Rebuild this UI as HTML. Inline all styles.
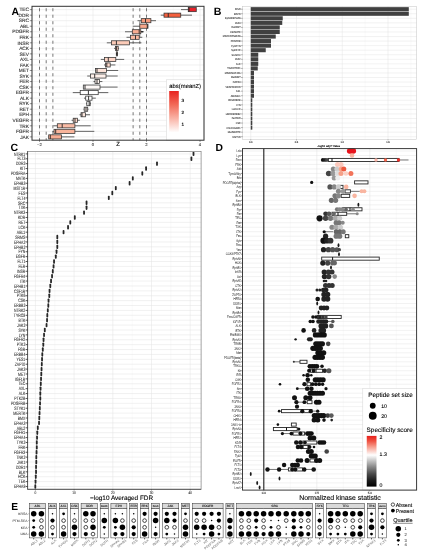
<!DOCTYPE html>
<html lang="en"><head><meta charset="utf-8"><title>Figure</title>
<style>
html,body{margin:0;padding:0;background:#fff;}
body{width:428px;height:550px;overflow:hidden;font-family:'Liberation Sans', sans-serif;}
svg{display:block;font-family:'Liberation Sans', sans-serif;text-rendering:geometricPrecision;filter:blur(0.35px);}
</style></head><body>
<svg width="428" height="550" viewBox="0 0 428 550">
<defs>
<linearGradient id="gA" x1="0" y1="0" x2="0" y2="1">
<stop offset="0" stop-color="#e8231f"/><stop offset="0.33" stop-color="#f26a58"/><stop offset="0.66" stop-color="#f9b3a6"/><stop offset="1" stop-color="#ffffff"/>
</linearGradient>
<linearGradient id="gD" x1="0" y1="0" x2="0" y2="1">
<stop offset="0" stop-color="#e8201c"/><stop offset="0.1" stop-color="#ef5040"/><stop offset="0.22" stop-color="#f7a090"/><stop offset="0.378" stop-color="#ffffff"/><stop offset="0.5" stop-color="#c0c0c0"/><stop offset="0.62" stop-color="#858585"/><stop offset="0.75" stop-color="#4a4a4a"/><stop offset="0.88" stop-color="#1c1c1c"/><stop offset="1" stop-color="#000000"/>
</linearGradient>
</defs>
<rect width="428" height="550" fill="#fff"/>
<g id="panelA">
<line x1="66.25" y1="6.30" x2="66.25" y2="140.20" stroke="#ededed" stroke-width="0.3"/>
<line x1="119.75" y1="6.30" x2="119.75" y2="140.20" stroke="#ededed" stroke-width="0.3"/>
<line x1="173.25" y1="6.30" x2="173.25" y2="140.20" stroke="#ededed" stroke-width="0.3"/>
<line x1="39.50" y1="6.30" x2="39.50" y2="140.20" stroke="#e3e3e3" stroke-width="0.5"/>
<line x1="93.00" y1="6.30" x2="93.00" y2="140.20" stroke="#e3e3e3" stroke-width="0.5"/>
<line x1="146.50" y1="6.30" x2="146.50" y2="140.20" stroke="#e3e3e3" stroke-width="0.5"/>
<line x1="200.00" y1="6.30" x2="200.00" y2="140.20" stroke="#e3e3e3" stroke-width="0.5"/>
<line x1="32.00" y1="9.62" x2="204.00" y2="9.62" stroke="#e3e3e3" stroke-width="0.5"/>
<line x1="32.00" y1="15.15" x2="204.00" y2="15.15" stroke="#e3e3e3" stroke-width="0.5"/>
<line x1="32.00" y1="20.69" x2="204.00" y2="20.69" stroke="#e3e3e3" stroke-width="0.5"/>
<line x1="32.00" y1="26.22" x2="204.00" y2="26.22" stroke="#e3e3e3" stroke-width="0.5"/>
<line x1="32.00" y1="31.75" x2="204.00" y2="31.75" stroke="#e3e3e3" stroke-width="0.5"/>
<line x1="32.00" y1="37.29" x2="204.00" y2="37.29" stroke="#e3e3e3" stroke-width="0.5"/>
<line x1="32.00" y1="42.82" x2="204.00" y2="42.82" stroke="#e3e3e3" stroke-width="0.5"/>
<line x1="32.00" y1="48.35" x2="204.00" y2="48.35" stroke="#e3e3e3" stroke-width="0.5"/>
<line x1="32.00" y1="53.88" x2="204.00" y2="53.88" stroke="#e3e3e3" stroke-width="0.5"/>
<line x1="32.00" y1="59.42" x2="204.00" y2="59.42" stroke="#e3e3e3" stroke-width="0.5"/>
<line x1="32.00" y1="64.95" x2="204.00" y2="64.95" stroke="#e3e3e3" stroke-width="0.5"/>
<line x1="32.00" y1="70.48" x2="204.00" y2="70.48" stroke="#e3e3e3" stroke-width="0.5"/>
<line x1="32.00" y1="76.02" x2="204.00" y2="76.02" stroke="#e3e3e3" stroke-width="0.5"/>
<line x1="32.00" y1="81.55" x2="204.00" y2="81.55" stroke="#e3e3e3" stroke-width="0.5"/>
<line x1="32.00" y1="87.08" x2="204.00" y2="87.08" stroke="#e3e3e3" stroke-width="0.5"/>
<line x1="32.00" y1="92.62" x2="204.00" y2="92.62" stroke="#e3e3e3" stroke-width="0.5"/>
<line x1="32.00" y1="98.15" x2="204.00" y2="98.15" stroke="#e3e3e3" stroke-width="0.5"/>
<line x1="32.00" y1="103.68" x2="204.00" y2="103.68" stroke="#e3e3e3" stroke-width="0.5"/>
<line x1="32.00" y1="109.21" x2="204.00" y2="109.21" stroke="#e3e3e3" stroke-width="0.5"/>
<line x1="32.00" y1="114.75" x2="204.00" y2="114.75" stroke="#e3e3e3" stroke-width="0.5"/>
<line x1="32.00" y1="120.28" x2="204.00" y2="120.28" stroke="#e3e3e3" stroke-width="0.5"/>
<line x1="32.00" y1="125.81" x2="204.00" y2="125.81" stroke="#e3e3e3" stroke-width="0.5"/>
<line x1="32.00" y1="131.35" x2="204.00" y2="131.35" stroke="#e3e3e3" stroke-width="0.5"/>
<line x1="32.00" y1="136.88" x2="204.00" y2="136.88" stroke="#e3e3e3" stroke-width="0.5"/>
<line x1="39.50" y1="6.30" x2="39.50" y2="140.20" stroke="#606060" stroke-width="0.85" stroke-dasharray="3.1,3.4" stroke-dashoffset="4.6"/>
<line x1="46.19" y1="6.30" x2="46.19" y2="140.20" stroke="#606060" stroke-width="0.85" stroke-dasharray="3.1,3.4" stroke-dashoffset="4.6"/>
<line x1="52.88" y1="6.30" x2="52.88" y2="140.20" stroke="#606060" stroke-width="0.85" stroke-dasharray="3.1,3.4" stroke-dashoffset="4.6"/>
<line x1="133.12" y1="6.30" x2="133.12" y2="140.20" stroke="#606060" stroke-width="0.85" stroke-dasharray="3.1,3.4" stroke-dashoffset="4.6"/>
<line x1="139.81" y1="6.30" x2="139.81" y2="140.20" stroke="#606060" stroke-width="0.85" stroke-dasharray="3.1,3.4" stroke-dashoffset="4.6"/>
<line x1="146.50" y1="6.30" x2="146.50" y2="140.20" stroke="#606060" stroke-width="0.85" stroke-dasharray="3.1,3.4" stroke-dashoffset="4.6"/>
<line x1="181.00" y1="9.62" x2="196.25" y2="9.62" stroke="#333" stroke-width="0.75"/>
<rect x="188.25" y="7.57" width="8.00" height="4.10" fill="#e8222a" stroke="#333" stroke-width="0.75"/>
<line x1="189.00" y1="7.57" x2="189.00" y2="11.67" stroke="#222" stroke-width="0.9"/>
<line x1="160.75" y1="15.15" x2="192.00" y2="15.15" stroke="#333" stroke-width="0.75"/>
<rect x="164.00" y="13.10" width="16.75" height="4.10" fill="#f4603e" stroke="#333" stroke-width="0.75"/>
<line x1="168.25" y1="13.10" x2="168.25" y2="17.20" stroke="#222" stroke-width="0.9"/>
<line x1="137.50" y1="20.69" x2="156.00" y2="20.69" stroke="#333" stroke-width="0.75"/>
<rect x="141.25" y="18.64" width="9.65" height="4.10" fill="#f59a7c" stroke="#333" stroke-width="0.75"/>
<line x1="145.50" y1="18.64" x2="145.50" y2="22.74" stroke="#222" stroke-width="0.9"/>
<line x1="132.75" y1="26.22" x2="148.00" y2="26.22" stroke="#333" stroke-width="0.75"/>
<rect x="139.80" y="24.17" width="8.20" height="4.10" fill="#f7a68a" stroke="#333" stroke-width="0.75"/>
<line x1="147.30" y1="24.17" x2="147.30" y2="28.27" stroke="#222" stroke-width="0.9"/>
<line x1="125.00" y1="31.75" x2="143.75" y2="31.75" stroke="#333" stroke-width="0.75"/>
<rect x="132.30" y="29.70" width="8.50" height="4.10" fill="#f8ad92" stroke="#333" stroke-width="0.75"/>
<line x1="139.20" y1="29.70" x2="139.20" y2="33.80" stroke="#222" stroke-width="0.9"/>
<line x1="126.50" y1="37.29" x2="142.30" y2="37.29" stroke="#333" stroke-width="0.75"/>
<rect x="130.60" y="35.24" width="8.60" height="4.10" fill="#f9b9a1" stroke="#333" stroke-width="0.75"/>
<line x1="135.50" y1="35.24" x2="135.50" y2="39.34" stroke="#222" stroke-width="0.9"/>
<line x1="106.80" y1="42.82" x2="141.40" y2="42.82" stroke="#333" stroke-width="0.75"/>
<rect x="111.50" y="40.77" width="17.90" height="4.10" fill="#fbcbb8" stroke="#333" stroke-width="0.75"/>
<line x1="116.40" y1="40.77" x2="116.40" y2="44.87" stroke="#222" stroke-width="0.9"/>
<line x1="114.00" y1="48.35" x2="119.00" y2="48.35" stroke="#333" stroke-width="0.75"/>
<rect x="115.40" y="46.30" width="2.80" height="4.10" fill="#fbcbb8" stroke="#333" stroke-width="0.75"/>
<line x1="116.60" y1="46.30" x2="116.60" y2="50.40" stroke="#222" stroke-width="0.9"/>
<line x1="116.30" y1="53.88" x2="117.50" y2="53.88" stroke="#333" stroke-width="0.75"/>
<rect x="116.30" y="51.83" width="1.20" height="4.10" fill="#fbcbb8" stroke="#333" stroke-width="0.75"/>
<line x1="116.90" y1="51.83" x2="116.90" y2="55.93" stroke="#222" stroke-width="0.9"/>
<line x1="100.80" y1="59.42" x2="124.20" y2="59.42" stroke="#333" stroke-width="0.75"/>
<rect x="104.60" y="57.37" width="11.20" height="4.10" fill="#fcd5c6" stroke="#333" stroke-width="0.75"/>
<line x1="108.30" y1="57.37" x2="108.30" y2="61.47" stroke="#222" stroke-width="0.9"/>
<line x1="104.00" y1="64.95" x2="115.40" y2="64.95" stroke="#333" stroke-width="0.75"/>
<rect x="105.50" y="62.90" width="4.70" height="4.10" fill="#fcd9cb" stroke="#333" stroke-width="0.75"/>
<line x1="106.80" y1="62.90" x2="106.80" y2="67.00" stroke="#222" stroke-width="0.9"/>
<line x1="95.60" y1="70.48" x2="118.20" y2="70.48" stroke="#333" stroke-width="0.75"/>
<rect x="95.60" y="68.43" width="10.80" height="4.10" fill="#fde4da" stroke="#333" stroke-width="0.75"/>
<line x1="97.00" y1="68.43" x2="97.00" y2="72.53" stroke="#222" stroke-width="0.9"/>
<line x1="87.20" y1="76.02" x2="117.70" y2="76.02" stroke="#333" stroke-width="0.75"/>
<rect x="90.60" y="73.97" width="15.40" height="4.10" fill="#fef0ea" stroke="#333" stroke-width="0.75"/>
<line x1="94.70" y1="73.97" x2="94.70" y2="78.07" stroke="#222" stroke-width="0.9"/>
<line x1="93.50" y1="81.55" x2="102.40" y2="81.55" stroke="#333" stroke-width="0.75"/>
<rect x="95.00" y="79.50" width="4.60" height="4.10" fill="#fef3ee" stroke="#333" stroke-width="0.75"/>
<line x1="97.00" y1="79.50" x2="97.00" y2="83.60" stroke="#222" stroke-width="0.9"/>
<line x1="83.30" y1="87.08" x2="117.60" y2="87.08" stroke="#333" stroke-width="0.75"/>
<rect x="83.30" y="85.03" width="16.70" height="4.10" fill="#fffaf8" stroke="#333" stroke-width="0.75"/>
<line x1="85.00" y1="85.03" x2="85.00" y2="89.13" stroke="#222" stroke-width="0.9"/>
<line x1="72.80" y1="92.62" x2="108.30" y2="92.62" stroke="#333" stroke-width="0.75"/>
<rect x="80.20" y="90.57" width="18.00" height="4.10" fill="#ffffff" stroke="#333" stroke-width="0.75"/>
<line x1="88.40" y1="90.57" x2="88.40" y2="94.67" stroke="#222" stroke-width="0.9"/>
<line x1="84.00" y1="98.15" x2="95.80" y2="98.15" stroke="#333" stroke-width="0.75"/>
<rect x="85.70" y="96.10" width="6.30" height="4.10" fill="#ffffff" stroke="#333" stroke-width="0.75"/>
<line x1="88.60" y1="96.10" x2="88.60" y2="100.20" stroke="#222" stroke-width="0.9"/>
<line x1="86.00" y1="103.68" x2="91.00" y2="103.68" stroke="#333" stroke-width="0.75"/>
<rect x="86.80" y="101.63" width="3.40" height="4.10" fill="#f4f4f4" stroke="#333" stroke-width="0.75"/>
<line x1="89.20" y1="101.63" x2="89.20" y2="105.73" stroke="#222" stroke-width="0.9"/>
<line x1="83.50" y1="109.21" x2="88.50" y2="109.21" stroke="#333" stroke-width="0.75"/>
<rect x="84.20" y="107.16" width="3.50" height="4.10" fill="#fff5f0" stroke="#333" stroke-width="0.75"/>
<line x1="86.00" y1="107.16" x2="86.00" y2="111.26" stroke="#222" stroke-width="0.9"/>
<line x1="79.50" y1="114.75" x2="90.00" y2="114.75" stroke="#333" stroke-width="0.75"/>
<rect x="81.00" y="112.70" width="4.40" height="4.10" fill="#fde9e0" stroke="#333" stroke-width="0.75"/>
<line x1="82.00" y1="112.70" x2="82.00" y2="116.80" stroke="#222" stroke-width="0.9"/>
<line x1="71.60" y1="120.28" x2="79.80" y2="120.28" stroke="#333" stroke-width="0.75"/>
<rect x="73.20" y="118.23" width="4.20" height="4.10" fill="#fcd9cb" stroke="#333" stroke-width="0.75"/>
<line x1="75.00" y1="118.23" x2="75.00" y2="122.33" stroke="#222" stroke-width="0.9"/>
<line x1="53.40" y1="125.81" x2="90.70" y2="125.81" stroke="#333" stroke-width="0.75"/>
<rect x="57.30" y="123.76" width="17.60" height="4.10" fill="#f9bba5" stroke="#333" stroke-width="0.75"/>
<line x1="62.20" y1="123.76" x2="62.20" y2="127.86" stroke="#222" stroke-width="0.9"/>
<line x1="52.20" y1="131.35" x2="94.30" y2="131.35" stroke="#333" stroke-width="0.75"/>
<rect x="54.00" y="129.30" width="20.90" height="4.10" fill="#f8b49b" stroke="#333" stroke-width="0.75"/>
<line x1="55.70" y1="129.30" x2="55.70" y2="133.40" stroke="#222" stroke-width="0.9"/>
<line x1="48.70" y1="136.88" x2="74.40" y2="136.88" stroke="#333" stroke-width="0.75"/>
<rect x="48.70" y="134.83" width="12.80" height="4.10" fill="#f7ad93" stroke="#333" stroke-width="0.75"/>
<line x1="50.30" y1="134.83" x2="50.30" y2="138.93" stroke="#222" stroke-width="0.9"/>
<circle cx="141.50" cy="31.75" r="0.70" fill="#222" stroke="none" stroke-width="0.5"/>
<circle cx="142.60" cy="31.75" r="0.70" fill="#222" stroke="none" stroke-width="0.5"/>
<circle cx="116.80" cy="53.88" r="0.70" fill="#222" stroke="none" stroke-width="0.5"/>
<rect x="166.40" y="79.80" width="37.60" height="60.40" fill="#fff" stroke="#d4d4d4" stroke-width="0.5"/>
<text x="169.30" y="88.00" font-size="5.9" text-anchor="start" fill="#000" stroke="#000" stroke-width="0.1">abs(meanZ)</text>
<rect x="169.20" y="91.00" width="9.60" height="41.60" fill="url(#gA)" stroke="none" stroke-width="0.5"/>
<text x="181.50" y="101.60" font-size="4.6" text-anchor="start" fill="#000" stroke="#000" stroke-width="0.14">3</text>
<text x="181.50" y="114.00" font-size="4.6" text-anchor="start" fill="#000" stroke="#000" stroke-width="0.14">2</text>
<text x="181.50" y="126.00" font-size="4.6" text-anchor="start" fill="#000" stroke="#000" stroke-width="0.14">1</text>
<rect x="32.00" y="6.30" width="172.00" height="133.90" fill="none" stroke="#333" stroke-width="1.0"/>
<line x1="29.80" y1="9.62" x2="32.00" y2="9.62" stroke="#222" stroke-width="0.5"/>
<text x="29.00" y="11.32" font-size="4.8" text-anchor="end" fill="#404040" stroke="#404040" stroke-width="0.14">TEC</text>
<line x1="29.80" y1="15.15" x2="32.00" y2="15.15" stroke="#222" stroke-width="0.5"/>
<text x="29.00" y="16.85" font-size="4.8" text-anchor="end" fill="#404040" stroke="#404040" stroke-width="0.14">DDR</text>
<line x1="29.80" y1="20.69" x2="32.00" y2="20.69" stroke="#222" stroke-width="0.5"/>
<text x="29.00" y="22.39" font-size="4.8" text-anchor="end" fill="#404040" stroke="#404040" stroke-width="0.14">SRC</text>
<line x1="29.80" y1="26.22" x2="32.00" y2="26.22" stroke="#222" stroke-width="0.5"/>
<text x="29.00" y="27.92" font-size="4.8" text-anchor="end" fill="#404040" stroke="#404040" stroke-width="0.14">ABL</text>
<line x1="29.80" y1="31.75" x2="32.00" y2="31.75" stroke="#222" stroke-width="0.5"/>
<text x="29.00" y="33.45" font-size="4.8" text-anchor="end" fill="#404040" stroke="#404040" stroke-width="0.14">PDGFR</text>
<line x1="29.80" y1="37.29" x2="32.00" y2="37.29" stroke="#222" stroke-width="0.5"/>
<text x="29.00" y="38.99" font-size="4.8" text-anchor="end" fill="#404040" stroke="#404040" stroke-width="0.14">FRK</text>
<line x1="29.80" y1="42.82" x2="32.00" y2="42.82" stroke="#222" stroke-width="0.5"/>
<text x="29.00" y="44.52" font-size="4.8" text-anchor="end" fill="#404040" stroke="#404040" stroke-width="0.14">INSR</text>
<line x1="29.80" y1="48.35" x2="32.00" y2="48.35" stroke="#222" stroke-width="0.5"/>
<text x="29.00" y="50.05" font-size="4.8" text-anchor="end" fill="#404040" stroke="#404040" stroke-width="0.14">ACK</text>
<line x1="29.80" y1="53.88" x2="32.00" y2="53.88" stroke="#222" stroke-width="0.5"/>
<text x="29.00" y="55.58" font-size="4.8" text-anchor="end" fill="#404040" stroke="#404040" stroke-width="0.14">SEV</text>
<line x1="29.80" y1="59.42" x2="32.00" y2="59.42" stroke="#222" stroke-width="0.5"/>
<text x="29.00" y="61.12" font-size="4.8" text-anchor="end" fill="#404040" stroke="#404040" stroke-width="0.14">AXL</text>
<line x1="29.80" y1="64.95" x2="32.00" y2="64.95" stroke="#222" stroke-width="0.5"/>
<text x="29.00" y="66.65" font-size="4.8" text-anchor="end" fill="#404040" stroke="#404040" stroke-width="0.14">FAK</text>
<line x1="29.80" y1="70.48" x2="32.00" y2="70.48" stroke="#222" stroke-width="0.5"/>
<text x="29.00" y="72.18" font-size="4.8" text-anchor="end" fill="#404040" stroke="#404040" stroke-width="0.14">MET</text>
<line x1="29.80" y1="76.02" x2="32.00" y2="76.02" stroke="#222" stroke-width="0.5"/>
<text x="29.00" y="77.72" font-size="4.8" text-anchor="end" fill="#404040" stroke="#404040" stroke-width="0.14">SYK</text>
<line x1="29.80" y1="81.55" x2="32.00" y2="81.55" stroke="#222" stroke-width="0.5"/>
<text x="29.00" y="83.25" font-size="4.8" text-anchor="end" fill="#404040" stroke="#404040" stroke-width="0.14">FER</text>
<line x1="29.80" y1="87.08" x2="32.00" y2="87.08" stroke="#222" stroke-width="0.5"/>
<text x="29.00" y="88.78" font-size="4.8" text-anchor="end" fill="#404040" stroke="#404040" stroke-width="0.14">CSK</text>
<line x1="29.80" y1="92.62" x2="32.00" y2="92.62" stroke="#222" stroke-width="0.5"/>
<text x="29.00" y="94.32" font-size="4.8" text-anchor="end" fill="#404040" stroke="#404040" stroke-width="0.14">EGFR</text>
<line x1="29.80" y1="98.15" x2="32.00" y2="98.15" stroke="#222" stroke-width="0.5"/>
<text x="29.00" y="99.85" font-size="4.8" text-anchor="end" fill="#404040" stroke="#404040" stroke-width="0.14">ALK</text>
<line x1="29.80" y1="103.68" x2="32.00" y2="103.68" stroke="#222" stroke-width="0.5"/>
<text x="29.00" y="105.38" font-size="4.8" text-anchor="end" fill="#404040" stroke="#404040" stroke-width="0.14">RYK</text>
<line x1="29.80" y1="109.21" x2="32.00" y2="109.21" stroke="#222" stroke-width="0.5"/>
<text x="29.00" y="110.91" font-size="4.8" text-anchor="end" fill="#404040" stroke="#404040" stroke-width="0.14">RET</text>
<line x1="29.80" y1="114.75" x2="32.00" y2="114.75" stroke="#222" stroke-width="0.5"/>
<text x="29.00" y="116.45" font-size="4.8" text-anchor="end" fill="#404040" stroke="#404040" stroke-width="0.14">EPH</text>
<line x1="29.80" y1="120.28" x2="32.00" y2="120.28" stroke="#222" stroke-width="0.5"/>
<text x="29.00" y="121.98" font-size="4.8" text-anchor="end" fill="#404040" stroke="#404040" stroke-width="0.14">VEGFR</text>
<line x1="29.80" y1="125.81" x2="32.00" y2="125.81" stroke="#222" stroke-width="0.5"/>
<text x="29.00" y="127.51" font-size="4.8" text-anchor="end" fill="#404040" stroke="#404040" stroke-width="0.14">TRK</text>
<line x1="29.80" y1="131.35" x2="32.00" y2="131.35" stroke="#222" stroke-width="0.5"/>
<text x="29.00" y="133.05" font-size="4.8" text-anchor="end" fill="#404040" stroke="#404040" stroke-width="0.14">FGFR</text>
<line x1="29.80" y1="136.88" x2="32.00" y2="136.88" stroke="#222" stroke-width="0.5"/>
<text x="29.00" y="138.58" font-size="4.8" text-anchor="end" fill="#404040" stroke="#404040" stroke-width="0.14">JAK</text>
<line x1="39.50" y1="140.20" x2="39.50" y2="141.80" stroke="#222" stroke-width="0.5"/>
<text x="39.50" y="145.80" font-size="4.2" text-anchor="middle" fill="#4d4d4d" stroke="#4d4d4d" stroke-width="0.14">−2</text>
<line x1="93.00" y1="140.20" x2="93.00" y2="141.80" stroke="#222" stroke-width="0.5"/>
<text x="93.00" y="145.80" font-size="4.2" text-anchor="middle" fill="#4d4d4d" stroke="#4d4d4d" stroke-width="0.14">0</text>
<line x1="146.50" y1="140.20" x2="146.50" y2="141.80" stroke="#222" stroke-width="0.5"/>
<text x="146.50" y="145.80" font-size="4.2" text-anchor="middle" fill="#4d4d4d" stroke="#4d4d4d" stroke-width="0.14">2</text>
<line x1="200.00" y1="140.20" x2="200.00" y2="141.80" stroke="#222" stroke-width="0.5"/>
<text x="200.00" y="145.80" font-size="4.2" text-anchor="middle" fill="#4d4d4d" stroke="#4d4d4d" stroke-width="0.14">4</text>
<text x="118.00" y="145.80" font-size="6" text-anchor="middle" fill="#000" stroke="#000" stroke-width="0.1">Z</text>
<text x="11.60" y="14.60" font-size="10.4" text-anchor="start" fill="#000" font-weight="bold">A</text>
</g>
<g id="panelB">
<line x1="273.62" y1="6.40" x2="273.62" y2="139.30" stroke="#ededed" stroke-width="0.3"/>
<line x1="319.38" y1="6.40" x2="319.38" y2="139.30" stroke="#ededed" stroke-width="0.3"/>
<line x1="365.12" y1="6.40" x2="365.12" y2="139.30" stroke="#ededed" stroke-width="0.3"/>
<line x1="410.88" y1="6.40" x2="410.88" y2="139.30" stroke="#ededed" stroke-width="0.3"/>
<line x1="250.75" y1="6.40" x2="250.75" y2="139.30" stroke="#e3e3e3" stroke-width="0.5"/>
<line x1="296.50" y1="6.40" x2="296.50" y2="139.30" stroke="#e3e3e3" stroke-width="0.5"/>
<line x1="342.25" y1="6.40" x2="342.25" y2="139.30" stroke="#e3e3e3" stroke-width="0.5"/>
<line x1="388.00" y1="6.40" x2="388.00" y2="139.30" stroke="#e3e3e3" stroke-width="0.5"/>
<line x1="242.60" y1="9.20" x2="416.70" y2="9.20" stroke="#e3e3e3" stroke-width="0.45"/>
<line x1="242.60" y1="13.75" x2="416.70" y2="13.75" stroke="#e3e3e3" stroke-width="0.45"/>
<line x1="242.60" y1="18.31" x2="416.70" y2="18.31" stroke="#e3e3e3" stroke-width="0.45"/>
<line x1="242.60" y1="22.86" x2="416.70" y2="22.86" stroke="#e3e3e3" stroke-width="0.45"/>
<line x1="242.60" y1="27.42" x2="416.70" y2="27.42" stroke="#e3e3e3" stroke-width="0.45"/>
<line x1="242.60" y1="31.97" x2="416.70" y2="31.97" stroke="#e3e3e3" stroke-width="0.45"/>
<line x1="242.60" y1="36.52" x2="416.70" y2="36.52" stroke="#e3e3e3" stroke-width="0.45"/>
<line x1="242.60" y1="41.08" x2="416.70" y2="41.08" stroke="#e3e3e3" stroke-width="0.45"/>
<line x1="242.60" y1="45.63" x2="416.70" y2="45.63" stroke="#e3e3e3" stroke-width="0.45"/>
<line x1="242.60" y1="50.19" x2="416.70" y2="50.19" stroke="#e3e3e3" stroke-width="0.45"/>
<line x1="242.60" y1="54.74" x2="416.70" y2="54.74" stroke="#e3e3e3" stroke-width="0.45"/>
<line x1="242.60" y1="59.29" x2="416.70" y2="59.29" stroke="#e3e3e3" stroke-width="0.45"/>
<line x1="242.60" y1="63.85" x2="416.70" y2="63.85" stroke="#e3e3e3" stroke-width="0.45"/>
<line x1="242.60" y1="68.40" x2="416.70" y2="68.40" stroke="#e3e3e3" stroke-width="0.45"/>
<line x1="242.60" y1="72.96" x2="416.70" y2="72.96" stroke="#e3e3e3" stroke-width="0.45"/>
<line x1="242.60" y1="77.51" x2="416.70" y2="77.51" stroke="#e3e3e3" stroke-width="0.45"/>
<line x1="242.60" y1="82.06" x2="416.70" y2="82.06" stroke="#e3e3e3" stroke-width="0.45"/>
<line x1="242.60" y1="86.62" x2="416.70" y2="86.62" stroke="#e3e3e3" stroke-width="0.45"/>
<line x1="242.60" y1="91.17" x2="416.70" y2="91.17" stroke="#e3e3e3" stroke-width="0.45"/>
<line x1="242.60" y1="95.73" x2="416.70" y2="95.73" stroke="#e3e3e3" stroke-width="0.45"/>
<line x1="242.60" y1="100.28" x2="416.70" y2="100.28" stroke="#e3e3e3" stroke-width="0.45"/>
<line x1="242.60" y1="104.83" x2="416.70" y2="104.83" stroke="#e3e3e3" stroke-width="0.45"/>
<line x1="242.60" y1="109.39" x2="416.70" y2="109.39" stroke="#e3e3e3" stroke-width="0.45"/>
<line x1="242.60" y1="113.94" x2="416.70" y2="113.94" stroke="#e3e3e3" stroke-width="0.45"/>
<line x1="242.60" y1="118.50" x2="416.70" y2="118.50" stroke="#e3e3e3" stroke-width="0.45"/>
<line x1="242.60" y1="123.05" x2="416.70" y2="123.05" stroke="#e3e3e3" stroke-width="0.45"/>
<line x1="242.60" y1="127.60" x2="416.70" y2="127.60" stroke="#e3e3e3" stroke-width="0.45"/>
<line x1="242.60" y1="132.16" x2="416.70" y2="132.16" stroke="#e3e3e3" stroke-width="0.45"/>
<line x1="242.60" y1="136.71" x2="416.70" y2="136.71" stroke="#e3e3e3" stroke-width="0.45"/>
<rect x="250.75" y="7.15" width="158.05" height="4.10" fill="#404040" stroke="none" stroke-width="0.5"/>
<rect x="250.75" y="11.71" width="158.05" height="4.10" fill="#404040" stroke="none" stroke-width="0.5"/>
<rect x="250.75" y="16.26" width="32.00" height="4.10" fill="#404040" stroke="none" stroke-width="0.5"/>
<rect x="250.75" y="20.81" width="31.50" height="4.10" fill="#404040" stroke="none" stroke-width="0.5"/>
<rect x="250.75" y="25.37" width="29.00" height="4.10" fill="#404040" stroke="none" stroke-width="0.5"/>
<rect x="250.75" y="29.92" width="29.00" height="4.10" fill="#404040" stroke="none" stroke-width="0.5"/>
<rect x="250.75" y="34.48" width="25.00" height="4.10" fill="#404040" stroke="none" stroke-width="0.5"/>
<rect x="250.75" y="39.03" width="20.25" height="4.10" fill="#404040" stroke="none" stroke-width="0.5"/>
<rect x="250.75" y="43.58" width="20.25" height="4.10" fill="#404040" stroke="none" stroke-width="0.5"/>
<rect x="250.75" y="48.14" width="15.00" height="4.10" fill="#404040" stroke="none" stroke-width="0.5"/>
<rect x="250.75" y="52.69" width="7.50" height="4.10" fill="#404040" stroke="none" stroke-width="0.5"/>
<rect x="250.75" y="57.25" width="7.50" height="4.10" fill="#404040" stroke="none" stroke-width="0.5"/>
<rect x="250.75" y="61.80" width="7.50" height="4.10" fill="#404040" stroke="none" stroke-width="0.5"/>
<rect x="250.75" y="66.35" width="7.00" height="4.10" fill="#404040" stroke="none" stroke-width="0.5"/>
<rect x="250.75" y="70.91" width="3.25" height="4.10" fill="#404040" stroke="none" stroke-width="0.5"/>
<rect x="250.75" y="75.46" width="3.25" height="4.10" fill="#404040" stroke="none" stroke-width="0.5"/>
<rect x="250.75" y="80.02" width="3.25" height="4.10" fill="#404040" stroke="none" stroke-width="0.5"/>
<rect x="250.75" y="84.57" width="3.25" height="4.10" fill="#404040" stroke="none" stroke-width="0.5"/>
<rect x="250.75" y="89.12" width="3.25" height="4.10" fill="#404040" stroke="none" stroke-width="0.5"/>
<rect x="250.75" y="93.68" width="3.25" height="4.10" fill="#404040" stroke="none" stroke-width="0.5"/>
<rect x="250.75" y="98.23" width="1.55" height="4.10" fill="#404040" stroke="none" stroke-width="0.5"/>
<rect x="250.75" y="102.79" width="1.55" height="4.10" fill="#404040" stroke="none" stroke-width="0.5"/>
<rect x="250.75" y="107.34" width="1.55" height="4.10" fill="#404040" stroke="none" stroke-width="0.5"/>
<rect x="250.75" y="111.89" width="1.55" height="4.10" fill="#404040" stroke="none" stroke-width="0.5"/>
<rect x="250.75" y="116.45" width="1.55" height="4.10" fill="#404040" stroke="none" stroke-width="0.5"/>
<rect x="250.75" y="121.00" width="1.55" height="4.10" fill="#404040" stroke="none" stroke-width="0.5"/>
<rect x="250.75" y="125.56" width="1.55" height="4.10" fill="#404040" stroke="none" stroke-width="0.5"/>
<rect x="242.60" y="6.40" width="174.10" height="132.90" fill="none" stroke="#c4c4c4" stroke-width="0.5"/>
<line x1="241.20" y1="9.20" x2="242.60" y2="9.20" stroke="#444" stroke-width="0.5"/>
<text transform="translate(240.60,10.15) scale(0.88,1)" font-size="2.7" text-anchor="end" fill="#444" stroke="#444" stroke-width="0.09">INSR</text>
<line x1="241.20" y1="13.75" x2="242.60" y2="13.75" stroke="#444" stroke-width="0.5"/>
<text transform="translate(240.60,14.70) scale(0.88,1)" font-size="2.7" text-anchor="end" fill="#444" stroke="#444" stroke-width="0.09">EGFR</text>
<line x1="241.20" y1="18.31" x2="242.60" y2="18.31" stroke="#444" stroke-width="0.5"/>
<text transform="translate(240.60,19.26) scale(0.88,1)" font-size="2.7" text-anchor="end" fill="#444" stroke="#444" stroke-width="0.09">EphA5/EPHA5</text>
<line x1="241.20" y1="22.86" x2="242.60" y2="22.86" stroke="#444" stroke-width="0.5"/>
<text transform="translate(240.60,23.81) scale(0.88,1)" font-size="2.7" text-anchor="end" fill="#444" stroke="#444" stroke-width="0.09">JAK3</text>
<line x1="241.20" y1="27.42" x2="242.60" y2="27.42" stroke="#444" stroke-width="0.5"/>
<text transform="translate(240.60,28.37) scale(0.88,1)" font-size="2.7" text-anchor="end" fill="#444" stroke="#444" stroke-width="0.09">Ret/RET</text>
<line x1="241.20" y1="31.97" x2="242.60" y2="31.97" stroke="#444" stroke-width="0.5"/>
<text transform="translate(240.60,32.92) scale(0.88,1)" font-size="2.7" text-anchor="end" fill="#444" stroke="#444" stroke-width="0.09">Ctk/MATK</text>
<line x1="241.20" y1="36.52" x2="242.60" y2="36.52" stroke="#444" stroke-width="0.5"/>
<text transform="translate(240.60,37.47) scale(0.88,1)" font-size="2.7" text-anchor="end" fill="#444" stroke="#444" stroke-width="0.09">MSK1/RPS6KA5</text>
<line x1="241.20" y1="41.08" x2="242.60" y2="41.08" stroke="#444" stroke-width="0.5"/>
<text transform="translate(240.60,42.03) scale(0.88,1)" font-size="2.7" text-anchor="end" fill="#444" stroke="#444" stroke-width="0.09">PDGFRB</text>
<line x1="241.20" y1="45.63" x2="242.60" y2="45.63" stroke="#444" stroke-width="0.5"/>
<text transform="translate(240.60,46.58) scale(0.88,1)" font-size="2.7" text-anchor="end" fill="#444" stroke="#444" stroke-width="0.09">Fyn/FYN</text>
<line x1="241.20" y1="50.19" x2="242.60" y2="50.19" stroke="#444" stroke-width="0.5"/>
<text transform="translate(240.60,51.14) scale(0.88,1)" font-size="2.7" text-anchor="end" fill="#444" stroke="#444" stroke-width="0.09">Syk/SYK</text>
<line x1="241.20" y1="54.74" x2="242.60" y2="54.74" stroke="#444" stroke-width="0.5"/>
<text transform="translate(240.60,55.69) scale(0.88,1)" font-size="2.7" text-anchor="end" fill="#444" stroke="#444" stroke-width="0.09">Src/SRC</text>
<line x1="241.20" y1="59.29" x2="242.60" y2="59.29" stroke="#444" stroke-width="0.5"/>
<text transform="translate(240.60,60.24) scale(0.88,1)" font-size="2.7" text-anchor="end" fill="#444" stroke="#444" stroke-width="0.09">JAK2</text>
<line x1="241.20" y1="63.85" x2="242.60" y2="63.85" stroke="#444" stroke-width="0.5"/>
<text transform="translate(240.60,64.80) scale(0.88,1)" font-size="2.7" text-anchor="end" fill="#444" stroke="#444" stroke-width="0.09">ALK</text>
<line x1="241.20" y1="68.40" x2="242.60" y2="68.40" stroke="#444" stroke-width="0.5"/>
<text transform="translate(240.60,69.35) scale(0.88,1)" font-size="2.7" text-anchor="end" fill="#444" stroke="#444" stroke-width="0.09">TrkA/NTRK1</text>
<line x1="241.20" y1="72.96" x2="242.60" y2="72.96" stroke="#444" stroke-width="0.5"/>
<text transform="translate(240.60,73.91) scale(0.88,1)" font-size="2.7" text-anchor="end" fill="#444" stroke="#444" stroke-width="0.09">MINK/MAP4K6</text>
<line x1="241.20" y1="77.51" x2="242.60" y2="77.51" stroke="#444" stroke-width="0.5"/>
<text transform="translate(240.60,78.46) scale(0.88,1)" font-size="2.7" text-anchor="end" fill="#444" stroke="#444" stroke-width="0.09">Met/MET</text>
<line x1="241.20" y1="82.06" x2="242.60" y2="82.06" stroke="#444" stroke-width="0.5"/>
<text transform="translate(240.60,83.01) scale(0.88,1)" font-size="2.7" text-anchor="end" fill="#444" stroke="#444" stroke-width="0.09">DAPK3</text>
<line x1="241.20" y1="86.62" x2="242.60" y2="86.62" stroke="#444" stroke-width="0.5"/>
<text transform="translate(240.60,87.57) scale(0.88,1)" font-size="2.7" text-anchor="end" fill="#444" stroke="#444" stroke-width="0.09">VEGFR2/KDR</text>
<line x1="241.20" y1="91.17" x2="242.60" y2="91.17" stroke="#444" stroke-width="0.5"/>
<text transform="translate(240.60,92.12) scale(0.88,1)" font-size="2.7" text-anchor="end" fill="#444" stroke="#444" stroke-width="0.09">AXL</text>
<line x1="241.20" y1="95.73" x2="242.60" y2="95.73" stroke="#444" stroke-width="0.5"/>
<text transform="translate(240.60,96.68) scale(0.88,1)" font-size="2.7" text-anchor="end" fill="#444" stroke="#444" stroke-width="0.09">Abl/ABL1</text>
<line x1="241.20" y1="100.28" x2="242.60" y2="100.28" stroke="#444" stroke-width="0.5"/>
<text transform="translate(240.60,101.23) scale(0.88,1)" font-size="2.7" text-anchor="end" fill="#444" stroke="#444" stroke-width="0.09">IKKε/IKBKE</text>
<line x1="241.20" y1="104.83" x2="242.60" y2="104.83" stroke="#444" stroke-width="0.5"/>
<text transform="translate(240.60,105.78) scale(0.88,1)" font-size="2.7" text-anchor="end" fill="#444" stroke="#444" stroke-width="0.09">LYN</text>
<line x1="241.20" y1="109.39" x2="242.60" y2="109.39" stroke="#444" stroke-width="0.5"/>
<text transform="translate(240.60,110.34) scale(0.88,1)" font-size="2.7" text-anchor="end" fill="#444" stroke="#444" stroke-width="0.09">Lck/LCK</text>
<line x1="241.20" y1="113.94" x2="242.60" y2="113.94" stroke="#444" stroke-width="0.5"/>
<text transform="translate(240.60,114.89) scale(0.88,1)" font-size="2.7" text-anchor="end" fill="#444" stroke="#444" stroke-width="0.09">HER2/ERBB2</text>
<line x1="241.20" y1="118.50" x2="242.60" y2="118.50" stroke="#444" stroke-width="0.5"/>
<text transform="translate(240.60,119.45) scale(0.88,1)" font-size="2.7" text-anchor="end" fill="#444" stroke="#444" stroke-width="0.09">Fer/FER</text>
<line x1="241.20" y1="123.05" x2="242.60" y2="123.05" stroke="#444" stroke-width="0.5"/>
<text transform="translate(240.60,124.00) scale(0.88,1)" font-size="2.7" text-anchor="end" fill="#444" stroke="#444" stroke-width="0.09">CSK</text>
<line x1="241.20" y1="127.60" x2="242.60" y2="127.60" stroke="#444" stroke-width="0.5"/>
<text transform="translate(240.60,128.55) scale(0.88,1)" font-size="2.7" text-anchor="end" fill="#444" stroke="#444" stroke-width="0.09">Chk1/CHEK1</text>
<line x1="241.20" y1="132.16" x2="242.60" y2="132.16" stroke="#444" stroke-width="0.5"/>
<text transform="translate(240.60,133.11) scale(0.88,1)" font-size="2.7" text-anchor="end" fill="#444" stroke="#444" stroke-width="0.09">Mer/MERTK</text>
<line x1="241.20" y1="136.71" x2="242.60" y2="136.71" stroke="#444" stroke-width="0.5"/>
<text transform="translate(240.60,137.66) scale(0.88,1)" font-size="2.7" text-anchor="end" fill="#444" stroke="#444" stroke-width="0.09">MST1R</text>
<line x1="250.75" y1="139.30" x2="250.75" y2="140.50" stroke="#555" stroke-width="0.35"/>
<text x="250.75" y="143.20" font-size="2.6" text-anchor="middle" fill="#4d4d4d" stroke="#4d4d4d" stroke-width="0.14">0.0</text>
<line x1="296.50" y1="139.30" x2="296.50" y2="140.50" stroke="#555" stroke-width="0.35"/>
<text x="296.50" y="143.20" font-size="2.6" text-anchor="middle" fill="#4d4d4d" stroke="#4d4d4d" stroke-width="0.14">0.5</text>
<line x1="342.25" y1="139.30" x2="342.25" y2="140.50" stroke="#555" stroke-width="0.35"/>
<text x="342.25" y="143.20" font-size="2.6" text-anchor="middle" fill="#4d4d4d" stroke="#4d4d4d" stroke-width="0.14">1.0</text>
<line x1="388.00" y1="139.30" x2="388.00" y2="140.50" stroke="#555" stroke-width="0.35"/>
<text x="388.00" y="143.20" font-size="2.6" text-anchor="middle" fill="#4d4d4d" stroke="#4d4d4d" stroke-width="0.14">1.5</text>
<text x="328.65" y="146.90" font-size="2.8" text-anchor="middle" fill="#111" stroke="#111" stroke-width="0.14">-log10 adj P Value</text>
<text x="213.70" y="14.60" font-size="10.6" text-anchor="start" fill="#000" font-weight="bold">B</text>
</g>
<g id="panelC">
<line x1="54.75" y1="151.40" x2="54.75" y2="489.30" stroke="#ededed" stroke-width="0.3"/>
<line x1="93.45" y1="151.40" x2="93.45" y2="489.30" stroke="#ededed" stroke-width="0.3"/>
<line x1="132.15" y1="151.40" x2="132.15" y2="489.30" stroke="#ededed" stroke-width="0.3"/>
<line x1="170.85" y1="151.40" x2="170.85" y2="489.30" stroke="#ededed" stroke-width="0.3"/>
<line x1="35.40" y1="151.40" x2="35.40" y2="489.30" stroke="#e3e3e3" stroke-width="0.5"/>
<line x1="74.10" y1="151.40" x2="74.10" y2="489.30" stroke="#e3e3e3" stroke-width="0.5"/>
<line x1="112.80" y1="151.40" x2="112.80" y2="489.30" stroke="#e3e3e3" stroke-width="0.5"/>
<line x1="151.50" y1="151.40" x2="151.50" y2="489.30" stroke="#e3e3e3" stroke-width="0.5"/>
<line x1="190.20" y1="151.40" x2="190.20" y2="489.30" stroke="#e3e3e3" stroke-width="0.5"/>
<line x1="27.60" y1="153.90" x2="201.10" y2="153.90" stroke="#e3e3e3" stroke-width="0.5"/>
<line x1="27.60" y1="158.79" x2="201.10" y2="158.79" stroke="#e3e3e3" stroke-width="0.5"/>
<line x1="27.60" y1="163.68" x2="201.10" y2="163.68" stroke="#e3e3e3" stroke-width="0.5"/>
<line x1="27.60" y1="168.57" x2="201.10" y2="168.57" stroke="#e3e3e3" stroke-width="0.5"/>
<line x1="27.60" y1="173.46" x2="201.10" y2="173.46" stroke="#e3e3e3" stroke-width="0.5"/>
<line x1="27.60" y1="178.36" x2="201.10" y2="178.36" stroke="#e3e3e3" stroke-width="0.5"/>
<line x1="27.60" y1="183.25" x2="201.10" y2="183.25" stroke="#e3e3e3" stroke-width="0.5"/>
<line x1="27.60" y1="188.14" x2="201.10" y2="188.14" stroke="#e3e3e3" stroke-width="0.5"/>
<line x1="27.60" y1="193.03" x2="201.10" y2="193.03" stroke="#e3e3e3" stroke-width="0.5"/>
<line x1="27.60" y1="197.92" x2="201.10" y2="197.92" stroke="#e3e3e3" stroke-width="0.5"/>
<line x1="27.60" y1="202.81" x2="201.10" y2="202.81" stroke="#e3e3e3" stroke-width="0.5"/>
<line x1="27.60" y1="207.70" x2="201.10" y2="207.70" stroke="#e3e3e3" stroke-width="0.5"/>
<line x1="27.60" y1="212.59" x2="201.10" y2="212.59" stroke="#e3e3e3" stroke-width="0.5"/>
<line x1="27.60" y1="217.48" x2="201.10" y2="217.48" stroke="#e3e3e3" stroke-width="0.5"/>
<line x1="27.60" y1="222.37" x2="201.10" y2="222.37" stroke="#e3e3e3" stroke-width="0.5"/>
<line x1="27.60" y1="227.26" x2="201.10" y2="227.26" stroke="#e3e3e3" stroke-width="0.5"/>
<line x1="27.60" y1="232.16" x2="201.10" y2="232.16" stroke="#e3e3e3" stroke-width="0.5"/>
<line x1="27.60" y1="237.05" x2="201.10" y2="237.05" stroke="#e3e3e3" stroke-width="0.5"/>
<line x1="27.60" y1="241.94" x2="201.10" y2="241.94" stroke="#e3e3e3" stroke-width="0.5"/>
<line x1="27.60" y1="246.83" x2="201.10" y2="246.83" stroke="#e3e3e3" stroke-width="0.5"/>
<line x1="27.60" y1="251.72" x2="201.10" y2="251.72" stroke="#e3e3e3" stroke-width="0.5"/>
<line x1="27.60" y1="256.61" x2="201.10" y2="256.61" stroke="#e3e3e3" stroke-width="0.5"/>
<line x1="27.60" y1="261.50" x2="201.10" y2="261.50" stroke="#e3e3e3" stroke-width="0.5"/>
<line x1="27.60" y1="266.39" x2="201.10" y2="266.39" stroke="#e3e3e3" stroke-width="0.5"/>
<line x1="27.60" y1="271.28" x2="201.10" y2="271.28" stroke="#e3e3e3" stroke-width="0.5"/>
<line x1="27.60" y1="276.18" x2="201.10" y2="276.18" stroke="#e3e3e3" stroke-width="0.5"/>
<line x1="27.60" y1="281.07" x2="201.10" y2="281.07" stroke="#e3e3e3" stroke-width="0.5"/>
<line x1="27.60" y1="285.96" x2="201.10" y2="285.96" stroke="#e3e3e3" stroke-width="0.5"/>
<line x1="27.60" y1="290.85" x2="201.10" y2="290.85" stroke="#e3e3e3" stroke-width="0.5"/>
<line x1="27.60" y1="295.74" x2="201.10" y2="295.74" stroke="#e3e3e3" stroke-width="0.5"/>
<line x1="27.60" y1="300.63" x2="201.10" y2="300.63" stroke="#e3e3e3" stroke-width="0.5"/>
<line x1="27.60" y1="305.52" x2="201.10" y2="305.52" stroke="#e3e3e3" stroke-width="0.5"/>
<line x1="27.60" y1="310.41" x2="201.10" y2="310.41" stroke="#e3e3e3" stroke-width="0.5"/>
<line x1="27.60" y1="315.30" x2="201.10" y2="315.30" stroke="#e3e3e3" stroke-width="0.5"/>
<line x1="27.60" y1="320.19" x2="201.10" y2="320.19" stroke="#e3e3e3" stroke-width="0.5"/>
<line x1="27.60" y1="325.09" x2="201.10" y2="325.09" stroke="#e3e3e3" stroke-width="0.5"/>
<line x1="27.60" y1="329.98" x2="201.10" y2="329.98" stroke="#e3e3e3" stroke-width="0.5"/>
<line x1="27.60" y1="334.87" x2="201.10" y2="334.87" stroke="#e3e3e3" stroke-width="0.5"/>
<line x1="27.60" y1="339.76" x2="201.10" y2="339.76" stroke="#e3e3e3" stroke-width="0.5"/>
<line x1="27.60" y1="344.65" x2="201.10" y2="344.65" stroke="#e3e3e3" stroke-width="0.5"/>
<line x1="27.60" y1="349.54" x2="201.10" y2="349.54" stroke="#e3e3e3" stroke-width="0.5"/>
<line x1="27.60" y1="354.43" x2="201.10" y2="354.43" stroke="#e3e3e3" stroke-width="0.5"/>
<line x1="27.60" y1="359.32" x2="201.10" y2="359.32" stroke="#e3e3e3" stroke-width="0.5"/>
<line x1="27.60" y1="364.21" x2="201.10" y2="364.21" stroke="#e3e3e3" stroke-width="0.5"/>
<line x1="27.60" y1="369.10" x2="201.10" y2="369.10" stroke="#e3e3e3" stroke-width="0.5"/>
<line x1="27.60" y1="374.00" x2="201.10" y2="374.00" stroke="#e3e3e3" stroke-width="0.5"/>
<line x1="27.60" y1="378.89" x2="201.10" y2="378.89" stroke="#e3e3e3" stroke-width="0.5"/>
<line x1="27.60" y1="383.78" x2="201.10" y2="383.78" stroke="#e3e3e3" stroke-width="0.5"/>
<line x1="27.60" y1="388.67" x2="201.10" y2="388.67" stroke="#e3e3e3" stroke-width="0.5"/>
<line x1="27.60" y1="393.56" x2="201.10" y2="393.56" stroke="#e3e3e3" stroke-width="0.5"/>
<line x1="27.60" y1="398.45" x2="201.10" y2="398.45" stroke="#e3e3e3" stroke-width="0.5"/>
<line x1="27.60" y1="403.34" x2="201.10" y2="403.34" stroke="#e3e3e3" stroke-width="0.5"/>
<line x1="27.60" y1="408.23" x2="201.10" y2="408.23" stroke="#e3e3e3" stroke-width="0.5"/>
<line x1="27.60" y1="413.12" x2="201.10" y2="413.12" stroke="#e3e3e3" stroke-width="0.5"/>
<line x1="27.60" y1="418.01" x2="201.10" y2="418.01" stroke="#e3e3e3" stroke-width="0.5"/>
<line x1="27.60" y1="422.90" x2="201.10" y2="422.90" stroke="#e3e3e3" stroke-width="0.5"/>
<line x1="27.60" y1="427.80" x2="201.10" y2="427.80" stroke="#e3e3e3" stroke-width="0.5"/>
<line x1="27.60" y1="432.69" x2="201.10" y2="432.69" stroke="#e3e3e3" stroke-width="0.5"/>
<line x1="27.60" y1="437.58" x2="201.10" y2="437.58" stroke="#e3e3e3" stroke-width="0.5"/>
<line x1="27.60" y1="442.47" x2="201.10" y2="442.47" stroke="#e3e3e3" stroke-width="0.5"/>
<line x1="27.60" y1="447.36" x2="201.10" y2="447.36" stroke="#e3e3e3" stroke-width="0.5"/>
<line x1="27.60" y1="452.25" x2="201.10" y2="452.25" stroke="#e3e3e3" stroke-width="0.5"/>
<line x1="27.60" y1="457.14" x2="201.10" y2="457.14" stroke="#e3e3e3" stroke-width="0.5"/>
<line x1="27.60" y1="462.03" x2="201.10" y2="462.03" stroke="#e3e3e3" stroke-width="0.5"/>
<line x1="27.60" y1="466.92" x2="201.10" y2="466.92" stroke="#e3e3e3" stroke-width="0.5"/>
<line x1="27.60" y1="471.82" x2="201.10" y2="471.82" stroke="#e3e3e3" stroke-width="0.5"/>
<line x1="27.60" y1="476.71" x2="201.10" y2="476.71" stroke="#e3e3e3" stroke-width="0.5"/>
<line x1="27.60" y1="481.60" x2="201.10" y2="481.60" stroke="#e3e3e3" stroke-width="0.5"/>
<line x1="27.60" y1="486.49" x2="201.10" y2="486.49" stroke="#e3e3e3" stroke-width="0.5"/>
<rect x="192.60" y="151.70" width="1.80" height="4.40" fill="#262626" stroke="none" stroke-width="0" rx="0.8"/>
<rect x="190.50" y="156.59" width="1.80" height="4.40" fill="#262626" stroke="none" stroke-width="0" rx="0.8"/>
<rect x="156.10" y="161.48" width="1.80" height="4.40" fill="#262626" stroke="none" stroke-width="0" rx="0.8"/>
<rect x="145.20" y="166.37" width="1.80" height="4.40" fill="#262626" stroke="none" stroke-width="0" rx="0.8"/>
<rect x="141.40" y="171.26" width="1.80" height="4.40" fill="#262626" stroke="none" stroke-width="0" rx="0.8"/>
<rect x="131.90" y="176.16" width="1.80" height="4.40" fill="#262626" stroke="none" stroke-width="0" rx="0.8"/>
<rect x="128.70" y="181.05" width="1.80" height="4.40" fill="#262626" stroke="none" stroke-width="0" rx="0.8"/>
<rect x="114.90" y="185.94" width="1.80" height="4.40" fill="#262626" stroke="none" stroke-width="0" rx="0.8"/>
<rect x="111.40" y="190.83" width="1.80" height="4.40" fill="#262626" stroke="none" stroke-width="0" rx="0.8"/>
<rect x="107.90" y="195.72" width="1.80" height="4.40" fill="#262626" stroke="none" stroke-width="0" rx="0.8"/>
<rect x="85.65" y="200.61" width="1.80" height="4.40" fill="#262626" stroke="none" stroke-width="0" rx="0.8"/>
<rect x="85.65" y="205.50" width="1.80" height="4.40" fill="#262626" stroke="none" stroke-width="0" rx="0.8"/>
<rect x="83.15" y="210.39" width="1.80" height="4.40" fill="#262626" stroke="none" stroke-width="0" rx="0.8"/>
<rect x="73.90" y="215.28" width="1.80" height="4.40" fill="#262626" stroke="none" stroke-width="0" rx="0.8"/>
<rect x="69.40" y="220.17" width="1.80" height="4.40" fill="#262626" stroke="none" stroke-width="0" rx="0.8"/>
<rect x="67.15" y="225.06" width="1.80" height="4.40" fill="#262626" stroke="none" stroke-width="0" rx="0.8"/>
<rect x="62.65" y="229.96" width="1.80" height="4.40" fill="#262626" stroke="none" stroke-width="0" rx="0.8"/>
<rect x="56.40" y="234.85" width="1.80" height="4.40" fill="#262626" stroke="none" stroke-width="0" rx="0.8"/>
<rect x="56.40" y="239.74" width="1.80" height="4.40" fill="#262626" stroke="none" stroke-width="0" rx="0.8"/>
<rect x="56.40" y="244.63" width="1.80" height="4.40" fill="#262626" stroke="none" stroke-width="0" rx="0.8"/>
<rect x="55.65" y="249.52" width="1.80" height="4.40" fill="#262626" stroke="none" stroke-width="0" rx="0.8"/>
<rect x="54.90" y="254.41" width="1.80" height="4.40" fill="#262626" stroke="none" stroke-width="0" rx="0.8"/>
<rect x="53.15" y="259.30" width="1.80" height="4.40" fill="#262626" stroke="none" stroke-width="0" rx="0.8"/>
<rect x="52.65" y="264.19" width="1.80" height="4.40" fill="#262626" stroke="none" stroke-width="0" rx="0.8"/>
<rect x="51.90" y="269.08" width="1.80" height="4.40" fill="#262626" stroke="none" stroke-width="0" rx="0.8"/>
<rect x="51.15" y="273.98" width="1.80" height="4.40" fill="#262626" stroke="none" stroke-width="0" rx="0.8"/>
<rect x="50.15" y="278.87" width="1.80" height="4.40" fill="#262626" stroke="none" stroke-width="0" rx="0.8"/>
<rect x="49.40" y="283.76" width="1.80" height="4.40" fill="#262626" stroke="none" stroke-width="0" rx="0.8"/>
<rect x="48.65" y="288.65" width="1.80" height="4.40" fill="#262626" stroke="none" stroke-width="0" rx="0.8"/>
<rect x="48.40" y="293.54" width="1.80" height="4.40" fill="#262626" stroke="none" stroke-width="0" rx="0.8"/>
<rect x="47.65" y="298.43" width="1.80" height="4.40" fill="#262626" stroke="none" stroke-width="0" rx="0.8"/>
<rect x="47.40" y="303.32" width="1.80" height="4.40" fill="#262626" stroke="none" stroke-width="0" rx="0.8"/>
<rect x="46.90" y="308.21" width="1.80" height="4.40" fill="#262626" stroke="none" stroke-width="0" rx="0.8"/>
<rect x="46.40" y="313.10" width="1.80" height="4.40" fill="#262626" stroke="none" stroke-width="0" rx="0.8"/>
<rect x="46.15" y="317.99" width="1.80" height="4.40" fill="#262626" stroke="none" stroke-width="0" rx="0.8"/>
<rect x="45.65" y="322.89" width="1.80" height="4.40" fill="#262626" stroke="none" stroke-width="0" rx="0.8"/>
<rect x="43.90" y="327.78" width="1.80" height="4.40" fill="#262626" stroke="none" stroke-width="0" rx="0.8"/>
<rect x="43.15" y="332.67" width="1.80" height="4.40" fill="#262626" stroke="none" stroke-width="0" rx="0.8"/>
<rect x="42.65" y="337.56" width="1.80" height="4.40" fill="#262626" stroke="none" stroke-width="0" rx="0.8"/>
<rect x="42.40" y="342.45" width="1.80" height="4.40" fill="#262626" stroke="none" stroke-width="0" rx="0.8"/>
<rect x="41.90" y="347.34" width="1.80" height="4.40" fill="#262626" stroke="none" stroke-width="0" rx="0.8"/>
<rect x="41.40" y="352.23" width="1.80" height="4.40" fill="#262626" stroke="none" stroke-width="0" rx="0.8"/>
<rect x="41.15" y="357.12" width="1.80" height="4.40" fill="#262626" stroke="none" stroke-width="0" rx="0.8"/>
<rect x="40.90" y="362.01" width="1.80" height="4.40" fill="#262626" stroke="none" stroke-width="0" rx="0.8"/>
<rect x="40.65" y="366.90" width="1.80" height="4.40" fill="#262626" stroke="none" stroke-width="0" rx="0.8"/>
<rect x="40.40" y="371.80" width="1.80" height="4.40" fill="#262626" stroke="none" stroke-width="0" rx="0.8"/>
<rect x="40.15" y="376.69" width="1.80" height="4.40" fill="#262626" stroke="none" stroke-width="0" rx="0.8"/>
<rect x="39.90" y="381.58" width="1.80" height="4.40" fill="#262626" stroke="none" stroke-width="0" rx="0.8"/>
<rect x="39.65" y="386.47" width="1.80" height="4.40" fill="#262626" stroke="none" stroke-width="0" rx="0.8"/>
<rect x="39.40" y="391.36" width="1.80" height="4.40" fill="#262626" stroke="none" stroke-width="0" rx="0.8"/>
<rect x="39.40" y="396.25" width="1.80" height="4.40" fill="#262626" stroke="none" stroke-width="0" rx="0.8"/>
<rect x="39.15" y="401.14" width="1.80" height="4.40" fill="#262626" stroke="none" stroke-width="0" rx="0.8"/>
<rect x="38.90" y="406.03" width="1.80" height="4.40" fill="#262626" stroke="none" stroke-width="0" rx="0.8"/>
<rect x="38.65" y="410.92" width="1.80" height="4.40" fill="#262626" stroke="none" stroke-width="0" rx="0.8"/>
<rect x="38.40" y="415.81" width="1.80" height="4.40" fill="#262626" stroke="none" stroke-width="0" rx="0.8"/>
<rect x="38.15" y="420.70" width="1.80" height="4.40" fill="#262626" stroke="none" stroke-width="0" rx="0.8"/>
<rect x="36.90" y="425.60" width="1.80" height="4.40" fill="#262626" stroke="none" stroke-width="0" rx="0.8"/>
<rect x="36.40" y="430.49" width="1.80" height="4.40" fill="#262626" stroke="none" stroke-width="0" rx="0.8"/>
<rect x="36.15" y="435.38" width="1.80" height="4.40" fill="#262626" stroke="none" stroke-width="0" rx="0.8"/>
<rect x="35.90" y="440.27" width="1.80" height="4.40" fill="#262626" stroke="none" stroke-width="0" rx="0.8"/>
<rect x="35.90" y="445.16" width="1.80" height="4.40" fill="#262626" stroke="none" stroke-width="0" rx="0.8"/>
<rect x="35.65" y="450.05" width="1.80" height="4.40" fill="#262626" stroke="none" stroke-width="0" rx="0.8"/>
<rect x="35.40" y="454.94" width="1.80" height="4.40" fill="#262626" stroke="none" stroke-width="0" rx="0.8"/>
<rect x="35.40" y="459.83" width="1.80" height="4.40" fill="#262626" stroke="none" stroke-width="0" rx="0.8"/>
<rect x="35.15" y="464.72" width="1.80" height="4.40" fill="#262626" stroke="none" stroke-width="0" rx="0.8"/>
<rect x="35.15" y="469.62" width="1.80" height="4.40" fill="#262626" stroke="none" stroke-width="0" rx="0.8"/>
<rect x="34.90" y="474.51" width="1.80" height="4.40" fill="#262626" stroke="none" stroke-width="0" rx="0.8"/>
<rect x="34.65" y="479.40" width="1.80" height="4.40" fill="#262626" stroke="none" stroke-width="0" rx="0.8"/>
<rect x="34.40" y="484.29" width="1.80" height="4.40" fill="#262626" stroke="none" stroke-width="0" rx="0.8"/>
<rect x="27.60" y="151.40" width="173.50" height="337.90" fill="none" stroke="#868686" stroke-width="0.75"/>
<path d="M27.6,151.4 V489.3 H201.1" fill="none" stroke="#444" stroke-width="0.8"/>
<line x1="25.60" y1="153.90" x2="27.60" y2="153.90" stroke="#222" stroke-width="0.75"/>
<text transform="translate(25.30,155.60) scale(0.72,1)" font-size="4.8" text-anchor="end" fill="#404040" stroke="#404040" stroke-width="0.11">NTRK1</text>
<line x1="25.60" y1="158.79" x2="27.60" y2="158.79" stroke="#222" stroke-width="0.75"/>
<text transform="translate(25.30,160.49) scale(0.72,1)" font-size="4.8" text-anchor="end" fill="#404040" stroke="#404040" stroke-width="0.11">FLT3</text>
<line x1="25.60" y1="163.68" x2="27.60" y2="163.68" stroke="#222" stroke-width="0.75"/>
<text transform="translate(25.30,165.38) scale(0.72,1)" font-size="4.8" text-anchor="end" fill="#404040" stroke="#404040" stroke-width="0.11">DDR2</text>
<line x1="25.60" y1="168.57" x2="27.60" y2="168.57" stroke="#222" stroke-width="0.75"/>
<text transform="translate(25.30,170.27) scale(0.72,1)" font-size="4.8" text-anchor="end" fill="#404040" stroke="#404040" stroke-width="0.11">KIT</text>
<line x1="25.60" y1="173.46" x2="27.60" y2="173.46" stroke="#222" stroke-width="0.75"/>
<text transform="translate(25.30,175.16) scale(0.72,1)" font-size="4.8" text-anchor="end" fill="#404040" stroke="#404040" stroke-width="0.11">PDGFRA</text>
<line x1="25.60" y1="178.36" x2="27.60" y2="178.36" stroke="#222" stroke-width="0.75"/>
<text transform="translate(25.30,180.06) scale(0.72,1)" font-size="4.8" text-anchor="end" fill="#404040" stroke="#404040" stroke-width="0.11">MATK</text>
<line x1="25.60" y1="183.25" x2="27.60" y2="183.25" stroke="#222" stroke-width="0.75"/>
<text transform="translate(25.30,184.95) scale(0.72,1)" font-size="4.8" text-anchor="end" fill="#404040" stroke="#404040" stroke-width="0.11">EPHB3</text>
<line x1="25.60" y1="188.14" x2="27.60" y2="188.14" stroke="#222" stroke-width="0.75"/>
<text transform="translate(25.30,189.84) scale(0.72,1)" font-size="4.8" text-anchor="end" fill="#404040" stroke="#404040" stroke-width="0.11">MST1R</text>
<line x1="25.60" y1="193.03" x2="27.60" y2="193.03" stroke="#222" stroke-width="0.75"/>
<text transform="translate(25.30,194.73) scale(0.72,1)" font-size="4.8" text-anchor="end" fill="#404040" stroke="#404040" stroke-width="0.11">FES</text>
<line x1="25.60" y1="197.92" x2="27.60" y2="197.92" stroke="#222" stroke-width="0.75"/>
<text transform="translate(25.30,199.62) scale(0.72,1)" font-size="4.8" text-anchor="end" fill="#404040" stroke="#404040" stroke-width="0.11">FLT4</text>
<line x1="25.60" y1="202.81" x2="27.60" y2="202.81" stroke="#222" stroke-width="0.75"/>
<text transform="translate(25.30,204.51) scale(0.72,1)" font-size="4.8" text-anchor="end" fill="#404040" stroke="#404040" stroke-width="0.11">SRC</text>
<line x1="25.60" y1="207.70" x2="27.60" y2="207.70" stroke="#222" stroke-width="0.75"/>
<text transform="translate(25.30,209.40) scale(0.72,1)" font-size="4.8" text-anchor="end" fill="#404040" stroke="#404040" stroke-width="0.11">TXK</text>
<line x1="25.60" y1="212.59" x2="27.60" y2="212.59" stroke="#222" stroke-width="0.75"/>
<text transform="translate(25.30,214.29) scale(0.72,1)" font-size="4.8" text-anchor="end" fill="#404040" stroke="#404040" stroke-width="0.11">NTRK3</text>
<line x1="25.60" y1="217.48" x2="27.60" y2="217.48" stroke="#222" stroke-width="0.75"/>
<text transform="translate(25.30,219.18) scale(0.72,1)" font-size="4.8" text-anchor="end" fill="#404040" stroke="#404040" stroke-width="0.11">KDR</text>
<line x1="25.60" y1="222.37" x2="27.60" y2="222.37" stroke="#222" stroke-width="0.75"/>
<text transform="translate(25.30,224.07) scale(0.72,1)" font-size="4.8" text-anchor="end" fill="#404040" stroke="#404040" stroke-width="0.11">RET</text>
<line x1="25.60" y1="227.26" x2="27.60" y2="227.26" stroke="#222" stroke-width="0.75"/>
<text transform="translate(25.30,228.96) scale(0.72,1)" font-size="4.8" text-anchor="end" fill="#404040" stroke="#404040" stroke-width="0.11">LCK</text>
<line x1="25.60" y1="232.16" x2="27.60" y2="232.16" stroke="#222" stroke-width="0.75"/>
<text transform="translate(25.30,233.86) scale(0.72,1)" font-size="4.8" text-anchor="end" fill="#404040" stroke="#404040" stroke-width="0.11">ABL1</text>
<line x1="25.60" y1="237.05" x2="27.60" y2="237.05" stroke="#222" stroke-width="0.75"/>
<text transform="translate(25.30,238.75) scale(0.72,1)" font-size="4.8" text-anchor="end" fill="#404040" stroke="#404040" stroke-width="0.11">SRMS</text>
<line x1="25.60" y1="241.94" x2="27.60" y2="241.94" stroke="#222" stroke-width="0.75"/>
<text transform="translate(25.30,243.64) scale(0.72,1)" font-size="4.8" text-anchor="end" fill="#404040" stroke="#404040" stroke-width="0.11">EPHA2</text>
<line x1="25.60" y1="246.83" x2="27.60" y2="246.83" stroke="#222" stroke-width="0.75"/>
<text transform="translate(25.30,248.53) scale(0.72,1)" font-size="4.8" text-anchor="end" fill="#404040" stroke="#404040" stroke-width="0.11">EPHB2</text>
<line x1="25.60" y1="251.72" x2="27.60" y2="251.72" stroke="#222" stroke-width="0.75"/>
<text transform="translate(25.30,253.42) scale(0.72,1)" font-size="4.8" text-anchor="end" fill="#404040" stroke="#404040" stroke-width="0.11">FYN</text>
<line x1="25.60" y1="256.61" x2="27.60" y2="256.61" stroke="#222" stroke-width="0.75"/>
<text transform="translate(25.30,258.31) scale(0.72,1)" font-size="4.8" text-anchor="end" fill="#404040" stroke="#404040" stroke-width="0.11">EGFR</text>
<line x1="25.60" y1="261.50" x2="27.60" y2="261.50" stroke="#222" stroke-width="0.75"/>
<text transform="translate(25.30,263.20) scale(0.72,1)" font-size="4.8" text-anchor="end" fill="#404040" stroke="#404040" stroke-width="0.11">FLT1</text>
<line x1="25.60" y1="266.39" x2="27.60" y2="266.39" stroke="#222" stroke-width="0.75"/>
<text transform="translate(25.30,268.09) scale(0.72,1)" font-size="4.8" text-anchor="end" fill="#404040" stroke="#404040" stroke-width="0.11">FER</text>
<line x1="25.60" y1="271.28" x2="27.60" y2="271.28" stroke="#222" stroke-width="0.75"/>
<text transform="translate(25.30,272.98) scale(0.72,1)" font-size="4.8" text-anchor="end" fill="#404040" stroke="#404040" stroke-width="0.11">INSR</text>
<line x1="25.60" y1="276.18" x2="27.60" y2="276.18" stroke="#222" stroke-width="0.75"/>
<text transform="translate(25.30,277.88) scale(0.72,1)" font-size="4.8" text-anchor="end" fill="#404040" stroke="#404040" stroke-width="0.11">FGFR4</text>
<line x1="25.60" y1="281.07" x2="27.60" y2="281.07" stroke="#222" stroke-width="0.75"/>
<text transform="translate(25.30,282.77) scale(0.72,1)" font-size="4.8" text-anchor="end" fill="#404040" stroke="#404040" stroke-width="0.11">ITK</text>
<line x1="25.60" y1="285.96" x2="27.60" y2="285.96" stroke="#222" stroke-width="0.75"/>
<text transform="translate(25.30,287.66) scale(0.72,1)" font-size="4.8" text-anchor="end" fill="#404040" stroke="#404040" stroke-width="0.11">EPHB1</text>
<line x1="25.60" y1="290.85" x2="27.60" y2="290.85" stroke="#222" stroke-width="0.75"/>
<text transform="translate(25.30,292.55) scale(0.72,1)" font-size="4.8" text-anchor="end" fill="#404040" stroke="#404040" stroke-width="0.11">CSF1R</text>
<line x1="25.60" y1="295.74" x2="27.60" y2="295.74" stroke="#222" stroke-width="0.75"/>
<text transform="translate(25.30,297.44) scale(0.72,1)" font-size="4.8" text-anchor="end" fill="#404040" stroke="#404040" stroke-width="0.11">PTK6</text>
<line x1="25.60" y1="300.63" x2="27.60" y2="300.63" stroke="#222" stroke-width="0.75"/>
<text transform="translate(25.30,302.33) scale(0.72,1)" font-size="4.8" text-anchor="end" fill="#404040" stroke="#404040" stroke-width="0.11">CSK</text>
<line x1="25.60" y1="305.52" x2="27.60" y2="305.52" stroke="#222" stroke-width="0.75"/>
<text transform="translate(25.30,307.22) scale(0.72,1)" font-size="4.8" text-anchor="end" fill="#404040" stroke="#404040" stroke-width="0.11">ERBB2</text>
<line x1="25.60" y1="310.41" x2="27.60" y2="310.41" stroke="#222" stroke-width="0.75"/>
<text transform="translate(25.30,312.11) scale(0.72,1)" font-size="4.8" text-anchor="end" fill="#404040" stroke="#404040" stroke-width="0.11">NTRK2</text>
<line x1="25.60" y1="315.30" x2="27.60" y2="315.30" stroke="#222" stroke-width="0.75"/>
<text transform="translate(25.30,317.00) scale(0.72,1)" font-size="4.8" text-anchor="end" fill="#404040" stroke="#404040" stroke-width="0.11">TYRO3</text>
<line x1="25.60" y1="320.19" x2="27.60" y2="320.19" stroke="#222" stroke-width="0.75"/>
<text transform="translate(25.30,321.89) scale(0.72,1)" font-size="4.8" text-anchor="end" fill="#404040" stroke="#404040" stroke-width="0.11">BTK</text>
<line x1="25.60" y1="325.09" x2="27.60" y2="325.09" stroke="#222" stroke-width="0.75"/>
<text transform="translate(25.30,326.79) scale(0.72,1)" font-size="4.8" text-anchor="end" fill="#404040" stroke="#404040" stroke-width="0.11">JAK2</text>
<line x1="25.60" y1="329.98" x2="27.60" y2="329.98" stroke="#222" stroke-width="0.75"/>
<text transform="translate(25.30,331.68) scale(0.72,1)" font-size="4.8" text-anchor="end" fill="#404040" stroke="#404040" stroke-width="0.11">SYK</text>
<line x1="25.60" y1="334.87" x2="27.60" y2="334.87" stroke="#222" stroke-width="0.75"/>
<text transform="translate(25.30,336.57) scale(0.72,1)" font-size="4.8" text-anchor="end" fill="#404040" stroke="#404040" stroke-width="0.11">LYN</text>
<line x1="25.60" y1="339.76" x2="27.60" y2="339.76" stroke="#222" stroke-width="0.75"/>
<text transform="translate(25.30,341.46) scale(0.72,1)" font-size="4.8" text-anchor="end" fill="#404040" stroke="#404040" stroke-width="0.11">FGFR2</text>
<line x1="25.60" y1="344.65" x2="27.60" y2="344.65" stroke="#222" stroke-width="0.75"/>
<text transform="translate(25.30,346.35) scale(0.72,1)" font-size="4.8" text-anchor="end" fill="#404040" stroke="#404040" stroke-width="0.11">PTK2</text>
<line x1="25.60" y1="349.54" x2="27.60" y2="349.54" stroke="#222" stroke-width="0.75"/>
<text transform="translate(25.30,351.24) scale(0.72,1)" font-size="4.8" text-anchor="end" fill="#404040" stroke="#404040" stroke-width="0.11">FGR</text>
<line x1="25.60" y1="354.43" x2="27.60" y2="354.43" stroke="#222" stroke-width="0.75"/>
<text transform="translate(25.30,356.13) scale(0.72,1)" font-size="4.8" text-anchor="end" fill="#404040" stroke="#404040" stroke-width="0.11">ERBB4</text>
<line x1="25.60" y1="359.32" x2="27.60" y2="359.32" stroke="#222" stroke-width="0.75"/>
<text transform="translate(25.30,361.02) scale(0.72,1)" font-size="4.8" text-anchor="end" fill="#404040" stroke="#404040" stroke-width="0.11">YES1</text>
<line x1="25.60" y1="364.21" x2="27.60" y2="364.21" stroke="#222" stroke-width="0.75"/>
<text transform="translate(25.30,365.91) scale(0.72,1)" font-size="4.8" text-anchor="end" fill="#404040" stroke="#404040" stroke-width="0.11">ZAP70</text>
<line x1="25.60" y1="369.10" x2="27.60" y2="369.10" stroke="#222" stroke-width="0.75"/>
<text transform="translate(25.30,370.80) scale(0.72,1)" font-size="4.8" text-anchor="end" fill="#404040" stroke="#404040" stroke-width="0.11">JAK3</text>
<line x1="25.60" y1="374.00" x2="27.60" y2="374.00" stroke="#222" stroke-width="0.75"/>
<text transform="translate(25.30,375.69) scale(0.72,1)" font-size="4.8" text-anchor="end" fill="#404040" stroke="#404040" stroke-width="0.11">MET</text>
<line x1="25.60" y1="378.89" x2="27.60" y2="378.89" stroke="#222" stroke-width="0.75"/>
<text transform="translate(25.30,380.59) scale(0.72,1)" font-size="4.8" text-anchor="end" fill="#404040" stroke="#404040" stroke-width="0.11">IGF1R</text>
<line x1="25.60" y1="383.78" x2="27.60" y2="383.78" stroke="#222" stroke-width="0.75"/>
<text transform="translate(25.30,385.48) scale(0.72,1)" font-size="4.8" text-anchor="end" fill="#404040" stroke="#404040" stroke-width="0.11">TEC</text>
<line x1="25.60" y1="388.67" x2="27.60" y2="388.67" stroke="#222" stroke-width="0.75"/>
<text transform="translate(25.30,390.37) scale(0.72,1)" font-size="4.8" text-anchor="end" fill="#404040" stroke="#404040" stroke-width="0.11">AXL</text>
<line x1="25.60" y1="393.56" x2="27.60" y2="393.56" stroke="#222" stroke-width="0.75"/>
<text transform="translate(25.30,395.26) scale(0.72,1)" font-size="4.8" text-anchor="end" fill="#404040" stroke="#404040" stroke-width="0.11">ALK</text>
<line x1="25.60" y1="398.45" x2="27.60" y2="398.45" stroke="#222" stroke-width="0.75"/>
<text transform="translate(25.30,400.15) scale(0.72,1)" font-size="4.8" text-anchor="end" fill="#404040" stroke="#404040" stroke-width="0.11">PTK2B</text>
<line x1="25.60" y1="403.34" x2="27.60" y2="403.34" stroke="#222" stroke-width="0.75"/>
<text transform="translate(25.30,405.04) scale(0.72,1)" font-size="4.8" text-anchor="end" fill="#404040" stroke="#404040" stroke-width="0.11">PDGFRB</text>
<line x1="25.60" y1="408.23" x2="27.60" y2="408.23" stroke="#222" stroke-width="0.75"/>
<text transform="translate(25.30,409.93) scale(0.72,1)" font-size="4.8" text-anchor="end" fill="#404040" stroke="#404040" stroke-width="0.11">STYK1</text>
<line x1="25.60" y1="413.12" x2="27.60" y2="413.12" stroke="#222" stroke-width="0.75"/>
<text transform="translate(25.30,414.82) scale(0.72,1)" font-size="4.8" text-anchor="end" fill="#404040" stroke="#404040" stroke-width="0.11">MERTK</text>
<line x1="25.60" y1="418.01" x2="27.60" y2="418.01" stroke="#222" stroke-width="0.75"/>
<text transform="translate(25.30,419.71) scale(0.72,1)" font-size="4.8" text-anchor="end" fill="#404040" stroke="#404040" stroke-width="0.11">BMX</text>
<line x1="25.60" y1="422.90" x2="27.60" y2="422.90" stroke="#222" stroke-width="0.75"/>
<text transform="translate(25.30,424.60) scale(0.72,1)" font-size="4.8" text-anchor="end" fill="#404040" stroke="#404040" stroke-width="0.11">EPHA3</text>
<line x1="25.60" y1="427.80" x2="27.60" y2="427.80" stroke="#222" stroke-width="0.75"/>
<text transform="translate(25.30,429.50) scale(0.72,1)" font-size="4.8" text-anchor="end" fill="#404040" stroke="#404040" stroke-width="0.11">ABL2</text>
<line x1="25.60" y1="432.69" x2="27.60" y2="432.69" stroke="#222" stroke-width="0.75"/>
<text transform="translate(25.30,434.39) scale(0.72,1)" font-size="4.8" text-anchor="end" fill="#404040" stroke="#404040" stroke-width="0.11">FGFR1</text>
<line x1="25.60" y1="437.58" x2="27.60" y2="437.58" stroke="#222" stroke-width="0.75"/>
<text transform="translate(25.30,439.28) scale(0.72,1)" font-size="4.8" text-anchor="end" fill="#404040" stroke="#404040" stroke-width="0.11">EPHA4</text>
<line x1="25.60" y1="442.47" x2="27.60" y2="442.47" stroke="#222" stroke-width="0.75"/>
<text transform="translate(25.30,444.17) scale(0.72,1)" font-size="4.8" text-anchor="end" fill="#404040" stroke="#404040" stroke-width="0.11">TYK2</text>
<line x1="25.60" y1="447.36" x2="27.60" y2="447.36" stroke="#222" stroke-width="0.75"/>
<text transform="translate(25.30,449.06) scale(0.72,1)" font-size="4.8" text-anchor="end" fill="#404040" stroke="#404040" stroke-width="0.11">FRK</text>
<line x1="25.60" y1="452.25" x2="27.60" y2="452.25" stroke="#222" stroke-width="0.75"/>
<text transform="translate(25.30,453.95) scale(0.72,1)" font-size="4.8" text-anchor="end" fill="#404040" stroke="#404040" stroke-width="0.11">FGFR3</text>
<line x1="25.60" y1="457.14" x2="27.60" y2="457.14" stroke="#222" stroke-width="0.75"/>
<text transform="translate(25.30,458.84) scale(0.72,1)" font-size="4.8" text-anchor="end" fill="#404040" stroke="#404040" stroke-width="0.11">TNK2</text>
<line x1="25.60" y1="462.03" x2="27.60" y2="462.03" stroke="#222" stroke-width="0.75"/>
<text transform="translate(25.30,463.73) scale(0.72,1)" font-size="4.8" text-anchor="end" fill="#404040" stroke="#404040" stroke-width="0.11">JAK1</text>
<line x1="25.60" y1="466.92" x2="27.60" y2="466.92" stroke="#222" stroke-width="0.75"/>
<text transform="translate(25.30,468.62) scale(0.72,1)" font-size="4.8" text-anchor="end" fill="#404040" stroke="#404040" stroke-width="0.11">DDR1</text>
<line x1="25.60" y1="471.82" x2="27.60" y2="471.82" stroke="#222" stroke-width="0.75"/>
<text transform="translate(25.30,473.52) scale(0.72,1)" font-size="4.8" text-anchor="end" fill="#404040" stroke="#404040" stroke-width="0.11">BLK</text>
<line x1="25.60" y1="476.71" x2="27.60" y2="476.71" stroke="#222" stroke-width="0.75"/>
<text transform="translate(25.30,478.41) scale(0.72,1)" font-size="4.8" text-anchor="end" fill="#404040" stroke="#404040" stroke-width="0.11">HCK</text>
<line x1="25.60" y1="481.60" x2="27.60" y2="481.60" stroke="#222" stroke-width="0.75"/>
<text transform="translate(25.30,483.30) scale(0.72,1)" font-size="4.8" text-anchor="end" fill="#404040" stroke="#404040" stroke-width="0.11">TEK</text>
<line x1="25.60" y1="486.49" x2="27.60" y2="486.49" stroke="#222" stroke-width="0.75"/>
<text transform="translate(25.30,488.19) scale(0.72,1)" font-size="4.8" text-anchor="end" fill="#404040" stroke="#404040" stroke-width="0.11">EPHA8</text>
<line x1="35.40" y1="489.30" x2="35.40" y2="490.70" stroke="#333" stroke-width="0.4"/>
<text transform="translate(35.40,494.00) scale(0.8,1)" font-size="4.0" text-anchor="middle" fill="#4d4d4d" stroke="#4d4d4d" stroke-width="0.14">0</text>
<line x1="74.10" y1="489.30" x2="74.10" y2="490.70" stroke="#333" stroke-width="0.4"/>
<text transform="translate(74.10,494.00) scale(0.8,1)" font-size="4.0" text-anchor="middle" fill="#4d4d4d" stroke="#4d4d4d" stroke-width="0.14">10</text>
<line x1="112.80" y1="489.30" x2="112.80" y2="490.70" stroke="#333" stroke-width="0.4"/>
<text transform="translate(112.80,494.00) scale(0.8,1)" font-size="4.0" text-anchor="middle" fill="#4d4d4d" stroke="#4d4d4d" stroke-width="0.14">20</text>
<line x1="151.50" y1="489.30" x2="151.50" y2="490.70" stroke="#333" stroke-width="0.4"/>
<text transform="translate(151.50,494.00) scale(0.8,1)" font-size="4.0" text-anchor="middle" fill="#4d4d4d" stroke="#4d4d4d" stroke-width="0.14">30</text>
<line x1="190.20" y1="489.30" x2="190.20" y2="490.70" stroke="#333" stroke-width="0.4"/>
<text transform="translate(190.20,494.00) scale(0.8,1)" font-size="4.0" text-anchor="middle" fill="#4d4d4d" stroke="#4d4d4d" stroke-width="0.14">40</text>
<text x="121.60" y="499.70" font-size="6.4" text-anchor="middle" fill="#000" stroke="#000" stroke-width="0.1">−log10 Averaged FDR</text>
<text x="10.60" y="150.90" font-size="10.5" text-anchor="start" fill="#000" font-weight="bold">C</text>
</g>
<g id="panelD">
<line x1="290.30" y1="148.60" x2="290.30" y2="490.10" stroke="#ededed" stroke-width="0.3"/>
<line x1="343.30" y1="148.60" x2="343.30" y2="490.10" stroke="#ededed" stroke-width="0.3"/>
<line x1="396.30" y1="148.60" x2="396.30" y2="490.10" stroke="#ededed" stroke-width="0.3"/>
<line x1="316.80" y1="148.60" x2="316.80" y2="490.10" stroke="#e3e3e3" stroke-width="0.5"/>
<line x1="369.80" y1="148.60" x2="369.80" y2="490.10" stroke="#e3e3e3" stroke-width="0.5"/>
<line x1="242.50" y1="151.00" x2="416.60" y2="151.00" stroke="#e3e3e3" stroke-width="0.45"/>
<line x1="242.50" y1="155.49" x2="416.60" y2="155.49" stroke="#e3e3e3" stroke-width="0.45"/>
<line x1="242.50" y1="159.97" x2="416.60" y2="159.97" stroke="#e3e3e3" stroke-width="0.45"/>
<line x1="242.50" y1="164.46" x2="416.60" y2="164.46" stroke="#e3e3e3" stroke-width="0.45"/>
<line x1="242.50" y1="168.94" x2="416.60" y2="168.94" stroke="#e3e3e3" stroke-width="0.45"/>
<line x1="242.50" y1="173.43" x2="416.60" y2="173.43" stroke="#e3e3e3" stroke-width="0.45"/>
<line x1="242.50" y1="177.91" x2="416.60" y2="177.91" stroke="#e3e3e3" stroke-width="0.45"/>
<line x1="242.50" y1="182.40" x2="416.60" y2="182.40" stroke="#e3e3e3" stroke-width="0.45"/>
<line x1="242.50" y1="186.88" x2="416.60" y2="186.88" stroke="#e3e3e3" stroke-width="0.45"/>
<line x1="242.50" y1="191.37" x2="416.60" y2="191.37" stroke="#e3e3e3" stroke-width="0.45"/>
<line x1="242.50" y1="195.85" x2="416.60" y2="195.85" stroke="#e3e3e3" stroke-width="0.45"/>
<line x1="242.50" y1="200.34" x2="416.60" y2="200.34" stroke="#e3e3e3" stroke-width="0.45"/>
<line x1="242.50" y1="204.82" x2="416.60" y2="204.82" stroke="#e3e3e3" stroke-width="0.45"/>
<line x1="242.50" y1="209.31" x2="416.60" y2="209.31" stroke="#e3e3e3" stroke-width="0.45"/>
<line x1="242.50" y1="213.79" x2="416.60" y2="213.79" stroke="#e3e3e3" stroke-width="0.45"/>
<line x1="242.50" y1="218.28" x2="416.60" y2="218.28" stroke="#e3e3e3" stroke-width="0.45"/>
<line x1="242.50" y1="222.76" x2="416.60" y2="222.76" stroke="#e3e3e3" stroke-width="0.45"/>
<line x1="242.50" y1="227.25" x2="416.60" y2="227.25" stroke="#e3e3e3" stroke-width="0.45"/>
<line x1="242.50" y1="231.73" x2="416.60" y2="231.73" stroke="#e3e3e3" stroke-width="0.45"/>
<line x1="242.50" y1="236.22" x2="416.60" y2="236.22" stroke="#e3e3e3" stroke-width="0.45"/>
<line x1="242.50" y1="240.70" x2="416.60" y2="240.70" stroke="#e3e3e3" stroke-width="0.45"/>
<line x1="242.50" y1="245.19" x2="416.60" y2="245.19" stroke="#e3e3e3" stroke-width="0.45"/>
<line x1="242.50" y1="249.67" x2="416.60" y2="249.67" stroke="#e3e3e3" stroke-width="0.45"/>
<line x1="242.50" y1="254.16" x2="416.60" y2="254.16" stroke="#e3e3e3" stroke-width="0.45"/>
<line x1="242.50" y1="258.64" x2="416.60" y2="258.64" stroke="#e3e3e3" stroke-width="0.45"/>
<line x1="242.50" y1="263.12" x2="416.60" y2="263.12" stroke="#e3e3e3" stroke-width="0.45"/>
<line x1="242.50" y1="267.61" x2="416.60" y2="267.61" stroke="#e3e3e3" stroke-width="0.45"/>
<line x1="242.50" y1="272.10" x2="416.60" y2="272.10" stroke="#e3e3e3" stroke-width="0.45"/>
<line x1="242.50" y1="276.58" x2="416.60" y2="276.58" stroke="#e3e3e3" stroke-width="0.45"/>
<line x1="242.50" y1="281.06" x2="416.60" y2="281.06" stroke="#e3e3e3" stroke-width="0.45"/>
<line x1="242.50" y1="285.55" x2="416.60" y2="285.55" stroke="#e3e3e3" stroke-width="0.45"/>
<line x1="242.50" y1="290.03" x2="416.60" y2="290.03" stroke="#e3e3e3" stroke-width="0.45"/>
<line x1="242.50" y1="294.52" x2="416.60" y2="294.52" stroke="#e3e3e3" stroke-width="0.45"/>
<line x1="242.50" y1="299.00" x2="416.60" y2="299.00" stroke="#e3e3e3" stroke-width="0.45"/>
<line x1="242.50" y1="303.49" x2="416.60" y2="303.49" stroke="#e3e3e3" stroke-width="0.45"/>
<line x1="242.50" y1="307.98" x2="416.60" y2="307.98" stroke="#e3e3e3" stroke-width="0.45"/>
<line x1="242.50" y1="312.46" x2="416.60" y2="312.46" stroke="#e3e3e3" stroke-width="0.45"/>
<line x1="242.50" y1="316.95" x2="416.60" y2="316.95" stroke="#e3e3e3" stroke-width="0.45"/>
<line x1="242.50" y1="321.43" x2="416.60" y2="321.43" stroke="#e3e3e3" stroke-width="0.45"/>
<line x1="242.50" y1="325.92" x2="416.60" y2="325.92" stroke="#e3e3e3" stroke-width="0.45"/>
<line x1="242.50" y1="330.40" x2="416.60" y2="330.40" stroke="#e3e3e3" stroke-width="0.45"/>
<line x1="242.50" y1="334.88" x2="416.60" y2="334.88" stroke="#e3e3e3" stroke-width="0.45"/>
<line x1="242.50" y1="339.37" x2="416.60" y2="339.37" stroke="#e3e3e3" stroke-width="0.45"/>
<line x1="242.50" y1="343.86" x2="416.60" y2="343.86" stroke="#e3e3e3" stroke-width="0.45"/>
<line x1="242.50" y1="348.34" x2="416.60" y2="348.34" stroke="#e3e3e3" stroke-width="0.45"/>
<line x1="242.50" y1="352.83" x2="416.60" y2="352.83" stroke="#e3e3e3" stroke-width="0.45"/>
<line x1="242.50" y1="357.31" x2="416.60" y2="357.31" stroke="#e3e3e3" stroke-width="0.45"/>
<line x1="242.50" y1="361.80" x2="416.60" y2="361.80" stroke="#e3e3e3" stroke-width="0.45"/>
<line x1="242.50" y1="366.28" x2="416.60" y2="366.28" stroke="#e3e3e3" stroke-width="0.45"/>
<line x1="242.50" y1="370.76" x2="416.60" y2="370.76" stroke="#e3e3e3" stroke-width="0.45"/>
<line x1="242.50" y1="375.25" x2="416.60" y2="375.25" stroke="#e3e3e3" stroke-width="0.45"/>
<line x1="242.50" y1="379.74" x2="416.60" y2="379.74" stroke="#e3e3e3" stroke-width="0.45"/>
<line x1="242.50" y1="384.22" x2="416.60" y2="384.22" stroke="#e3e3e3" stroke-width="0.45"/>
<line x1="242.50" y1="388.71" x2="416.60" y2="388.71" stroke="#e3e3e3" stroke-width="0.45"/>
<line x1="242.50" y1="393.19" x2="416.60" y2="393.19" stroke="#e3e3e3" stroke-width="0.45"/>
<line x1="242.50" y1="397.68" x2="416.60" y2="397.68" stroke="#e3e3e3" stroke-width="0.45"/>
<line x1="242.50" y1="402.16" x2="416.60" y2="402.16" stroke="#e3e3e3" stroke-width="0.45"/>
<line x1="242.50" y1="406.64" x2="416.60" y2="406.64" stroke="#e3e3e3" stroke-width="0.45"/>
<line x1="242.50" y1="411.13" x2="416.60" y2="411.13" stroke="#e3e3e3" stroke-width="0.45"/>
<line x1="242.50" y1="415.62" x2="416.60" y2="415.62" stroke="#e3e3e3" stroke-width="0.45"/>
<line x1="242.50" y1="420.10" x2="416.60" y2="420.10" stroke="#e3e3e3" stroke-width="0.45"/>
<line x1="242.50" y1="424.59" x2="416.60" y2="424.59" stroke="#e3e3e3" stroke-width="0.45"/>
<line x1="242.50" y1="429.07" x2="416.60" y2="429.07" stroke="#e3e3e3" stroke-width="0.45"/>
<line x1="242.50" y1="433.56" x2="416.60" y2="433.56" stroke="#e3e3e3" stroke-width="0.45"/>
<line x1="242.50" y1="438.04" x2="416.60" y2="438.04" stroke="#e3e3e3" stroke-width="0.45"/>
<line x1="242.50" y1="442.53" x2="416.60" y2="442.53" stroke="#e3e3e3" stroke-width="0.45"/>
<line x1="242.50" y1="447.01" x2="416.60" y2="447.01" stroke="#e3e3e3" stroke-width="0.45"/>
<line x1="242.50" y1="451.50" x2="416.60" y2="451.50" stroke="#e3e3e3" stroke-width="0.45"/>
<line x1="242.50" y1="455.98" x2="416.60" y2="455.98" stroke="#e3e3e3" stroke-width="0.45"/>
<line x1="242.50" y1="460.47" x2="416.60" y2="460.47" stroke="#e3e3e3" stroke-width="0.45"/>
<line x1="242.50" y1="464.95" x2="416.60" y2="464.95" stroke="#e3e3e3" stroke-width="0.45"/>
<line x1="242.50" y1="469.44" x2="416.60" y2="469.44" stroke="#e3e3e3" stroke-width="0.45"/>
<line x1="242.50" y1="473.92" x2="416.60" y2="473.92" stroke="#e3e3e3" stroke-width="0.45"/>
<line x1="242.50" y1="478.41" x2="416.60" y2="478.41" stroke="#e3e3e3" stroke-width="0.45"/>
<line x1="242.50" y1="482.89" x2="416.60" y2="482.89" stroke="#e3e3e3" stroke-width="0.45"/>
<line x1="242.50" y1="487.38" x2="416.60" y2="487.38" stroke="#e3e3e3" stroke-width="0.45"/>
<line x1="263.80" y1="148.60" x2="263.80" y2="490.10" stroke="#1c1c1c" stroke-width="1.1"/>
<circle cx="349.60" cy="151.00" r="2.70" fill="#e8141c" stroke="none" stroke-width="0.5"/>
<circle cx="351.50" cy="151.00" r="2.70" fill="#e8141c" stroke="none" stroke-width="0.5"/>
<circle cx="353.40" cy="151.00" r="2.70" fill="#e8141c" stroke="none" stroke-width="0.5"/>
<circle cx="352.00" cy="155.49" r="2.30" fill="#f9b5a0" stroke="none" stroke-width="0.5"/>
<line x1="399.00" y1="159.97" x2="408.50" y2="159.97" stroke="#222" stroke-width="0.6"/>
<rect x="328.40" y="158.42" width="70.60" height="3.10" fill="#fff" stroke="#262626" stroke-width="0.9"/>
<line x1="332.00" y1="158.42" x2="332.00" y2="161.52" stroke="#111" stroke-width="1.0"/>
<circle cx="322.80" cy="159.97" r="1.90" fill="#111" stroke="none" stroke-width="0.5"/>
<circle cx="325.00" cy="159.97" r="1.90" fill="#222" stroke="none" stroke-width="0.5"/>
<circle cx="327.00" cy="159.97" r="1.90" fill="#444" stroke="none" stroke-width="0.5"/>
<circle cx="376.00" cy="159.97" r="1.70" fill="#fbb6a8" stroke="none" stroke-width="0.5"/>
<circle cx="385.50" cy="159.97" r="1.70" fill="#f4664c" stroke="none" stroke-width="0.5"/>
<circle cx="398.50" cy="159.97" r="1.70" fill="#e8302a" stroke="none" stroke-width="0.5"/>
<circle cx="337.50" cy="164.46" r="2.50" fill="#fbc8bc" stroke="none" stroke-width="0.5"/>
<circle cx="341.00" cy="164.46" r="2.50" fill="#fbc8bc" stroke="none" stroke-width="0.5"/>
<circle cx="333.30" cy="168.94" r="2.50" fill="#888" stroke="none" stroke-width="0.5"/>
<circle cx="336.80" cy="168.94" r="2.50" fill="#ccc" stroke="none" stroke-width="0.5"/>
<circle cx="341.20" cy="168.94" r="2.50" fill="#f7a58d" stroke="none" stroke-width="0.5"/>
<circle cx="343.80" cy="168.94" r="2.50" fill="#ee5a3f" stroke="none" stroke-width="0.5"/>
<circle cx="328.70" cy="173.43" r="2.80" fill="#444" stroke="none" stroke-width="0.5"/>
<circle cx="333.00" cy="173.43" r="2.60" fill="#999" stroke="none" stroke-width="0.5"/>
<circle cx="337.50" cy="173.43" r="2.60" fill="#ddd" stroke="none" stroke-width="0.5"/>
<circle cx="341.00" cy="173.43" r="2.50" fill="#f5a088" stroke="none" stroke-width="0.5"/>
<circle cx="346.00" cy="173.43" r="2.30" fill="#fbd0c5" stroke="none" stroke-width="0.5"/>
<circle cx="350.90" cy="173.43" r="2.50" fill="#f2745a" stroke="none" stroke-width="0.5"/>
<circle cx="334.20" cy="177.91" r="2.50" fill="#999" stroke="none" stroke-width="0.5"/>
<circle cx="337.70" cy="177.91" r="2.50" fill="#eee" stroke="none" stroke-width="0.5"/>
<rect x="354.60" y="180.84" width="13.40" height="3.10" fill="#fff" stroke="#262626" stroke-width="0.9"/>
<circle cx="311.70" cy="182.40" r="1.60" fill="#111" stroke="none" stroke-width="0.5"/>
<rect x="340.00" y="185.33" width="3.00" height="3.10" fill="#fff" stroke="#262626" stroke-width="0.9"/>
<circle cx="330.00" cy="186.88" r="2.60" fill="#555" stroke="none" stroke-width="0.5"/>
<circle cx="334.20" cy="186.88" r="2.60" fill="#888" stroke="none" stroke-width="0.5"/>
<circle cx="338.40" cy="186.88" r="2.60" fill="#ccc" stroke="none" stroke-width="0.5"/>
<circle cx="346.20" cy="186.88" r="2.30" fill="#f9b5a0" stroke="none" stroke-width="0.5"/>
<line x1="350.40" y1="191.37" x2="360.90" y2="191.37" stroke="#222" stroke-width="0.6"/>
<rect x="345.50" y="189.81" width="4.90" height="3.10" fill="#fff" stroke="#262626" stroke-width="0.9"/>
<circle cx="338.40" cy="191.37" r="2.50" fill="#888" stroke="none" stroke-width="0.5"/>
<circle cx="343.30" cy="191.37" r="2.50" fill="#999" stroke="none" stroke-width="0.5"/>
<circle cx="361.60" cy="191.37" r="2.00" fill="#f9b5a0" stroke="none" stroke-width="0.5"/>
<circle cx="364.40" cy="191.37" r="2.00" fill="#f9b5a0" stroke="none" stroke-width="0.5"/>
<rect x="341.20" y="194.30" width="8.50" height="3.10" fill="#fff" stroke="#262626" stroke-width="0.9"/>
<circle cx="335.00" cy="195.85" r="2.60" fill="#777" stroke="none" stroke-width="0.5"/>
<circle cx="338.40" cy="195.85" r="2.60" fill="#888" stroke="none" stroke-width="0.5"/>
<circle cx="354.60" cy="195.85" r="2.30" fill="#f9b5a0" stroke="none" stroke-width="0.5"/>
<circle cx="331.40" cy="200.34" r="2.60" fill="#666" stroke="none" stroke-width="0.5"/>
<circle cx="335.60" cy="200.34" r="2.60" fill="#777" stroke="none" stroke-width="0.5"/>
<ellipse cx="358.40" cy="204.82" rx="0.95" ry="2.0" fill="#1a1a1a"/>
<rect x="342.50" y="207.75" width="19.50" height="3.10" fill="#fff" stroke="#262626" stroke-width="0.9"/>
<line x1="350.00" y1="207.75" x2="350.00" y2="210.86" stroke="#111" stroke-width="1.0"/>
<circle cx="337.00" cy="209.31" r="2.10" fill="#777" stroke="none" stroke-width="0.5"/>
<circle cx="339.50" cy="209.31" r="2.10" fill="#888" stroke="none" stroke-width="0.5"/>
<circle cx="342.00" cy="209.31" r="2.10" fill="#888" stroke="none" stroke-width="0.5"/>
<circle cx="346.00" cy="209.31" r="1.80" fill="#666" stroke="none" stroke-width="0.5"/>
<circle cx="353.00" cy="209.31" r="1.80" fill="#888" stroke="none" stroke-width="0.5"/>
<line x1="346.70" y1="213.79" x2="357.20" y2="213.79" stroke="#222" stroke-width="0.6"/>
<rect x="332.00" y="212.24" width="14.70" height="3.10" fill="#fff" stroke="#262626" stroke-width="0.9"/>
<line x1="338.00" y1="212.24" x2="338.00" y2="215.34" stroke="#111" stroke-width="1.0"/>
<circle cx="325.60" cy="213.79" r="2.40" fill="#333" stroke="none" stroke-width="0.5"/>
<circle cx="329.00" cy="213.79" r="2.40" fill="#555" stroke="none" stroke-width="0.5"/>
<circle cx="334.00" cy="213.79" r="1.90" fill="#666" stroke="none" stroke-width="0.5"/>
<circle cx="357.20" cy="213.79" r="1.50" fill="#888" stroke="none" stroke-width="0.5"/>
<circle cx="319.60" cy="218.28" r="3.10" fill="#111" stroke="none" stroke-width="0.5"/>
<circle cx="325.60" cy="218.28" r="2.70" fill="#444" stroke="none" stroke-width="0.5"/>
<circle cx="330.50" cy="218.28" r="2.70" fill="#777" stroke="none" stroke-width="0.5"/>
<circle cx="335.50" cy="218.28" r="2.70" fill="#aaa" stroke="none" stroke-width="0.5"/>
<circle cx="339.70" cy="218.28" r="2.50" fill="#ccc" stroke="none" stroke-width="0.5"/>
<circle cx="336.20" cy="222.76" r="2.60" fill="#777" stroke="none" stroke-width="0.5"/>
<circle cx="339.00" cy="222.76" r="2.60" fill="#777" stroke="none" stroke-width="0.5"/>
<circle cx="342.70" cy="222.76" r="2.00" fill="#888" stroke="none" stroke-width="0.5"/>
<circle cx="332.00" cy="227.25" r="2.60" fill="#888" stroke="none" stroke-width="0.5"/>
<circle cx="336.00" cy="227.25" r="2.60" fill="#aaa" stroke="none" stroke-width="0.5"/>
<circle cx="340.40" cy="227.25" r="2.60" fill="#ccc" stroke="none" stroke-width="0.5"/>
<line x1="324.20" y1="231.73" x2="333.00" y2="231.73" stroke="#222" stroke-width="0.6"/>
<circle cx="324.20" cy="231.73" r="1.60" fill="#111" stroke="none" stroke-width="0.5"/>
<circle cx="336.20" cy="231.73" r="2.50" fill="#666" stroke="none" stroke-width="0.5"/>
<circle cx="339.70" cy="231.73" r="2.50" fill="#666" stroke="none" stroke-width="0.5"/>
<circle cx="343.20" cy="231.73" r="2.50" fill="#777" stroke="none" stroke-width="0.5"/>
<rect x="345.30" y="234.66" width="3.50" height="3.10" fill="#fff" stroke="#262626" stroke-width="0.9"/>
<circle cx="325.60" cy="236.22" r="2.60" fill="#222" stroke="none" stroke-width="0.5"/>
<circle cx="336.20" cy="236.22" r="2.60" fill="#777" stroke="none" stroke-width="0.5"/>
<circle cx="339.70" cy="236.22" r="2.60" fill="#777" stroke="none" stroke-width="0.5"/>
<circle cx="323.50" cy="240.70" r="3.10" fill="#111" stroke="none" stroke-width="0.5"/>
<circle cx="327.00" cy="240.70" r="2.90" fill="#222" stroke="none" stroke-width="0.5"/>
<circle cx="330.50" cy="240.70" r="2.90" fill="#333" stroke="none" stroke-width="0.5"/>
<ellipse cx="338.50" cy="245.19" rx="0.95" ry="2.0" fill="#1a1a1a"/>
<circle cx="323.50" cy="249.67" r="2.60" fill="#222" stroke="none" stroke-width="0.5"/>
<circle cx="328.40" cy="249.67" r="2.60" fill="#444" stroke="none" stroke-width="0.5"/>
<circle cx="332.60" cy="249.67" r="2.60" fill="#555" stroke="none" stroke-width="0.5"/>
<circle cx="336.90" cy="249.67" r="2.50" fill="#555" stroke="none" stroke-width="0.5"/>
<circle cx="339.40" cy="249.67" r="1.60" fill="#444" stroke="none" stroke-width="0.5"/>
<ellipse cx="339.00" cy="254.16" rx="0.95" ry="2.0" fill="#1a1a1a"/>
<rect x="321.70" y="257.09" width="57.55" height="3.10" fill="#fff" stroke="#262626" stroke-width="0.9"/>
<line x1="332.60" y1="257.09" x2="332.60" y2="260.19" stroke="#111" stroke-width="1.0"/>
<circle cx="322.80" cy="263.12" r="2.60" fill="#222" stroke="none" stroke-width="0.5"/>
<circle cx="327.70" cy="263.12" r="2.60" fill="#444" stroke="none" stroke-width="0.5"/>
<circle cx="332.60" cy="263.12" r="2.50" fill="#666" stroke="none" stroke-width="0.5"/>
<circle cx="334.75" cy="263.12" r="2.30" fill="#666" stroke="none" stroke-width="0.5"/>
<ellipse cx="331.00" cy="267.61" rx="0.95" ry="2.0" fill="#1a1a1a"/>
<circle cx="324.20" cy="272.10" r="2.60" fill="#222" stroke="none" stroke-width="0.5"/>
<circle cx="328.40" cy="272.10" r="2.60" fill="#333" stroke="none" stroke-width="0.5"/>
<circle cx="332.00" cy="272.10" r="2.50" fill="#333" stroke="none" stroke-width="0.5"/>
<circle cx="324.50" cy="276.58" r="2.70" fill="#222" stroke="none" stroke-width="0.5"/>
<circle cx="328.70" cy="276.58" r="2.70" fill="#333" stroke="none" stroke-width="0.5"/>
<circle cx="334.70" cy="276.58" r="2.30" fill="#888" stroke="none" stroke-width="0.5"/>
<circle cx="324.00" cy="281.06" r="1.30" fill="#222" stroke="none" stroke-width="0.5"/>
<circle cx="326.00" cy="281.06" r="1.30" fill="#222" stroke="none" stroke-width="0.5"/>
<circle cx="325.50" cy="285.55" r="2.50" fill="#333" stroke="none" stroke-width="0.5"/>
<circle cx="329.00" cy="285.55" r="2.50" fill="#333" stroke="none" stroke-width="0.5"/>
<circle cx="332.20" cy="285.55" r="2.50" fill="#333" stroke="none" stroke-width="0.5"/>
<circle cx="317.00" cy="290.03" r="1.50" fill="#222" stroke="none" stroke-width="0.5"/>
<circle cx="319.80" cy="290.03" r="1.50" fill="#222" stroke="none" stroke-width="0.5"/>
<circle cx="323.30" cy="290.03" r="2.30" fill="#222" stroke="none" stroke-width="0.5"/>
<circle cx="326.20" cy="290.03" r="2.30" fill="#222" stroke="none" stroke-width="0.5"/>
<circle cx="324.00" cy="294.52" r="2.70" fill="#222" stroke="none" stroke-width="0.5"/>
<circle cx="327.60" cy="294.52" r="2.70" fill="#222" stroke="none" stroke-width="0.5"/>
<circle cx="317.70" cy="299.00" r="2.30" fill="#111" stroke="none" stroke-width="0.5"/>
<circle cx="324.00" cy="299.00" r="2.70" fill="#222" stroke="none" stroke-width="0.5"/>
<circle cx="327.60" cy="299.00" r="2.70" fill="#222" stroke="none" stroke-width="0.5"/>
<ellipse cx="317.20" cy="303.49" rx="0.95" ry="2.0" fill="#1a1a1a"/>
<circle cx="321.10" cy="307.98" r="2.40" fill="#222" stroke="none" stroke-width="0.5"/>
<circle cx="324.00" cy="307.98" r="2.40" fill="#222" stroke="none" stroke-width="0.5"/>
<circle cx="326.90" cy="307.98" r="2.40" fill="#222" stroke="none" stroke-width="0.5"/>
<ellipse cx="318.50" cy="312.46" rx="0.95" ry="2.0" fill="#1a1a1a"/>
<rect x="317.30" y="315.40" width="23.90" height="3.10" fill="#fff" stroke="#262626" stroke-width="0.9"/>
<line x1="318.75" y1="315.40" x2="318.75" y2="318.50" stroke="#111" stroke-width="1.0"/>
<circle cx="313.00" cy="316.95" r="1.80" fill="#111" stroke="none" stroke-width="0.5"/>
<circle cx="316.00" cy="316.95" r="1.80" fill="#111" stroke="none" stroke-width="0.5"/>
<circle cx="320.00" cy="316.95" r="1.80" fill="#222" stroke="none" stroke-width="0.5"/>
<circle cx="323.00" cy="316.95" r="1.80" fill="#333" stroke="none" stroke-width="0.5"/>
<circle cx="326.00" cy="316.95" r="1.70" fill="#444" stroke="none" stroke-width="0.5"/>
<line x1="317.00" y1="321.43" x2="332.00" y2="321.43" stroke="#222" stroke-width="0.6"/>
<circle cx="310.30" cy="321.43" r="1.80" fill="#111" stroke="none" stroke-width="0.5"/>
<circle cx="313.00" cy="321.43" r="1.80" fill="#111" stroke="none" stroke-width="0.5"/>
<circle cx="318.50" cy="321.43" r="2.30" fill="#222" stroke="none" stroke-width="0.5"/>
<circle cx="321.00" cy="321.43" r="2.30" fill="#222" stroke="none" stroke-width="0.5"/>
<circle cx="323.50" cy="321.43" r="2.30" fill="#222" stroke="none" stroke-width="0.5"/>
<circle cx="326.00" cy="321.43" r="2.30" fill="#222" stroke="none" stroke-width="0.5"/>
<circle cx="332.80" cy="321.43" r="1.80" fill="#555" stroke="none" stroke-width="0.5"/>
<circle cx="321.05" cy="325.92" r="2.60" fill="#222" stroke="none" stroke-width="0.5"/>
<circle cx="323.32" cy="325.92" r="2.60" fill="#222" stroke="none" stroke-width="0.5"/>
<circle cx="325.60" cy="325.92" r="2.60" fill="#222" stroke="none" stroke-width="0.5"/>
<circle cx="331.40" cy="325.92" r="2.40" fill="#555" stroke="none" stroke-width="0.5"/>
<circle cx="303.60" cy="330.40" r="2.30" fill="#111" stroke="none" stroke-width="0.5"/>
<circle cx="314.10" cy="330.40" r="2.30" fill="#222" stroke="none" stroke-width="0.5"/>
<circle cx="321.05" cy="330.40" r="2.60" fill="#222" stroke="none" stroke-width="0.5"/>
<circle cx="323.50" cy="330.40" r="2.60" fill="#222" stroke="none" stroke-width="0.5"/>
<circle cx="315.40" cy="334.88" r="2.60" fill="#111" stroke="none" stroke-width="0.5"/>
<circle cx="318.33" cy="334.88" r="2.60" fill="#111" stroke="none" stroke-width="0.5"/>
<circle cx="321.27" cy="334.88" r="2.60" fill="#111" stroke="none" stroke-width="0.5"/>
<circle cx="324.20" cy="334.88" r="2.60" fill="#111" stroke="none" stroke-width="0.5"/>
<circle cx="295.60" cy="339.37" r="1.20" fill="#111" stroke="none" stroke-width="0.5"/>
<circle cx="309.00" cy="339.37" r="2.10" fill="#222" stroke="none" stroke-width="0.5"/>
<circle cx="310.80" cy="339.37" r="2.10" fill="#222" stroke="none" stroke-width="0.5"/>
<circle cx="315.80" cy="343.86" r="2.60" fill="#111" stroke="none" stroke-width="0.5"/>
<circle cx="318.00" cy="343.86" r="2.60" fill="#111" stroke="none" stroke-width="0.5"/>
<circle cx="320.20" cy="343.86" r="2.60" fill="#111" stroke="none" stroke-width="0.5"/>
<circle cx="322.40" cy="343.86" r="2.60" fill="#111" stroke="none" stroke-width="0.5"/>
<circle cx="328.20" cy="343.86" r="2.30" fill="#444" stroke="none" stroke-width="0.5"/>
<circle cx="312.90" cy="348.34" r="2.60" fill="#111" stroke="none" stroke-width="0.5"/>
<circle cx="315.37" cy="348.34" r="2.60" fill="#111" stroke="none" stroke-width="0.5"/>
<circle cx="317.83" cy="348.34" r="2.60" fill="#111" stroke="none" stroke-width="0.5"/>
<circle cx="320.30" cy="348.34" r="2.60" fill="#111" stroke="none" stroke-width="0.5"/>
<circle cx="317.90" cy="352.83" r="2.60" fill="#111" stroke="none" stroke-width="0.5"/>
<circle cx="320.80" cy="352.83" r="2.60" fill="#111" stroke="none" stroke-width="0.5"/>
<circle cx="323.70" cy="352.83" r="2.60" fill="#111" stroke="none" stroke-width="0.5"/>
<circle cx="315.05" cy="357.31" r="2.60" fill="#111" stroke="none" stroke-width="0.5"/>
<circle cx="317.50" cy="357.31" r="2.60" fill="#111" stroke="none" stroke-width="0.5"/>
<circle cx="319.95" cy="357.31" r="2.60" fill="#111" stroke="none" stroke-width="0.5"/>
<circle cx="322.40" cy="357.31" r="2.60" fill="#111" stroke="none" stroke-width="0.5"/>
<line x1="293.80" y1="361.80" x2="300.00" y2="361.80" stroke="#222" stroke-width="0.6"/>
<rect x="300.00" y="360.25" width="7.00" height="3.10" fill="#fff" stroke="#262626" stroke-width="0.9"/>
<circle cx="293.80" cy="361.80" r="1.00" fill="#333" stroke="none" stroke-width="0.5"/>
<circle cx="309.90" cy="366.28" r="2.40" fill="#111" stroke="none" stroke-width="0.5"/>
<circle cx="312.23" cy="366.28" r="2.40" fill="#111" stroke="none" stroke-width="0.5"/>
<circle cx="314.57" cy="366.28" r="2.40" fill="#111" stroke="none" stroke-width="0.5"/>
<circle cx="316.90" cy="366.28" r="2.40" fill="#111" stroke="none" stroke-width="0.5"/>
<circle cx="322.00" cy="366.28" r="1.80" fill="#111" stroke="none" stroke-width="0.5"/>
<rect x="310.60" y="369.21" width="12.00" height="3.10" fill="#fff" stroke="#262626" stroke-width="0.9"/>
<line x1="316.00" y1="369.21" x2="316.00" y2="372.31" stroke="#111" stroke-width="1.0"/>
<circle cx="309.00" cy="370.76" r="1.90" fill="#111" stroke="none" stroke-width="0.5"/>
<circle cx="313.50" cy="370.76" r="1.90" fill="#111" stroke="none" stroke-width="0.5"/>
<circle cx="324.70" cy="370.76" r="2.30" fill="#222" stroke="none" stroke-width="0.5"/>
<circle cx="328.90" cy="370.76" r="2.50" fill="#555" stroke="none" stroke-width="0.5"/>
<circle cx="303.60" cy="375.25" r="1.30" fill="#111" stroke="none" stroke-width="0.5"/>
<circle cx="307.60" cy="375.25" r="2.30" fill="#111" stroke="none" stroke-width="0.5"/>
<circle cx="311.30" cy="375.25" r="1.30" fill="#111" stroke="none" stroke-width="0.5"/>
<circle cx="307.80" cy="379.74" r="2.30" fill="#111" stroke="none" stroke-width="0.5"/>
<circle cx="315.30" cy="379.74" r="2.60" fill="#111" stroke="none" stroke-width="0.5"/>
<circle cx="317.90" cy="379.74" r="2.60" fill="#111" stroke="none" stroke-width="0.5"/>
<circle cx="320.50" cy="379.74" r="2.60" fill="#111" stroke="none" stroke-width="0.5"/>
<circle cx="323.10" cy="379.74" r="2.60" fill="#111" stroke="none" stroke-width="0.5"/>
<rect x="307.00" y="382.67" width="3.70" height="3.10" fill="#fff" stroke="#262626" stroke-width="0.9"/>
<circle cx="280.00" cy="384.22" r="1.30" fill="#111" stroke="none" stroke-width="0.5"/>
<circle cx="304.40" cy="384.22" r="2.10" fill="#111" stroke="none" stroke-width="0.5"/>
<circle cx="312.50" cy="384.22" r="1.90" fill="#111" stroke="none" stroke-width="0.5"/>
<circle cx="315.80" cy="384.22" r="1.90" fill="#111" stroke="none" stroke-width="0.5"/>
<circle cx="319.20" cy="384.22" r="1.90" fill="#111" stroke="none" stroke-width="0.5"/>
<circle cx="322.60" cy="384.22" r="1.70" fill="#111" stroke="none" stroke-width="0.5"/>
<line x1="297.30" y1="388.71" x2="306.50" y2="388.71" stroke="#222" stroke-width="0.6"/>
<circle cx="297.30" cy="388.71" r="1.40" fill="#111" stroke="none" stroke-width="0.5"/>
<circle cx="307.20" cy="388.71" r="2.30" fill="#111" stroke="none" stroke-width="0.5"/>
<circle cx="311.40" cy="388.71" r="2.30" fill="#111" stroke="none" stroke-width="0.5"/>
<circle cx="326.00" cy="388.71" r="1.60" fill="#111" stroke="none" stroke-width="0.5"/>
<circle cx="310.10" cy="393.19" r="2.50" fill="#111" stroke="none" stroke-width="0.5"/>
<circle cx="312.58" cy="393.19" r="2.50" fill="#111" stroke="none" stroke-width="0.5"/>
<circle cx="315.06" cy="393.19" r="2.50" fill="#111" stroke="none" stroke-width="0.5"/>
<circle cx="317.54" cy="393.19" r="2.50" fill="#111" stroke="none" stroke-width="0.5"/>
<circle cx="320.02" cy="393.19" r="2.50" fill="#111" stroke="none" stroke-width="0.5"/>
<circle cx="322.50" cy="393.19" r="2.50" fill="#111" stroke="none" stroke-width="0.5"/>
<circle cx="294.50" cy="397.68" r="2.50" fill="#111" stroke="none" stroke-width="0.5"/>
<circle cx="305.80" cy="397.68" r="2.50" fill="#111" stroke="none" stroke-width="0.5"/>
<circle cx="310.00" cy="397.68" r="2.50" fill="#111" stroke="none" stroke-width="0.5"/>
<line x1="296.40" y1="402.16" x2="307.00" y2="402.16" stroke="#222" stroke-width="0.6"/>
<rect x="307.20" y="400.61" width="4.80" height="3.10" fill="#fff" stroke="#262626" stroke-width="0.9"/>
<circle cx="296.40" cy="402.16" r="2.10" fill="#111" stroke="none" stroke-width="0.5"/>
<circle cx="304.40" cy="402.16" r="1.90" fill="#111" stroke="none" stroke-width="0.5"/>
<circle cx="316.40" cy="402.16" r="2.50" fill="#111" stroke="none" stroke-width="0.5"/>
<circle cx="319.00" cy="402.16" r="2.50" fill="#111" stroke="none" stroke-width="0.5"/>
<circle cx="297.00" cy="406.64" r="2.10" fill="#111" stroke="none" stroke-width="0.5"/>
<line x1="279.10" y1="411.13" x2="281.50" y2="411.13" stroke="#222" stroke-width="0.6"/>
<line x1="312.00" y1="411.13" x2="317.70" y2="411.13" stroke="#222" stroke-width="0.6"/>
<rect x="281.50" y="409.58" width="30.50" height="3.10" fill="#fff" stroke="#262626" stroke-width="0.9"/>
<circle cx="279.10" cy="411.13" r="1.30" fill="#111" stroke="none" stroke-width="0.5"/>
<circle cx="302.30" cy="411.13" r="2.10" fill="#111" stroke="none" stroke-width="0.5"/>
<circle cx="310.70" cy="411.13" r="2.10" fill="#111" stroke="none" stroke-width="0.5"/>
<circle cx="317.70" cy="411.13" r="1.70" fill="#111" stroke="none" stroke-width="0.5"/>
<circle cx="314.30" cy="415.62" r="2.60" fill="#111" stroke="none" stroke-width="0.5"/>
<circle cx="316.65" cy="415.62" r="2.60" fill="#111" stroke="none" stroke-width="0.5"/>
<circle cx="319.00" cy="415.62" r="2.60" fill="#111" stroke="none" stroke-width="0.5"/>
<circle cx="321.35" cy="415.62" r="2.60" fill="#111" stroke="none" stroke-width="0.5"/>
<circle cx="323.70" cy="415.62" r="2.60" fill="#111" stroke="none" stroke-width="0.5"/>
<circle cx="327.80" cy="415.62" r="2.30" fill="#3a3a3a" stroke="none" stroke-width="0.5"/>
<circle cx="331.40" cy="415.62" r="2.30" fill="#5a5a5a" stroke="none" stroke-width="0.5"/>
<circle cx="314.10" cy="420.10" r="2.50" fill="#111" stroke="none" stroke-width="0.5"/>
<circle cx="317.80" cy="420.10" r="2.50" fill="#111" stroke="none" stroke-width="0.5"/>
<circle cx="324.00" cy="420.10" r="1.80" fill="#111" stroke="none" stroke-width="0.5"/>
<circle cx="331.70" cy="420.10" r="1.30" fill="#222" stroke="none" stroke-width="0.5"/>
<rect x="291.40" y="423.04" width="4.80" height="3.10" fill="#fff" stroke="#262626" stroke-width="0.9"/>
<circle cx="277.90" cy="424.59" r="1.30" fill="#111" stroke="none" stroke-width="0.5"/>
<rect x="273.40" y="427.52" width="23.80" height="3.10" fill="#fff" stroke="#262626" stroke-width="0.9"/>
<line x1="286.50" y1="427.52" x2="286.50" y2="430.62" stroke="#111" stroke-width="1.0"/>
<circle cx="298.80" cy="429.07" r="1.60" fill="#111" stroke="none" stroke-width="0.5"/>
<line x1="282.40" y1="433.56" x2="293.00" y2="433.56" stroke="#222" stroke-width="0.6"/>
<rect x="293.00" y="432.00" width="11.50" height="3.10" fill="#fff" stroke="#262626" stroke-width="0.9"/>
<circle cx="282.40" cy="433.56" r="1.60" fill="#111" stroke="none" stroke-width="0.5"/>
<circle cx="291.40" cy="433.56" r="1.90" fill="#111" stroke="none" stroke-width="0.5"/>
<circle cx="300.40" cy="433.56" r="2.00" fill="#111" stroke="none" stroke-width="0.5"/>
<circle cx="307.40" cy="433.56" r="2.40" fill="#111" stroke="none" stroke-width="0.5"/>
<circle cx="309.40" cy="433.56" r="2.40" fill="#111" stroke="none" stroke-width="0.5"/>
<circle cx="311.40" cy="433.56" r="2.40" fill="#111" stroke="none" stroke-width="0.5"/>
<circle cx="310.00" cy="438.04" r="2.50" fill="#111" stroke="none" stroke-width="0.5"/>
<circle cx="313.80" cy="438.04" r="2.50" fill="#111" stroke="none" stroke-width="0.5"/>
<rect x="302.90" y="440.98" width="13.90" height="3.10" fill="#fff" stroke="#262626" stroke-width="0.9"/>
<circle cx="296.30" cy="442.53" r="2.30" fill="#111" stroke="none" stroke-width="0.5"/>
<circle cx="300.40" cy="442.53" r="2.30" fill="#111" stroke="none" stroke-width="0.5"/>
<circle cx="305.00" cy="442.53" r="1.80" fill="#111" stroke="none" stroke-width="0.5"/>
<circle cx="319.60" cy="442.53" r="2.30" fill="#111" stroke="none" stroke-width="0.5"/>
<circle cx="321.80" cy="442.53" r="2.30" fill="#111" stroke="none" stroke-width="0.5"/>
<circle cx="324.00" cy="442.53" r="2.30" fill="#111" stroke="none" stroke-width="0.5"/>
<rect x="302.90" y="445.46" width="5.70" height="3.10" fill="#fff" stroke="#262626" stroke-width="0.9"/>
<circle cx="298.00" cy="447.01" r="2.30" fill="#111" stroke="none" stroke-width="0.5"/>
<circle cx="301.25" cy="447.01" r="2.30" fill="#111" stroke="none" stroke-width="0.5"/>
<circle cx="309.40" cy="447.01" r="2.10" fill="#111" stroke="none" stroke-width="0.5"/>
<circle cx="314.00" cy="447.01" r="1.30" fill="#111" stroke="none" stroke-width="0.5"/>
<circle cx="308.40" cy="451.50" r="2.50" fill="#111" stroke="none" stroke-width="0.5"/>
<circle cx="311.30" cy="451.50" r="2.50" fill="#111" stroke="none" stroke-width="0.5"/>
<circle cx="326.70" cy="451.50" r="2.30" fill="#444" stroke="none" stroke-width="0.5"/>
<circle cx="311.20" cy="455.98" r="2.50" fill="#111" stroke="none" stroke-width="0.5"/>
<circle cx="313.25" cy="455.98" r="2.50" fill="#111" stroke="none" stroke-width="0.5"/>
<circle cx="315.30" cy="455.98" r="2.50" fill="#111" stroke="none" stroke-width="0.5"/>
<rect x="310.00" y="458.92" width="5.50" height="3.10" fill="#fff" stroke="#262626" stroke-width="0.9"/>
<circle cx="297.80" cy="460.47" r="2.30" fill="#111" stroke="none" stroke-width="0.5"/>
<circle cx="301.00" cy="460.47" r="2.30" fill="#111" stroke="none" stroke-width="0.5"/>
<circle cx="307.10" cy="460.47" r="2.50" fill="#111" stroke="none" stroke-width="0.5"/>
<circle cx="316.50" cy="460.47" r="2.50" fill="#111" stroke="none" stroke-width="0.5"/>
<circle cx="319.70" cy="460.47" r="2.50" fill="#111" stroke="none" stroke-width="0.5"/>
<circle cx="284.10" cy="464.95" r="2.20" fill="#111" stroke="none" stroke-width="0.5"/>
<circle cx="292.30" cy="464.95" r="2.30" fill="#111" stroke="none" stroke-width="0.5"/>
<circle cx="295.00" cy="464.95" r="2.30" fill="#111" stroke="none" stroke-width="0.5"/>
<circle cx="297.70" cy="464.95" r="2.30" fill="#111" stroke="none" stroke-width="0.5"/>
<line x1="267.50" y1="469.44" x2="313.70" y2="469.44" stroke="#222" stroke-width="0.6"/>
<rect x="288.40" y="467.88" width="14.10" height="3.10" fill="#fff" stroke="#262626" stroke-width="0.9"/>
<circle cx="267.50" cy="469.44" r="2.20" fill="#111" stroke="none" stroke-width="0.5"/>
<circle cx="279.10" cy="469.44" r="2.20" fill="#111" stroke="none" stroke-width="0.5"/>
<circle cx="292.20" cy="469.44" r="2.00" fill="#111" stroke="none" stroke-width="0.5"/>
<circle cx="295.40" cy="469.44" r="2.00" fill="#111" stroke="none" stroke-width="0.5"/>
<circle cx="304.30" cy="469.44" r="2.20" fill="#111" stroke="none" stroke-width="0.5"/>
<circle cx="313.70" cy="469.44" r="2.30" fill="#111" stroke="none" stroke-width="0.5"/>
<ellipse cx="250.75" cy="473.92" rx="0.95" ry="2.0" fill="#1a1a1a"/>
<ellipse cx="279.50" cy="478.41" rx="0.95" ry="2.0" fill="#1a1a1a"/>
<ellipse cx="257.20" cy="482.89" rx="0.95" ry="2.0" fill="#1a1a1a"/>
<ellipse cx="259.60" cy="487.38" rx="0.95" ry="2.0" fill="#1a1a1a"/>
<rect x="362.80" y="388.30" width="53.80" height="101.80" fill="#fff" stroke="#d4d4d4" stroke-width="0.5"/>
<text x="368.30" y="396.70" font-size="6.3" text-anchor="start" fill="#000" stroke="#000" stroke-width="0.1">Peptide set size</text>
<circle cx="372.75" cy="405.75" r="2.90" fill="#000" stroke="none" stroke-width="0.5"/>
<circle cx="372.75" cy="415.75" r="3.90" fill="#000" stroke="none" stroke-width="0.5"/>
<text x="381.20" y="407.60" font-size="5.2" text-anchor="start" fill="#000" stroke="#000" stroke-width="0.1">10</text>
<text x="381.20" y="417.60" font-size="5.2" text-anchor="start" fill="#000" stroke="#000" stroke-width="0.1">20</text>
<text x="366.60" y="432.30" font-size="6.4" text-anchor="start" fill="#000" stroke="#000" stroke-width="0.1">Specificity score</text>
<rect x="366.75" y="435.90" width="9.75" height="50.70" fill="url(#gD)" stroke="none" stroke-width="0.5"/>
<text x="379.60" y="439.40" font-size="5.2" text-anchor="start" fill="#000" stroke="#000" stroke-width="0.1">2</text>
<text x="379.60" y="456.00" font-size="5.2" text-anchor="start" fill="#000" stroke="#000" stroke-width="0.1">1.3</text>
<text x="379.60" y="487.10" font-size="5.2" text-anchor="start" fill="#000" stroke="#000" stroke-width="0.1">0</text>
<rect x="242.50" y="148.60" width="174.10" height="341.50" fill="none" stroke="#333" stroke-width="0.95"/>
<line x1="241.00" y1="151.00" x2="242.50" y2="151.00" stroke="#333" stroke-width="0.5"/>
<text transform="translate(240.90,152.20) scale(0.8,1)" font-size="3.5" text-anchor="end" fill="#505050" stroke="#505050" stroke-width="0.07">Lck</text>
<line x1="241.00" y1="155.49" x2="242.50" y2="155.49" stroke="#333" stroke-width="0.5"/>
<text transform="translate(240.90,156.69) scale(0.8,1)" font-size="3.5" text-anchor="end" fill="#505050" stroke="#505050" stroke-width="0.07">Lyn</text>
<line x1="241.00" y1="159.97" x2="242.50" y2="159.97" stroke="#333" stroke-width="0.5"/>
<text transform="translate(240.90,161.17) scale(0.8,1)" font-size="3.5" text-anchor="end" fill="#505050" stroke="#505050" stroke-width="0.07">Ron</text>
<line x1="241.00" y1="164.46" x2="242.50" y2="164.46" stroke="#333" stroke-width="0.5"/>
<text transform="translate(240.90,165.66) scale(0.8,1)" font-size="3.5" text-anchor="end" fill="#505050" stroke="#505050" stroke-width="0.07">FRK</text>
<line x1="241.00" y1="168.94" x2="242.50" y2="168.94" stroke="#333" stroke-width="0.5"/>
<text transform="translate(240.90,170.14) scale(0.8,1)" font-size="3.5" text-anchor="end" fill="#505050" stroke="#505050" stroke-width="0.07">Abl</text>
<line x1="241.00" y1="173.43" x2="242.50" y2="173.43" stroke="#333" stroke-width="0.5"/>
<text transform="translate(240.90,174.62) scale(0.8,1)" font-size="3.5" text-anchor="end" fill="#505050" stroke="#505050" stroke-width="0.07">Tyro3/Sky</text>
<line x1="241.00" y1="177.91" x2="242.50" y2="177.91" stroke="#333" stroke-width="0.5"/>
<text transform="translate(240.90,179.11) scale(0.8,1)" font-size="3.5" text-anchor="end" fill="#505050" stroke="#505050" stroke-width="0.07">Brk</text>
<line x1="241.00" y1="182.40" x2="242.50" y2="182.40" stroke="#333" stroke-width="0.5"/>
<text transform="translate(240.90,183.59) scale(0.8,1)" font-size="3.5" text-anchor="end" fill="#505050" stroke="#505050" stroke-width="0.07">PDGFR[alpha]</text>
<line x1="241.00" y1="186.88" x2="242.50" y2="186.88" stroke="#333" stroke-width="0.5"/>
<text transform="translate(240.90,188.08) scale(0.8,1)" font-size="3.5" text-anchor="end" fill="#505050" stroke="#505050" stroke-width="0.07">Arg</text>
<line x1="241.00" y1="191.37" x2="242.50" y2="191.37" stroke="#333" stroke-width="0.5"/>
<text transform="translate(240.90,192.56) scale(0.8,1)" font-size="3.5" text-anchor="end" fill="#505050" stroke="#505050" stroke-width="0.07">Fyn</text>
<line x1="241.00" y1="195.85" x2="242.50" y2="195.85" stroke="#333" stroke-width="0.5"/>
<text transform="translate(240.90,197.05) scale(0.8,1)" font-size="3.5" text-anchor="end" fill="#505050" stroke="#505050" stroke-width="0.07">BLK</text>
<line x1="241.00" y1="200.34" x2="242.50" y2="200.34" stroke="#333" stroke-width="0.5"/>
<text transform="translate(240.90,201.53) scale(0.8,1)" font-size="3.5" text-anchor="end" fill="#505050" stroke="#505050" stroke-width="0.07">Srm</text>
<line x1="241.00" y1="204.82" x2="242.50" y2="204.82" stroke="#333" stroke-width="0.5"/>
<text transform="translate(240.90,206.02) scale(0.8,1)" font-size="3.5" text-anchor="end" fill="#505050" stroke="#505050" stroke-width="0.07">EphB3</text>
<line x1="241.00" y1="209.31" x2="242.50" y2="209.31" stroke="#333" stroke-width="0.5"/>
<text transform="translate(240.90,210.50) scale(0.8,1)" font-size="3.5" text-anchor="end" fill="#505050" stroke="#505050" stroke-width="0.07">Fgr</text>
<line x1="241.00" y1="213.79" x2="242.50" y2="213.79" stroke="#333" stroke-width="0.5"/>
<text transform="translate(240.90,214.99) scale(0.8,1)" font-size="3.5" text-anchor="end" fill="#505050" stroke="#505050" stroke-width="0.07">Fer</text>
<line x1="241.00" y1="218.28" x2="242.50" y2="218.28" stroke="#333" stroke-width="0.5"/>
<text transform="translate(240.90,219.47) scale(0.8,1)" font-size="3.5" text-anchor="end" fill="#505050" stroke="#505050" stroke-width="0.07">TEC</text>
<line x1="241.00" y1="222.76" x2="242.50" y2="222.76" stroke="#333" stroke-width="0.5"/>
<text transform="translate(240.90,223.96) scale(0.8,1)" font-size="3.5" text-anchor="end" fill="#505050" stroke="#505050" stroke-width="0.07">Ret</text>
<line x1="241.00" y1="227.25" x2="242.50" y2="227.25" stroke="#333" stroke-width="0.5"/>
<text transform="translate(240.90,228.44) scale(0.8,1)" font-size="3.5" text-anchor="end" fill="#505050" stroke="#505050" stroke-width="0.07">TXK</text>
<line x1="241.00" y1="231.73" x2="242.50" y2="231.73" stroke="#333" stroke-width="0.5"/>
<text transform="translate(240.90,232.93) scale(0.8,1)" font-size="3.5" text-anchor="end" fill="#505050" stroke="#505050" stroke-width="0.07">LTK</text>
<line x1="241.00" y1="236.22" x2="242.50" y2="236.22" stroke="#333" stroke-width="0.5"/>
<text transform="translate(240.90,237.41) scale(0.8,1)" font-size="3.5" text-anchor="end" fill="#505050" stroke="#505050" stroke-width="0.07">Fes</text>
<line x1="241.00" y1="240.70" x2="242.50" y2="240.70" stroke="#333" stroke-width="0.5"/>
<text transform="translate(240.90,241.90) scale(0.8,1)" font-size="3.5" text-anchor="end" fill="#505050" stroke="#505050" stroke-width="0.07">Syk</text>
<line x1="241.00" y1="245.19" x2="242.50" y2="245.19" stroke="#333" stroke-width="0.5"/>
<text transform="translate(240.90,246.38) scale(0.8,1)" font-size="3.5" text-anchor="end" fill="#505050" stroke="#505050" stroke-width="0.07">Ros</text>
<line x1="241.00" y1="249.67" x2="242.50" y2="249.67" stroke="#333" stroke-width="0.5"/>
<text transform="translate(240.90,250.87) scale(0.8,1)" font-size="3.5" text-anchor="end" fill="#505050" stroke="#505050" stroke-width="0.07">Yes</text>
<line x1="241.00" y1="254.16" x2="242.50" y2="254.16" stroke="#333" stroke-width="0.5"/>
<text transform="translate(240.90,255.35) scale(0.8,1)" font-size="3.5" text-anchor="end" fill="#505050" stroke="#505050" stroke-width="0.07">CCK4/PTK7</text>
<line x1="241.00" y1="258.64" x2="242.50" y2="258.64" stroke="#333" stroke-width="0.5"/>
<text transform="translate(240.90,259.84) scale(0.8,1)" font-size="3.5" text-anchor="end" fill="#505050" stroke="#505050" stroke-width="0.07">EphA8</text>
<line x1="241.00" y1="263.12" x2="242.50" y2="263.12" stroke="#333" stroke-width="0.5"/>
<text transform="translate(240.90,264.32) scale(0.8,1)" font-size="3.5" text-anchor="end" fill="#505050" stroke="#505050" stroke-width="0.07">HCK</text>
<line x1="241.00" y1="267.61" x2="242.50" y2="267.61" stroke="#333" stroke-width="0.5"/>
<text transform="translate(240.90,268.81) scale(0.8,1)" font-size="3.5" text-anchor="end" fill="#505050" stroke="#505050" stroke-width="0.07">EphB1</text>
<line x1="241.00" y1="272.10" x2="242.50" y2="272.10" stroke="#333" stroke-width="0.5"/>
<text transform="translate(240.90,273.30) scale(0.8,1)" font-size="3.5" text-anchor="end" fill="#505050" stroke="#505050" stroke-width="0.07">InSR</text>
<line x1="241.00" y1="276.58" x2="242.50" y2="276.58" stroke="#333" stroke-width="0.5"/>
<text transform="translate(240.90,277.78) scale(0.8,1)" font-size="3.5" text-anchor="end" fill="#505050" stroke="#505050" stroke-width="0.07">Axl</text>
<line x1="241.00" y1="281.06" x2="242.50" y2="281.06" stroke="#333" stroke-width="0.5"/>
<text transform="translate(240.90,282.26) scale(0.8,1)" font-size="3.5" text-anchor="end" fill="#505050" stroke="#505050" stroke-width="0.07">EphA5</text>
<line x1="241.00" y1="285.55" x2="242.50" y2="285.55" stroke="#333" stroke-width="0.5"/>
<text transform="translate(240.90,286.75) scale(0.8,1)" font-size="3.5" text-anchor="end" fill="#505050" stroke="#505050" stroke-width="0.07">CTK</text>
<line x1="241.00" y1="290.03" x2="242.50" y2="290.03" stroke="#333" stroke-width="0.5"/>
<text transform="translate(240.90,291.23) scale(0.8,1)" font-size="3.5" text-anchor="end" fill="#505050" stroke="#505050" stroke-width="0.07">EphA2</text>
<line x1="241.00" y1="294.52" x2="242.50" y2="294.52" stroke="#333" stroke-width="0.5"/>
<text transform="translate(240.90,295.72) scale(0.8,1)" font-size="3.5" text-anchor="end" fill="#505050" stroke="#505050" stroke-width="0.07">ZAP70</text>
<line x1="241.00" y1="299.00" x2="242.50" y2="299.00" stroke="#333" stroke-width="0.5"/>
<text transform="translate(240.90,300.20) scale(0.8,1)" font-size="3.5" text-anchor="end" fill="#505050" stroke="#505050" stroke-width="0.07">HER3</text>
<line x1="241.00" y1="303.49" x2="242.50" y2="303.49" stroke="#333" stroke-width="0.5"/>
<text transform="translate(240.90,304.69) scale(0.8,1)" font-size="3.5" text-anchor="end" fill="#505050" stroke="#505050" stroke-width="0.07">DDR1</text>
<line x1="241.00" y1="307.98" x2="242.50" y2="307.98" stroke="#333" stroke-width="0.5"/>
<text transform="translate(240.90,309.18) scale(0.8,1)" font-size="3.5" text-anchor="end" fill="#505050" stroke="#505050" stroke-width="0.07">Mer</text>
<line x1="241.00" y1="312.46" x2="242.50" y2="312.46" stroke="#333" stroke-width="0.5"/>
<text transform="translate(240.90,313.66) scale(0.8,1)" font-size="3.5" text-anchor="end" fill="#505050" stroke="#505050" stroke-width="0.07">EphB4</text>
<line x1="241.00" y1="316.95" x2="242.50" y2="316.95" stroke="#333" stroke-width="0.5"/>
<text transform="translate(240.90,318.15) scale(0.8,1)" font-size="3.5" text-anchor="end" fill="#505050" stroke="#505050" stroke-width="0.07">Fms/CSFR</text>
<line x1="241.00" y1="321.43" x2="242.50" y2="321.43" stroke="#333" stroke-width="0.5"/>
<text transform="translate(240.90,322.63) scale(0.8,1)" font-size="3.5" text-anchor="end" fill="#505050" stroke="#505050" stroke-width="0.07">IGF1R</text>
<line x1="241.00" y1="325.92" x2="242.50" y2="325.92" stroke="#333" stroke-width="0.5"/>
<text transform="translate(240.90,327.12) scale(0.8,1)" font-size="3.5" text-anchor="end" fill="#505050" stroke="#505050" stroke-width="0.07">ALK</text>
<line x1="241.00" y1="330.40" x2="242.50" y2="330.40" stroke="#333" stroke-width="0.5"/>
<text transform="translate(240.90,331.60) scale(0.8,1)" font-size="3.5" text-anchor="end" fill="#505050" stroke="#505050" stroke-width="0.07">BTK</text>
<line x1="241.00" y1="334.88" x2="242.50" y2="334.88" stroke="#333" stroke-width="0.5"/>
<text transform="translate(240.90,336.08) scale(0.8,1)" font-size="3.5" text-anchor="end" fill="#505050" stroke="#505050" stroke-width="0.07">Etk/BMX</text>
<line x1="241.00" y1="339.37" x2="242.50" y2="339.37" stroke="#333" stroke-width="0.5"/>
<text transform="translate(240.90,340.57) scale(0.8,1)" font-size="3.5" text-anchor="end" fill="#505050" stroke="#505050" stroke-width="0.07">EphA1</text>
<line x1="241.00" y1="343.86" x2="242.50" y2="343.86" stroke="#333" stroke-width="0.5"/>
<text transform="translate(240.90,345.06) scale(0.8,1)" font-size="3.5" text-anchor="end" fill="#505050" stroke="#505050" stroke-width="0.07">TRKB</text>
<line x1="241.00" y1="348.34" x2="242.50" y2="348.34" stroke="#333" stroke-width="0.5"/>
<text transform="translate(240.90,349.54) scale(0.8,1)" font-size="3.5" text-anchor="end" fill="#505050" stroke="#505050" stroke-width="0.07">JAK2</text>
<line x1="241.00" y1="352.83" x2="242.50" y2="352.83" stroke="#333" stroke-width="0.5"/>
<text transform="translate(240.90,354.03) scale(0.8,1)" font-size="3.5" text-anchor="end" fill="#505050" stroke="#505050" stroke-width="0.07">Met</text>
<line x1="241.00" y1="357.31" x2="242.50" y2="357.31" stroke="#333" stroke-width="0.5"/>
<text transform="translate(240.90,358.51) scale(0.8,1)" font-size="3.5" text-anchor="end" fill="#505050" stroke="#505050" stroke-width="0.07">PDGFR[beta]</text>
<line x1="241.00" y1="361.80" x2="242.50" y2="361.80" stroke="#333" stroke-width="0.5"/>
<text transform="translate(240.90,363.00) scale(0.8,1)" font-size="3.5" text-anchor="end" fill="#505050" stroke="#505050" stroke-width="0.07">EphA6</text>
<line x1="241.00" y1="366.28" x2="242.50" y2="366.28" stroke="#333" stroke-width="0.5"/>
<text transform="translate(240.90,367.48) scale(0.8,1)" font-size="3.5" text-anchor="end" fill="#505050" stroke="#505050" stroke-width="0.07">TRKC</text>
<line x1="241.00" y1="370.76" x2="242.50" y2="370.76" stroke="#333" stroke-width="0.5"/>
<text transform="translate(240.90,371.96) scale(0.8,1)" font-size="3.5" text-anchor="end" fill="#505050" stroke="#505050" stroke-width="0.07">Kit</text>
<line x1="241.00" y1="375.25" x2="242.50" y2="375.25" stroke="#333" stroke-width="0.5"/>
<text transform="translate(240.90,376.45) scale(0.8,1)" font-size="3.5" text-anchor="end" fill="#505050" stroke="#505050" stroke-width="0.07">IRR</text>
<line x1="241.00" y1="379.74" x2="242.50" y2="379.74" stroke="#333" stroke-width="0.5"/>
<text transform="translate(240.90,380.94) scale(0.8,1)" font-size="3.5" text-anchor="end" fill="#505050" stroke="#505050" stroke-width="0.07">CSK</text>
<line x1="241.00" y1="384.22" x2="242.50" y2="384.22" stroke="#333" stroke-width="0.5"/>
<text transform="translate(240.90,385.42) scale(0.8,1)" font-size="3.5" text-anchor="end" fill="#505050" stroke="#505050" stroke-width="0.07">FGFR2</text>
<line x1="241.00" y1="388.71" x2="242.50" y2="388.71" stroke="#333" stroke-width="0.5"/>
<text transform="translate(240.90,389.91) scale(0.8,1)" font-size="3.5" text-anchor="end" fill="#505050" stroke="#505050" stroke-width="0.07">Src</text>
<line x1="241.00" y1="393.19" x2="242.50" y2="393.19" stroke="#333" stroke-width="0.5"/>
<text transform="translate(240.90,394.39) scale(0.8,1)" font-size="3.5" text-anchor="end" fill="#505050" stroke="#505050" stroke-width="0.07">ITK</text>
<line x1="241.00" y1="397.68" x2="242.50" y2="397.68" stroke="#333" stroke-width="0.5"/>
<text transform="translate(240.90,398.88) scale(0.8,1)" font-size="3.5" text-anchor="end" fill="#505050" stroke="#505050" stroke-width="0.07">TRKA</text>
<line x1="241.00" y1="402.16" x2="242.50" y2="402.16" stroke="#333" stroke-width="0.5"/>
<text transform="translate(240.90,403.36) scale(0.8,1)" font-size="3.5" text-anchor="end" fill="#505050" stroke="#505050" stroke-width="0.07">FGFR4</text>
<line x1="241.00" y1="406.64" x2="242.50" y2="406.64" stroke="#333" stroke-width="0.5"/>
<text transform="translate(240.90,407.84) scale(0.8,1)" font-size="3.5" text-anchor="end" fill="#505050" stroke="#505050" stroke-width="0.07">JAK3</text>
<line x1="241.00" y1="411.13" x2="242.50" y2="411.13" stroke="#333" stroke-width="0.5"/>
<text transform="translate(240.90,412.33) scale(0.8,1)" font-size="3.5" text-anchor="end" fill="#505050" stroke="#505050" stroke-width="0.07">FGFR3</text>
<line x1="241.00" y1="415.62" x2="242.50" y2="415.62" stroke="#333" stroke-width="0.5"/>
<text transform="translate(240.90,416.81) scale(0.8,1)" font-size="3.5" text-anchor="end" fill="#505050" stroke="#505050" stroke-width="0.07">CHK1</text>
<line x1="241.00" y1="420.10" x2="242.50" y2="420.10" stroke="#333" stroke-width="0.5"/>
<text transform="translate(240.90,421.30) scale(0.8,1)" font-size="3.5" text-anchor="end" fill="#505050" stroke="#505050" stroke-width="0.07">HER4</text>
<line x1="241.00" y1="424.59" x2="242.50" y2="424.59" stroke="#333" stroke-width="0.5"/>
<text transform="translate(240.90,425.79) scale(0.8,1)" font-size="3.5" text-anchor="end" fill="#505050" stroke="#505050" stroke-width="0.07">JAK1~b</text>
<line x1="241.00" y1="429.07" x2="242.50" y2="429.07" stroke="#333" stroke-width="0.5"/>
<text transform="translate(240.90,430.27) scale(0.8,1)" font-size="3.5" text-anchor="end" fill="#505050" stroke="#505050" stroke-width="0.07">EphA3</text>
<line x1="241.00" y1="433.56" x2="242.50" y2="433.56" stroke="#333" stroke-width="0.5"/>
<text transform="translate(240.90,434.75) scale(0.8,1)" font-size="3.5" text-anchor="end" fill="#505050" stroke="#505050" stroke-width="0.07">FGFR1</text>
<line x1="241.00" y1="438.04" x2="242.50" y2="438.04" stroke="#333" stroke-width="0.5"/>
<text transform="translate(240.90,439.24) scale(0.8,1)" font-size="3.5" text-anchor="end" fill="#505050" stroke="#505050" stroke-width="0.07">HER2</text>
<line x1="241.00" y1="442.53" x2="242.50" y2="442.53" stroke="#333" stroke-width="0.5"/>
<text transform="translate(240.90,443.73) scale(0.8,1)" font-size="3.5" text-anchor="end" fill="#505050" stroke="#505050" stroke-width="0.07">KDR</text>
<line x1="241.00" y1="447.01" x2="242.50" y2="447.01" stroke="#333" stroke-width="0.5"/>
<text transform="translate(240.90,448.21) scale(0.8,1)" font-size="3.5" text-anchor="end" fill="#505050" stroke="#505050" stroke-width="0.07">FLT4</text>
<line x1="241.00" y1="451.50" x2="242.50" y2="451.50" stroke="#333" stroke-width="0.5"/>
<text transform="translate(240.90,452.69) scale(0.8,1)" font-size="3.5" text-anchor="end" fill="#505050" stroke="#505050" stroke-width="0.07">FAK2</text>
<line x1="241.00" y1="455.98" x2="242.50" y2="455.98" stroke="#333" stroke-width="0.5"/>
<text transform="translate(240.90,457.18) scale(0.8,1)" font-size="3.5" text-anchor="end" fill="#505050" stroke="#505050" stroke-width="0.07">Tyk2</text>
<line x1="241.00" y1="460.47" x2="242.50" y2="460.47" stroke="#333" stroke-width="0.5"/>
<text transform="translate(240.90,461.67) scale(0.8,1)" font-size="3.5" text-anchor="end" fill="#505050" stroke="#505050" stroke-width="0.07">EGFR</text>
<line x1="241.00" y1="464.95" x2="242.50" y2="464.95" stroke="#333" stroke-width="0.5"/>
<text transform="translate(240.90,466.15) scale(0.8,1)" font-size="3.5" text-anchor="end" fill="#505050" stroke="#505050" stroke-width="0.07">FLT1</text>
<line x1="241.00" y1="469.44" x2="242.50" y2="469.44" stroke="#333" stroke-width="0.5"/>
<text transform="translate(240.90,470.63) scale(0.8,1)" font-size="3.5" text-anchor="end" fill="#505050" stroke="#505050" stroke-width="0.07">FLT3</text>
<line x1="241.00" y1="473.92" x2="242.50" y2="473.92" stroke="#333" stroke-width="0.5"/>
<text transform="translate(240.90,475.12) scale(0.8,1)" font-size="3.5" text-anchor="end" fill="#505050" stroke="#505050" stroke-width="0.07">EphB2</text>
<line x1="241.00" y1="478.41" x2="242.50" y2="478.41" stroke="#333" stroke-width="0.5"/>
<text transform="translate(240.90,479.61) scale(0.8,1)" font-size="3.5" text-anchor="end" fill="#505050" stroke="#505050" stroke-width="0.07">DDR2</text>
<line x1="241.00" y1="482.89" x2="242.50" y2="482.89" stroke="#333" stroke-width="0.5"/>
<text transform="translate(240.90,484.09) scale(0.8,1)" font-size="3.5" text-anchor="end" fill="#505050" stroke="#505050" stroke-width="0.07">EphA7</text>
<line x1="241.00" y1="487.38" x2="242.50" y2="487.38" stroke="#333" stroke-width="0.5"/>
<text transform="translate(240.90,488.57) scale(0.8,1)" font-size="3.5" text-anchor="end" fill="#505050" stroke="#505050" stroke-width="0.07">Lmr1</text>
<line x1="263.80" y1="490.10" x2="263.80" y2="491.40" stroke="#333" stroke-width="0.35"/>
<text x="263.80" y="493.80" font-size="3.0" text-anchor="middle" fill="#4d4d4d" stroke="#4d4d4d" stroke-width="0.14">0.0</text>
<line x1="316.80" y1="490.10" x2="316.80" y2="491.40" stroke="#333" stroke-width="0.35"/>
<text x="316.80" y="493.80" font-size="3.0" text-anchor="middle" fill="#4d4d4d" stroke="#4d4d4d" stroke-width="0.14">2.5</text>
<line x1="369.80" y1="490.10" x2="369.80" y2="491.40" stroke="#333" stroke-width="0.35"/>
<text x="369.80" y="493.80" font-size="3.0" text-anchor="middle" fill="#4d4d4d" stroke="#4d4d4d" stroke-width="0.14">5.0</text>
<text x="340.00" y="500.20" font-size="6.9" text-anchor="middle" fill="#000" stroke="#000" stroke-width="0.1">Normalized kinase statistic</text>
<text x="215.60" y="151.20" font-size="10.3" text-anchor="start" fill="#000" font-weight="bold">D</text>
</g>
<g id="panelE">
<rect x="29.50" y="503.30" width="16.10" height="5.40" fill="#d9d9d9" stroke="#333" stroke-width="0.5"/>
<rect x="29.50" y="508.70" width="16.10" height="29.20" fill="#fff" stroke="#333" stroke-width="0.5"/>
<line x1="29.80" y1="513.80" x2="45.30" y2="513.80" stroke="#eeeeee" stroke-width="0.4"/>
<line x1="29.80" y1="520.60" x2="45.30" y2="520.60" stroke="#eeeeee" stroke-width="0.4"/>
<line x1="29.80" y1="527.30" x2="45.30" y2="527.30" stroke="#eeeeee" stroke-width="0.4"/>
<line x1="29.80" y1="534.10" x2="45.30" y2="534.10" stroke="#eeeeee" stroke-width="0.4"/>
<text x="37.55" y="507.20" font-size="3.2" text-anchor="middle" fill="#1a1a1a" stroke="#1a1a1a" stroke-width="0.1">ABL</text>
<line x1="33.70" y1="508.70" x2="33.70" y2="537.90" stroke="#eeeeee" stroke-width="0.4"/>
<line x1="41.40" y1="508.70" x2="41.40" y2="537.90" stroke="#eeeeee" stroke-width="0.4"/>
<circle cx="33.70" cy="513.80" r="2.75" fill="#000" stroke="none" stroke-width="0.5"/>
<circle cx="33.70" cy="520.60" r="1.40" fill="#000" stroke="none" stroke-width="0.5"/>
<circle cx="33.70" cy="527.30" r="1.40" fill="#000" stroke="none" stroke-width="0.5"/>
<circle cx="33.70" cy="534.10" r="2.75" fill="#000" stroke="none" stroke-width="0.5"/>
<line x1="33.70" y1="537.90" x2="33.70" y2="539.40" stroke="#222" stroke-width="0.7"/>
<text transform="translate(38.00,540.90) rotate(-40)" font-size="3.3" text-anchor="end" fill="#5a5a5a">ABL1</text>
<circle cx="41.40" cy="513.80" r="2.75" fill="#000" stroke="none" stroke-width="0.5"/>
<circle cx="41.40" cy="520.60" r="1.85" fill="#fff" stroke="#111" stroke-width="0.75"/>
<circle cx="41.40" cy="527.30" r="1.85" fill="#fff" stroke="#111" stroke-width="0.75"/>
<circle cx="41.40" cy="534.10" r="2.75" fill="#000" stroke="none" stroke-width="0.5"/>
<line x1="41.40" y1="537.90" x2="41.40" y2="539.40" stroke="#222" stroke-width="0.7"/>
<text transform="translate(45.70,540.90) rotate(-40)" font-size="3.3" text-anchor="end" fill="#5a5a5a">ABL2</text>
<rect x="48.40" y="503.30" width="8.20" height="5.40" fill="#d9d9d9" stroke="#333" stroke-width="0.5"/>
<rect x="48.40" y="508.70" width="8.20" height="29.20" fill="#fff" stroke="#333" stroke-width="0.5"/>
<line x1="48.70" y1="513.80" x2="56.30" y2="513.80" stroke="#eeeeee" stroke-width="0.4"/>
<line x1="48.70" y1="520.60" x2="56.30" y2="520.60" stroke="#eeeeee" stroke-width="0.4"/>
<line x1="48.70" y1="527.30" x2="56.30" y2="527.30" stroke="#eeeeee" stroke-width="0.4"/>
<line x1="48.70" y1="534.10" x2="56.30" y2="534.10" stroke="#eeeeee" stroke-width="0.4"/>
<text x="52.50" y="507.20" font-size="3.2" text-anchor="middle" fill="#1a1a1a" stroke="#1a1a1a" stroke-width="0.1">ALK</text>
<line x1="52.50" y1="508.70" x2="52.50" y2="537.90" stroke="#eeeeee" stroke-width="0.4"/>
<circle cx="52.50" cy="513.80" r="0.75" fill="#000" stroke="none" stroke-width="0.5"/>
<circle cx="52.50" cy="520.60" r="2.10" fill="#000" stroke="none" stroke-width="0.5"/>
<circle cx="52.50" cy="527.30" r="1.85" fill="#fff" stroke="#111" stroke-width="0.75"/>
<circle cx="52.50" cy="534.10" r="1.40" fill="#000" stroke="none" stroke-width="0.5"/>
<line x1="52.50" y1="537.90" x2="52.50" y2="539.40" stroke="#222" stroke-width="0.7"/>
<text transform="translate(56.80,540.90) rotate(-40)" font-size="3.3" text-anchor="end" fill="#5a5a5a">ALK</text>
<rect x="59.50" y="503.30" width="8.10" height="5.40" fill="#d9d9d9" stroke="#333" stroke-width="0.5"/>
<rect x="59.50" y="508.70" width="8.10" height="29.20" fill="#fff" stroke="#333" stroke-width="0.5"/>
<line x1="59.80" y1="513.80" x2="67.30" y2="513.80" stroke="#eeeeee" stroke-width="0.4"/>
<line x1="59.80" y1="520.60" x2="67.30" y2="520.60" stroke="#eeeeee" stroke-width="0.4"/>
<line x1="59.80" y1="527.30" x2="67.30" y2="527.30" stroke="#eeeeee" stroke-width="0.4"/>
<line x1="59.80" y1="534.10" x2="67.30" y2="534.10" stroke="#eeeeee" stroke-width="0.4"/>
<text x="63.55" y="507.20" font-size="3.2" text-anchor="middle" fill="#1a1a1a" stroke="#1a1a1a" stroke-width="0.1">AXL</text>
<line x1="63.60" y1="508.70" x2="63.60" y2="537.90" stroke="#eeeeee" stroke-width="0.4"/>
<circle cx="63.60" cy="513.80" r="1.40" fill="#000" stroke="none" stroke-width="0.5"/>
<circle cx="63.60" cy="520.60" r="1.85" fill="#fff" stroke="#111" stroke-width="0.75"/>
<circle cx="63.60" cy="527.30" r="1.85" fill="#fff" stroke="#111" stroke-width="0.75"/>
<circle cx="63.60" cy="534.10" r="2.75" fill="#000" stroke="none" stroke-width="0.5"/>
<line x1="63.60" y1="537.90" x2="63.60" y2="539.40" stroke="#222" stroke-width="0.7"/>
<text transform="translate(67.90,540.90) rotate(-40)" font-size="3.3" text-anchor="end" fill="#5a5a5a">TYRO3</text>
<rect x="70.30" y="503.30" width="8.30" height="5.40" fill="#d9d9d9" stroke="#333" stroke-width="0.5"/>
<rect x="70.30" y="508.70" width="8.30" height="29.20" fill="#fff" stroke="#333" stroke-width="0.5"/>
<line x1="70.60" y1="513.80" x2="78.30" y2="513.80" stroke="#eeeeee" stroke-width="0.4"/>
<line x1="70.60" y1="520.60" x2="78.30" y2="520.60" stroke="#eeeeee" stroke-width="0.4"/>
<line x1="70.60" y1="527.30" x2="78.30" y2="527.30" stroke="#eeeeee" stroke-width="0.4"/>
<line x1="70.60" y1="534.10" x2="78.30" y2="534.10" stroke="#eeeeee" stroke-width="0.4"/>
<text x="74.45" y="507.20" font-size="3.2" text-anchor="middle" fill="#1a1a1a" stroke="#1a1a1a" stroke-width="0.1">CSK</text>
<line x1="74.50" y1="508.70" x2="74.50" y2="537.90" stroke="#eeeeee" stroke-width="0.4"/>
<circle cx="74.50" cy="513.80" r="0.75" fill="#000" stroke="none" stroke-width="0.5"/>
<circle cx="74.50" cy="520.60" r="1.85" fill="#fff" stroke="#111" stroke-width="0.75"/>
<circle cx="74.50" cy="527.30" r="2.75" fill="#000" stroke="none" stroke-width="0.5"/>
<circle cx="74.50" cy="534.10" r="2.10" fill="#000" stroke="none" stroke-width="0.5"/>
<line x1="74.50" y1="537.90" x2="74.50" y2="539.40" stroke="#222" stroke-width="0.7"/>
<text transform="translate(78.80,540.90) rotate(-40)" font-size="3.3" text-anchor="end" fill="#5a5a5a">MATK</text>
<rect x="81.10" y="503.30" width="16.50" height="5.40" fill="#d9d9d9" stroke="#333" stroke-width="0.5"/>
<rect x="81.10" y="508.70" width="16.50" height="29.20" fill="#fff" stroke="#333" stroke-width="0.5"/>
<line x1="81.40" y1="513.80" x2="97.30" y2="513.80" stroke="#eeeeee" stroke-width="0.4"/>
<line x1="81.40" y1="520.60" x2="97.30" y2="520.60" stroke="#eeeeee" stroke-width="0.4"/>
<line x1="81.40" y1="527.30" x2="97.30" y2="527.30" stroke="#eeeeee" stroke-width="0.4"/>
<line x1="81.40" y1="534.10" x2="97.30" y2="534.10" stroke="#eeeeee" stroke-width="0.4"/>
<text x="89.35" y="507.20" font-size="3.2" text-anchor="middle" fill="#1a1a1a" stroke="#1a1a1a" stroke-width="0.1">DDR</text>
<line x1="85.80" y1="508.70" x2="85.80" y2="537.90" stroke="#eeeeee" stroke-width="0.4"/>
<line x1="93.00" y1="508.70" x2="93.00" y2="537.90" stroke="#eeeeee" stroke-width="0.4"/>
<circle cx="85.80" cy="513.80" r="2.75" fill="#000" stroke="none" stroke-width="0.5"/>
<circle cx="85.80" cy="520.60" r="1.85" fill="#fff" stroke="#111" stroke-width="0.75"/>
<circle cx="85.80" cy="527.30" r="1.85" fill="#fff" stroke="#111" stroke-width="0.75"/>
<circle cx="85.80" cy="534.10" r="2.10" fill="#000" stroke="none" stroke-width="0.5"/>
<line x1="85.80" y1="537.90" x2="85.80" y2="539.40" stroke="#222" stroke-width="0.7"/>
<text transform="translate(90.10,540.90) rotate(-40)" font-size="3.3" text-anchor="end" fill="#5a5a5a">DDR1</text>
<circle cx="93.00" cy="513.80" r="2.75" fill="#000" stroke="none" stroke-width="0.5"/>
<circle cx="93.00" cy="520.60" r="1.85" fill="#fff" stroke="#111" stroke-width="0.75"/>
<circle cx="93.00" cy="527.30" r="2.75" fill="#000" stroke="none" stroke-width="0.5"/>
<circle cx="93.00" cy="534.10" r="1.85" fill="#fff" stroke="#111" stroke-width="0.75"/>
<line x1="93.00" y1="537.90" x2="93.00" y2="539.40" stroke="#222" stroke-width="0.7"/>
<text transform="translate(97.30,540.90) rotate(-40)" font-size="3.3" text-anchor="end" fill="#5a5a5a">DDR2</text>
<rect x="100.20" y="503.30" width="8.10" height="5.40" fill="#d9d9d9" stroke="#333" stroke-width="0.5"/>
<rect x="100.20" y="508.70" width="8.10" height="29.20" fill="#fff" stroke="#333" stroke-width="0.5"/>
<line x1="100.50" y1="513.80" x2="108.00" y2="513.80" stroke="#eeeeee" stroke-width="0.4"/>
<line x1="100.50" y1="520.60" x2="108.00" y2="520.60" stroke="#eeeeee" stroke-width="0.4"/>
<line x1="100.50" y1="527.30" x2="108.00" y2="527.30" stroke="#eeeeee" stroke-width="0.4"/>
<line x1="100.50" y1="534.10" x2="108.00" y2="534.10" stroke="#eeeeee" stroke-width="0.4"/>
<text x="104.25" y="507.20" font-size="2.4" text-anchor="middle" fill="#1a1a1a" stroke="#1a1a1a" stroke-width="0.1">EGFR</text>
<line x1="104.30" y1="508.70" x2="104.30" y2="537.90" stroke="#eeeeee" stroke-width="0.4"/>
<circle cx="104.30" cy="513.80" r="0.75" fill="#000" stroke="none" stroke-width="0.5"/>
<circle cx="104.30" cy="520.60" r="2.75" fill="#000" stroke="none" stroke-width="0.5"/>
<circle cx="104.30" cy="527.30" r="1.40" fill="#000" stroke="none" stroke-width="0.5"/>
<circle cx="104.30" cy="534.10" r="0.75" fill="#000" stroke="none" stroke-width="0.5"/>
<line x1="104.30" y1="537.90" x2="104.30" y2="539.40" stroke="#222" stroke-width="0.7"/>
<text transform="translate(108.60,540.90) rotate(-40)" font-size="3.3" text-anchor="end" fill="#5a5a5a">EGFR</text>
<rect x="110.90" y="503.30" width="16.00" height="5.40" fill="#d9d9d9" stroke="#333" stroke-width="0.5"/>
<rect x="110.90" y="508.70" width="16.00" height="29.20" fill="#fff" stroke="#333" stroke-width="0.5"/>
<line x1="111.20" y1="513.80" x2="126.60" y2="513.80" stroke="#eeeeee" stroke-width="0.4"/>
<line x1="111.20" y1="520.60" x2="126.60" y2="520.60" stroke="#eeeeee" stroke-width="0.4"/>
<line x1="111.20" y1="527.30" x2="126.60" y2="527.30" stroke="#eeeeee" stroke-width="0.4"/>
<line x1="111.20" y1="534.10" x2="126.60" y2="534.10" stroke="#eeeeee" stroke-width="0.4"/>
<text x="118.90" y="507.20" font-size="3.2" text-anchor="middle" fill="#1a1a1a" stroke="#1a1a1a" stroke-width="0.1">EPH</text>
<line x1="115.40" y1="508.70" x2="115.40" y2="537.90" stroke="#eeeeee" stroke-width="0.4"/>
<line x1="122.40" y1="508.70" x2="122.40" y2="537.90" stroke="#eeeeee" stroke-width="0.4"/>
<circle cx="115.40" cy="513.80" r="0.75" fill="#000" stroke="none" stroke-width="0.5"/>
<circle cx="115.40" cy="520.60" r="2.75" fill="#000" stroke="none" stroke-width="0.5"/>
<circle cx="115.40" cy="527.30" r="1.40" fill="#000" stroke="none" stroke-width="0.5"/>
<circle cx="115.40" cy="534.10" r="2.10" fill="#000" stroke="none" stroke-width="0.5"/>
<line x1="115.40" y1="537.90" x2="115.40" y2="539.40" stroke="#222" stroke-width="0.7"/>
<text transform="translate(119.70,540.90) rotate(-40)" font-size="3.3" text-anchor="end" fill="#5a5a5a">EPHA2</text>
<circle cx="122.40" cy="513.80" r="0.75" fill="#000" stroke="none" stroke-width="0.5"/>
<circle cx="122.40" cy="520.60" r="1.85" fill="#fff" stroke="#111" stroke-width="0.75"/>
<circle cx="122.40" cy="527.30" r="2.75" fill="#000" stroke="none" stroke-width="0.5"/>
<circle cx="122.40" cy="534.10" r="2.10" fill="#000" stroke="none" stroke-width="0.5"/>
<line x1="122.40" y1="537.90" x2="122.40" y2="539.40" stroke="#222" stroke-width="0.7"/>
<text transform="translate(126.70,540.90) rotate(-40)" font-size="3.3" text-anchor="end" fill="#5a5a5a">EPHB1</text>
<rect x="129.70" y="503.30" width="7.90" height="5.40" fill="#d9d9d9" stroke="#333" stroke-width="0.5"/>
<rect x="129.70" y="508.70" width="7.90" height="29.20" fill="#fff" stroke="#333" stroke-width="0.5"/>
<line x1="130.00" y1="513.80" x2="137.30" y2="513.80" stroke="#eeeeee" stroke-width="0.4"/>
<line x1="130.00" y1="520.60" x2="137.30" y2="520.60" stroke="#eeeeee" stroke-width="0.4"/>
<line x1="130.00" y1="527.30" x2="137.30" y2="527.30" stroke="#eeeeee" stroke-width="0.4"/>
<line x1="130.00" y1="534.10" x2="137.30" y2="534.10" stroke="#eeeeee" stroke-width="0.4"/>
<text x="133.65" y="507.20" font-size="3.2" text-anchor="middle" fill="#1a1a1a" stroke="#1a1a1a" stroke-width="0.1">FER</text>
<line x1="133.70" y1="508.70" x2="133.70" y2="537.90" stroke="#eeeeee" stroke-width="0.4"/>
<circle cx="133.70" cy="513.80" r="0.75" fill="#000" stroke="none" stroke-width="0.5"/>
<circle cx="133.70" cy="520.60" r="1.85" fill="#fff" stroke="#111" stroke-width="0.75"/>
<circle cx="133.70" cy="527.30" r="2.10" fill="#000" stroke="none" stroke-width="0.5"/>
<circle cx="133.70" cy="534.10" r="2.10" fill="#000" stroke="none" stroke-width="0.5"/>
<line x1="133.70" y1="537.90" x2="133.70" y2="539.40" stroke="#222" stroke-width="0.7"/>
<text transform="translate(138.00,540.90) rotate(-40)" font-size="3.3" text-anchor="end" fill="#5a5a5a">FES</text>
<rect x="140.40" y="503.30" width="8.40" height="5.40" fill="#d9d9d9" stroke="#333" stroke-width="0.5"/>
<rect x="140.40" y="508.70" width="8.40" height="29.20" fill="#fff" stroke="#333" stroke-width="0.5"/>
<line x1="140.70" y1="513.80" x2="148.50" y2="513.80" stroke="#eeeeee" stroke-width="0.4"/>
<line x1="140.70" y1="520.60" x2="148.50" y2="520.60" stroke="#eeeeee" stroke-width="0.4"/>
<line x1="140.70" y1="527.30" x2="148.50" y2="527.30" stroke="#eeeeee" stroke-width="0.4"/>
<line x1="140.70" y1="534.10" x2="148.50" y2="534.10" stroke="#eeeeee" stroke-width="0.4"/>
<text x="144.60" y="507.20" font-size="3.2" text-anchor="middle" fill="#1a1a1a" stroke="#1a1a1a" stroke-width="0.1">FRK</text>
<line x1="144.60" y1="508.70" x2="144.60" y2="537.90" stroke="#eeeeee" stroke-width="0.4"/>
<circle cx="144.60" cy="513.80" r="2.10" fill="#000" stroke="none" stroke-width="0.5"/>
<circle cx="144.60" cy="520.60" r="1.85" fill="#fff" stroke="#111" stroke-width="0.75"/>
<circle cx="144.60" cy="527.30" r="1.85" fill="#fff" stroke="#111" stroke-width="0.75"/>
<circle cx="144.60" cy="534.10" r="2.75" fill="#000" stroke="none" stroke-width="0.5"/>
<line x1="144.60" y1="537.90" x2="144.60" y2="539.40" stroke="#222" stroke-width="0.7"/>
<text transform="translate(148.90,540.90) rotate(-40)" font-size="3.3" text-anchor="end" fill="#5a5a5a">FRK</text>
<rect x="151.50" y="503.30" width="8.00" height="5.40" fill="#d9d9d9" stroke="#333" stroke-width="0.5"/>
<rect x="151.50" y="508.70" width="8.00" height="29.20" fill="#fff" stroke="#333" stroke-width="0.5"/>
<line x1="151.80" y1="513.80" x2="159.20" y2="513.80" stroke="#eeeeee" stroke-width="0.4"/>
<line x1="151.80" y1="520.60" x2="159.20" y2="520.60" stroke="#eeeeee" stroke-width="0.4"/>
<line x1="151.80" y1="527.30" x2="159.20" y2="527.30" stroke="#eeeeee" stroke-width="0.4"/>
<line x1="151.80" y1="534.10" x2="159.20" y2="534.10" stroke="#eeeeee" stroke-width="0.4"/>
<text x="155.50" y="507.20" font-size="2.4" text-anchor="middle" fill="#1a1a1a" stroke="#1a1a1a" stroke-width="0.1">INSR</text>
<line x1="155.60" y1="508.70" x2="155.60" y2="537.90" stroke="#eeeeee" stroke-width="0.4"/>
<circle cx="155.60" cy="513.80" r="2.10" fill="#000" stroke="none" stroke-width="0.5"/>
<circle cx="155.60" cy="520.60" r="2.75" fill="#000" stroke="none" stroke-width="0.5"/>
<circle cx="155.60" cy="527.30" r="0.75" fill="#000" stroke="none" stroke-width="0.5"/>
<circle cx="155.60" cy="534.10" r="2.10" fill="#000" stroke="none" stroke-width="0.5"/>
<line x1="155.60" y1="537.90" x2="155.60" y2="539.40" stroke="#222" stroke-width="0.7"/>
<text transform="translate(159.90,540.90) rotate(-40)" font-size="3.3" text-anchor="end" fill="#5a5a5a">INSR</text>
<rect x="162.30" y="503.30" width="16.45" height="5.40" fill="#d9d9d9" stroke="#333" stroke-width="0.5"/>
<rect x="162.30" y="508.70" width="16.45" height="29.20" fill="#fff" stroke="#333" stroke-width="0.5"/>
<line x1="162.60" y1="513.80" x2="178.45" y2="513.80" stroke="#eeeeee" stroke-width="0.4"/>
<line x1="162.60" y1="520.60" x2="178.45" y2="520.60" stroke="#eeeeee" stroke-width="0.4"/>
<line x1="162.60" y1="527.30" x2="178.45" y2="527.30" stroke="#eeeeee" stroke-width="0.4"/>
<line x1="162.60" y1="534.10" x2="178.45" y2="534.10" stroke="#eeeeee" stroke-width="0.4"/>
<text x="170.53" y="507.20" font-size="3.2" text-anchor="middle" fill="#1a1a1a" stroke="#1a1a1a" stroke-width="0.1">JAK</text>
<line x1="166.80" y1="508.70" x2="166.80" y2="537.90" stroke="#eeeeee" stroke-width="0.4"/>
<line x1="174.50" y1="508.70" x2="174.50" y2="537.90" stroke="#eeeeee" stroke-width="0.4"/>
<circle cx="166.80" cy="513.80" r="2.10" fill="#000" stroke="none" stroke-width="0.5"/>
<circle cx="166.80" cy="520.60" r="2.75" fill="#000" stroke="none" stroke-width="0.5"/>
<circle cx="166.80" cy="527.30" r="1.85" fill="#fff" stroke="#111" stroke-width="0.75"/>
<circle cx="166.80" cy="534.10" r="1.40" fill="#000" stroke="none" stroke-width="0.5"/>
<line x1="166.80" y1="537.90" x2="166.80" y2="539.40" stroke="#222" stroke-width="0.7"/>
<text transform="translate(171.10,540.90) rotate(-40)" font-size="3.3" text-anchor="end" fill="#5a5a5a">JAK2</text>
<circle cx="174.50" cy="513.80" r="2.10" fill="#000" stroke="none" stroke-width="0.5"/>
<circle cx="174.50" cy="520.60" r="2.10" fill="#000" stroke="none" stroke-width="0.5"/>
<circle cx="174.50" cy="527.30" r="1.85" fill="#fff" stroke="#111" stroke-width="0.75"/>
<circle cx="174.50" cy="534.10" r="0.75" fill="#000" stroke="none" stroke-width="0.5"/>
<line x1="174.50" y1="537.90" x2="174.50" y2="539.40" stroke="#222" stroke-width="0.7"/>
<text transform="translate(178.80,540.90) rotate(-40)" font-size="3.3" text-anchor="end" fill="#5a5a5a">JAK3</text>
<rect x="181.60" y="503.30" width="8.00" height="5.40" fill="#d9d9d9" stroke="#333" stroke-width="0.5"/>
<rect x="181.60" y="508.70" width="8.00" height="29.20" fill="#fff" stroke="#333" stroke-width="0.5"/>
<line x1="181.90" y1="513.80" x2="189.30" y2="513.80" stroke="#eeeeee" stroke-width="0.4"/>
<line x1="181.90" y1="520.60" x2="189.30" y2="520.60" stroke="#eeeeee" stroke-width="0.4"/>
<line x1="181.90" y1="527.30" x2="189.30" y2="527.30" stroke="#eeeeee" stroke-width="0.4"/>
<line x1="181.90" y1="534.10" x2="189.30" y2="534.10" stroke="#eeeeee" stroke-width="0.4"/>
<text x="185.60" y="507.20" font-size="3.2" text-anchor="middle" fill="#1a1a1a" stroke="#1a1a1a" stroke-width="0.1">MET</text>
<line x1="185.50" y1="508.70" x2="185.50" y2="537.90" stroke="#eeeeee" stroke-width="0.4"/>
<circle cx="185.50" cy="513.80" r="1.40" fill="#000" stroke="none" stroke-width="0.5"/>
<circle cx="185.50" cy="520.60" r="1.85" fill="#fff" stroke="#111" stroke-width="0.75"/>
<circle cx="185.50" cy="527.30" r="2.75" fill="#000" stroke="none" stroke-width="0.5"/>
<circle cx="185.50" cy="534.10" r="2.75" fill="#000" stroke="none" stroke-width="0.5"/>
<line x1="185.50" y1="537.90" x2="185.50" y2="539.40" stroke="#222" stroke-width="0.7"/>
<text transform="translate(189.80,540.90) rotate(-40)" font-size="3.3" text-anchor="end" fill="#5a5a5a">MST1R</text>
<rect x="192.40" y="503.30" width="30.70" height="5.40" fill="#d9d9d9" stroke="#333" stroke-width="0.5"/>
<rect x="192.40" y="508.70" width="30.70" height="29.20" fill="#fff" stroke="#333" stroke-width="0.5"/>
<line x1="192.70" y1="513.80" x2="222.80" y2="513.80" stroke="#eeeeee" stroke-width="0.4"/>
<line x1="192.70" y1="520.60" x2="222.80" y2="520.60" stroke="#eeeeee" stroke-width="0.4"/>
<line x1="192.70" y1="527.30" x2="222.80" y2="527.30" stroke="#eeeeee" stroke-width="0.4"/>
<line x1="192.70" y1="534.10" x2="222.80" y2="534.10" stroke="#eeeeee" stroke-width="0.4"/>
<text x="207.75" y="507.20" font-size="3.2" text-anchor="middle" fill="#1a1a1a" stroke="#1a1a1a" stroke-width="0.1">PDGFR</text>
<line x1="196.70" y1="508.70" x2="196.70" y2="537.90" stroke="#eeeeee" stroke-width="0.4"/>
<line x1="204.10" y1="508.70" x2="204.10" y2="537.90" stroke="#eeeeee" stroke-width="0.4"/>
<line x1="211.60" y1="508.70" x2="211.60" y2="537.90" stroke="#eeeeee" stroke-width="0.4"/>
<line x1="218.90" y1="508.70" x2="218.90" y2="537.90" stroke="#eeeeee" stroke-width="0.4"/>
<circle cx="196.70" cy="513.80" r="2.10" fill="#000" stroke="none" stroke-width="0.5"/>
<circle cx="196.70" cy="520.60" r="1.85" fill="#fff" stroke="#111" stroke-width="0.75"/>
<circle cx="196.70" cy="527.30" r="2.75" fill="#000" stroke="none" stroke-width="0.5"/>
<circle cx="196.70" cy="534.10" r="0.75" fill="#000" stroke="none" stroke-width="0.5"/>
<line x1="196.70" y1="537.90" x2="196.70" y2="539.40" stroke="#222" stroke-width="0.7"/>
<text transform="translate(201.00,540.90) rotate(-40)" font-size="3.3" text-anchor="end" fill="#5a5a5a">FLT3</text>
<circle cx="204.10" cy="513.80" r="2.10" fill="#000" stroke="none" stroke-width="0.5"/>
<circle cx="204.10" cy="520.60" r="1.85" fill="#fff" stroke="#111" stroke-width="0.75"/>
<circle cx="204.10" cy="527.30" r="2.75" fill="#000" stroke="none" stroke-width="0.5"/>
<circle cx="204.10" cy="534.10" r="1.40" fill="#000" stroke="none" stroke-width="0.5"/>
<line x1="204.10" y1="537.90" x2="204.10" y2="539.40" stroke="#222" stroke-width="0.7"/>
<text transform="translate(208.40,540.90) rotate(-40)" font-size="3.3" text-anchor="end" fill="#5a5a5a">KIT</text>
<circle cx="211.60" cy="513.80" r="2.10" fill="#000" stroke="none" stroke-width="0.5"/>
<circle cx="211.60" cy="520.60" r="0.75" fill="#000" stroke="none" stroke-width="0.5"/>
<circle cx="211.60" cy="527.30" r="2.75" fill="#000" stroke="none" stroke-width="0.5"/>
<circle cx="211.60" cy="534.10" r="2.75" fill="#000" stroke="none" stroke-width="0.5"/>
<line x1="211.60" y1="537.90" x2="211.60" y2="539.40" stroke="#222" stroke-width="0.7"/>
<text transform="translate(215.90,540.90) rotate(-40)" font-size="3.3" text-anchor="end" fill="#5a5a5a">PDGFRA</text>
<circle cx="218.90" cy="513.80" r="2.10" fill="#000" stroke="none" stroke-width="0.5"/>
<circle cx="218.90" cy="520.60" r="2.10" fill="#000" stroke="none" stroke-width="0.5"/>
<circle cx="218.90" cy="527.30" r="1.85" fill="#fff" stroke="#111" stroke-width="0.75"/>
<circle cx="218.90" cy="534.10" r="1.40" fill="#000" stroke="none" stroke-width="0.5"/>
<line x1="218.90" y1="537.90" x2="218.90" y2="539.40" stroke="#222" stroke-width="0.7"/>
<text transform="translate(223.20,540.90) rotate(-40)" font-size="3.3" text-anchor="end" fill="#5a5a5a">PDGFRB</text>
<rect x="225.90" y="503.30" width="8.00" height="5.40" fill="#d9d9d9" stroke="#333" stroke-width="0.5"/>
<rect x="225.90" y="508.70" width="8.00" height="29.20" fill="#fff" stroke="#333" stroke-width="0.5"/>
<line x1="226.20" y1="513.80" x2="233.60" y2="513.80" stroke="#eeeeee" stroke-width="0.4"/>
<line x1="226.20" y1="520.60" x2="233.60" y2="520.60" stroke="#eeeeee" stroke-width="0.4"/>
<line x1="226.20" y1="527.30" x2="233.60" y2="527.30" stroke="#eeeeee" stroke-width="0.4"/>
<line x1="226.20" y1="534.10" x2="233.60" y2="534.10" stroke="#eeeeee" stroke-width="0.4"/>
<text x="229.90" y="507.20" font-size="3.2" text-anchor="middle" fill="#1a1a1a" stroke="#1a1a1a" stroke-width="0.1">RET</text>
<line x1="229.90" y1="508.70" x2="229.90" y2="537.90" stroke="#eeeeee" stroke-width="0.4"/>
<circle cx="229.90" cy="513.80" r="0.75" fill="#000" stroke="none" stroke-width="0.5"/>
<circle cx="229.90" cy="520.60" r="2.75" fill="#000" stroke="none" stroke-width="0.5"/>
<circle cx="229.90" cy="527.30" r="2.10" fill="#000" stroke="none" stroke-width="0.5"/>
<circle cx="229.90" cy="534.10" r="2.75" fill="#000" stroke="none" stroke-width="0.5"/>
<line x1="229.90" y1="537.90" x2="229.90" y2="539.40" stroke="#222" stroke-width="0.7"/>
<text transform="translate(234.20,540.90) rotate(-40)" font-size="3.3" text-anchor="end" fill="#5a5a5a">RET</text>
<rect x="236.70" y="503.30" width="75.90" height="5.40" fill="#d9d9d9" stroke="#333" stroke-width="0.5"/>
<rect x="236.70" y="508.70" width="75.90" height="29.20" fill="#fff" stroke="#333" stroke-width="0.5"/>
<line x1="237.00" y1="513.80" x2="312.30" y2="513.80" stroke="#eeeeee" stroke-width="0.4"/>
<line x1="237.00" y1="520.60" x2="312.30" y2="520.60" stroke="#eeeeee" stroke-width="0.4"/>
<line x1="237.00" y1="527.30" x2="312.30" y2="527.30" stroke="#eeeeee" stroke-width="0.4"/>
<line x1="237.00" y1="534.10" x2="312.30" y2="534.10" stroke="#eeeeee" stroke-width="0.4"/>
<text x="274.65" y="507.20" font-size="3.2" text-anchor="middle" fill="#1a1a1a" stroke="#1a1a1a" stroke-width="0.1">SRC</text>
<line x1="241.40" y1="508.70" x2="241.40" y2="537.90" stroke="#eeeeee" stroke-width="0.4"/>
<line x1="248.80" y1="508.70" x2="248.80" y2="537.90" stroke="#eeeeee" stroke-width="0.4"/>
<line x1="256.20" y1="508.70" x2="256.20" y2="537.90" stroke="#eeeeee" stroke-width="0.4"/>
<line x1="263.60" y1="508.70" x2="263.60" y2="537.90" stroke="#eeeeee" stroke-width="0.4"/>
<line x1="271.00" y1="508.70" x2="271.00" y2="537.90" stroke="#eeeeee" stroke-width="0.4"/>
<line x1="278.50" y1="508.70" x2="278.50" y2="537.90" stroke="#eeeeee" stroke-width="0.4"/>
<line x1="286.20" y1="508.70" x2="286.20" y2="537.90" stroke="#eeeeee" stroke-width="0.4"/>
<line x1="293.80" y1="508.70" x2="293.80" y2="537.90" stroke="#eeeeee" stroke-width="0.4"/>
<line x1="301.00" y1="508.70" x2="301.00" y2="537.90" stroke="#eeeeee" stroke-width="0.4"/>
<line x1="308.30" y1="508.70" x2="308.30" y2="537.90" stroke="#eeeeee" stroke-width="0.4"/>
<circle cx="241.40" cy="513.80" r="2.75" fill="#000" stroke="none" stroke-width="0.5"/>
<circle cx="241.40" cy="520.60" r="1.85" fill="#fff" stroke="#111" stroke-width="0.75"/>
<circle cx="241.40" cy="527.30" r="1.85" fill="#fff" stroke="#111" stroke-width="0.75"/>
<circle cx="241.40" cy="534.10" r="2.75" fill="#000" stroke="none" stroke-width="0.5"/>
<line x1="241.40" y1="537.90" x2="241.40" y2="539.40" stroke="#222" stroke-width="0.7"/>
<text transform="translate(245.70,540.90) rotate(-40)" font-size="3.3" text-anchor="end" fill="#5a5a5a">BLK</text>
<circle cx="248.80" cy="513.80" r="2.75" fill="#000" stroke="none" stroke-width="0.5"/>
<circle cx="248.80" cy="520.60" r="1.85" fill="#fff" stroke="#111" stroke-width="0.75"/>
<circle cx="248.80" cy="527.30" r="1.85" fill="#fff" stroke="#111" stroke-width="0.75"/>
<circle cx="248.80" cy="534.10" r="2.75" fill="#000" stroke="none" stroke-width="0.5"/>
<line x1="248.80" y1="537.90" x2="248.80" y2="539.40" stroke="#222" stroke-width="0.7"/>
<text transform="translate(253.10,540.90) rotate(-40)" font-size="3.3" text-anchor="end" fill="#5a5a5a">FGR</text>
<circle cx="256.20" cy="513.80" r="2.75" fill="#000" stroke="none" stroke-width="0.5"/>
<circle cx="256.20" cy="520.60" r="2.10" fill="#000" stroke="none" stroke-width="0.5"/>
<circle cx="256.20" cy="527.30" r="1.40" fill="#000" stroke="none" stroke-width="0.5"/>
<circle cx="256.20" cy="534.10" r="2.75" fill="#000" stroke="none" stroke-width="0.5"/>
<line x1="256.20" y1="537.90" x2="256.20" y2="539.40" stroke="#222" stroke-width="0.7"/>
<text transform="translate(260.50,540.90) rotate(-40)" font-size="3.3" text-anchor="end" fill="#5a5a5a">FYN</text>
<circle cx="263.60" cy="513.80" r="2.75" fill="#000" stroke="none" stroke-width="0.5"/>
<circle cx="263.60" cy="520.60" r="1.85" fill="#fff" stroke="#111" stroke-width="0.75"/>
<circle cx="263.60" cy="527.30" r="1.85" fill="#fff" stroke="#111" stroke-width="0.75"/>
<circle cx="263.60" cy="534.10" r="2.10" fill="#000" stroke="none" stroke-width="0.5"/>
<line x1="263.60" y1="537.90" x2="263.60" y2="539.40" stroke="#222" stroke-width="0.7"/>
<text transform="translate(267.90,540.90) rotate(-40)" font-size="3.3" text-anchor="end" fill="#5a5a5a">HCK</text>
<circle cx="271.00" cy="513.80" r="2.75" fill="#000" stroke="none" stroke-width="0.5"/>
<circle cx="271.00" cy="520.60" r="0.75" fill="#000" stroke="none" stroke-width="0.5"/>
<circle cx="271.00" cy="527.30" r="1.40" fill="#000" stroke="none" stroke-width="0.5"/>
<circle cx="271.00" cy="534.10" r="2.75" fill="#000" stroke="none" stroke-width="0.5"/>
<line x1="271.00" y1="537.90" x2="271.00" y2="539.40" stroke="#222" stroke-width="0.7"/>
<text transform="translate(275.30,540.90) rotate(-40)" font-size="3.3" text-anchor="end" fill="#5a5a5a">LCK</text>
<circle cx="278.50" cy="513.80" r="2.75" fill="#000" stroke="none" stroke-width="0.5"/>
<circle cx="278.50" cy="520.60" r="0.75" fill="#000" stroke="none" stroke-width="0.5"/>
<circle cx="278.50" cy="527.30" r="1.85" fill="#fff" stroke="#111" stroke-width="0.75"/>
<circle cx="278.50" cy="534.10" r="2.75" fill="#000" stroke="none" stroke-width="0.5"/>
<line x1="278.50" y1="537.90" x2="278.50" y2="539.40" stroke="#222" stroke-width="0.7"/>
<text transform="translate(282.80,540.90) rotate(-40)" font-size="3.3" text-anchor="end" fill="#5a5a5a">LYN</text>
<circle cx="286.20" cy="513.80" r="2.75" fill="#000" stroke="none" stroke-width="0.5"/>
<circle cx="286.20" cy="520.60" r="1.85" fill="#fff" stroke="#111" stroke-width="0.75"/>
<circle cx="286.20" cy="527.30" r="0.75" fill="#000" stroke="none" stroke-width="0.5"/>
<circle cx="286.20" cy="534.10" r="0.75" fill="#000" stroke="none" stroke-width="0.5"/>
<line x1="286.20" y1="537.90" x2="286.20" y2="539.40" stroke="#222" stroke-width="0.7"/>
<text transform="translate(290.50,540.90) rotate(-40)" font-size="3.3" text-anchor="end" fill="#5a5a5a">PTK6</text>
<circle cx="293.80" cy="513.80" r="2.75" fill="#000" stroke="none" stroke-width="0.5"/>
<circle cx="293.80" cy="520.60" r="2.10" fill="#000" stroke="none" stroke-width="0.5"/>
<circle cx="293.80" cy="527.30" r="2.10" fill="#000" stroke="none" stroke-width="0.5"/>
<circle cx="293.80" cy="534.10" r="2.75" fill="#000" stroke="none" stroke-width="0.5"/>
<line x1="293.80" y1="537.90" x2="293.80" y2="539.40" stroke="#222" stroke-width="0.7"/>
<text transform="translate(298.10,540.90) rotate(-40)" font-size="3.3" text-anchor="end" fill="#5a5a5a">SRC</text>
<circle cx="301.00" cy="513.80" r="2.75" fill="#000" stroke="none" stroke-width="0.5"/>
<circle cx="301.00" cy="520.60" r="1.85" fill="#fff" stroke="#111" stroke-width="0.75"/>
<circle cx="301.00" cy="527.30" r="1.40" fill="#000" stroke="none" stroke-width="0.5"/>
<circle cx="301.00" cy="534.10" r="2.75" fill="#000" stroke="none" stroke-width="0.5"/>
<line x1="301.00" y1="537.90" x2="301.00" y2="539.40" stroke="#222" stroke-width="0.7"/>
<text transform="translate(305.30,540.90) rotate(-40)" font-size="3.3" text-anchor="end" fill="#5a5a5a">SRMS</text>
<circle cx="308.30" cy="513.80" r="2.75" fill="#000" stroke="none" stroke-width="0.5"/>
<circle cx="308.30" cy="520.60" r="1.85" fill="#fff" stroke="#111" stroke-width="0.75"/>
<circle cx="308.30" cy="527.30" r="1.85" fill="#fff" stroke="#111" stroke-width="0.75"/>
<circle cx="308.30" cy="534.10" r="2.10" fill="#000" stroke="none" stroke-width="0.5"/>
<line x1="308.30" y1="537.90" x2="308.30" y2="539.40" stroke="#222" stroke-width="0.7"/>
<text transform="translate(312.60,540.90) rotate(-40)" font-size="3.3" text-anchor="end" fill="#5a5a5a">YES1</text>
<rect x="315.70" y="503.30" width="7.90" height="5.40" fill="#d9d9d9" stroke="#333" stroke-width="0.5"/>
<rect x="315.70" y="508.70" width="7.90" height="29.20" fill="#fff" stroke="#333" stroke-width="0.5"/>
<line x1="316.00" y1="513.80" x2="323.30" y2="513.80" stroke="#eeeeee" stroke-width="0.4"/>
<line x1="316.00" y1="520.60" x2="323.30" y2="520.60" stroke="#eeeeee" stroke-width="0.4"/>
<line x1="316.00" y1="527.30" x2="323.30" y2="527.30" stroke="#eeeeee" stroke-width="0.4"/>
<line x1="316.00" y1="534.10" x2="323.30" y2="534.10" stroke="#eeeeee" stroke-width="0.4"/>
<text x="319.65" y="507.20" font-size="3.2" text-anchor="middle" fill="#1a1a1a" stroke="#1a1a1a" stroke-width="0.1">SYK</text>
<line x1="319.60" y1="508.70" x2="319.60" y2="537.90" stroke="#eeeeee" stroke-width="0.4"/>
<circle cx="319.60" cy="513.80" r="0.75" fill="#000" stroke="none" stroke-width="0.5"/>
<circle cx="319.60" cy="520.60" r="2.10" fill="#000" stroke="none" stroke-width="0.5"/>
<circle cx="319.60" cy="527.30" r="1.85" fill="#fff" stroke="#111" stroke-width="0.75"/>
<circle cx="319.60" cy="534.10" r="2.10" fill="#000" stroke="none" stroke-width="0.5"/>
<line x1="319.60" y1="537.90" x2="319.60" y2="539.40" stroke="#222" stroke-width="0.7"/>
<text transform="translate(323.90,540.90) rotate(-40)" font-size="3.3" text-anchor="end" fill="#5a5a5a">SYK</text>
<rect x="326.40" y="503.30" width="38.20" height="5.40" fill="#d9d9d9" stroke="#333" stroke-width="0.5"/>
<rect x="326.40" y="508.70" width="38.20" height="29.20" fill="#fff" stroke="#333" stroke-width="0.5"/>
<line x1="326.70" y1="513.80" x2="364.30" y2="513.80" stroke="#eeeeee" stroke-width="0.4"/>
<line x1="326.70" y1="520.60" x2="364.30" y2="520.60" stroke="#eeeeee" stroke-width="0.4"/>
<line x1="326.70" y1="527.30" x2="364.30" y2="527.30" stroke="#eeeeee" stroke-width="0.4"/>
<line x1="326.70" y1="534.10" x2="364.30" y2="534.10" stroke="#eeeeee" stroke-width="0.4"/>
<text x="345.50" y="507.20" font-size="3.2" text-anchor="middle" fill="#1a1a1a" stroke="#1a1a1a" stroke-width="0.1">TEC</text>
<line x1="330.60" y1="508.70" x2="330.60" y2="537.90" stroke="#eeeeee" stroke-width="0.4"/>
<line x1="337.90" y1="508.70" x2="337.90" y2="537.90" stroke="#eeeeee" stroke-width="0.4"/>
<line x1="345.30" y1="508.70" x2="345.30" y2="537.90" stroke="#eeeeee" stroke-width="0.4"/>
<line x1="352.80" y1="508.70" x2="352.80" y2="537.90" stroke="#eeeeee" stroke-width="0.4"/>
<line x1="360.20" y1="508.70" x2="360.20" y2="537.90" stroke="#eeeeee" stroke-width="0.4"/>
<circle cx="330.60" cy="513.80" r="2.75" fill="#000" stroke="none" stroke-width="0.5"/>
<circle cx="330.60" cy="520.60" r="2.75" fill="#000" stroke="none" stroke-width="0.5"/>
<circle cx="330.60" cy="527.30" r="1.85" fill="#fff" stroke="#111" stroke-width="0.75"/>
<circle cx="330.60" cy="534.10" r="1.40" fill="#000" stroke="none" stroke-width="0.5"/>
<line x1="330.60" y1="537.90" x2="330.60" y2="539.40" stroke="#222" stroke-width="0.7"/>
<text transform="translate(334.90,540.90) rotate(-40)" font-size="3.3" text-anchor="end" fill="#5a5a5a">BMX</text>
<circle cx="337.90" cy="513.80" r="2.75" fill="#000" stroke="none" stroke-width="0.5"/>
<circle cx="337.90" cy="520.60" r="1.85" fill="#fff" stroke="#111" stroke-width="0.75"/>
<circle cx="337.90" cy="527.30" r="1.85" fill="#fff" stroke="#111" stroke-width="0.75"/>
<circle cx="337.90" cy="534.10" r="1.40" fill="#000" stroke="none" stroke-width="0.5"/>
<line x1="337.90" y1="537.90" x2="337.90" y2="539.40" stroke="#222" stroke-width="0.7"/>
<text transform="translate(342.20,540.90) rotate(-40)" font-size="3.3" text-anchor="end" fill="#5a5a5a">BTK</text>
<circle cx="345.30" cy="513.80" r="2.75" fill="#000" stroke="none" stroke-width="0.5"/>
<circle cx="345.30" cy="520.60" r="1.85" fill="#fff" stroke="#111" stroke-width="0.75"/>
<circle cx="345.30" cy="527.30" r="0.75" fill="#000" stroke="none" stroke-width="0.5"/>
<circle cx="345.30" cy="534.10" r="1.40" fill="#000" stroke="none" stroke-width="0.5"/>
<line x1="345.30" y1="537.90" x2="345.30" y2="539.40" stroke="#222" stroke-width="0.7"/>
<text transform="translate(349.60,540.90) rotate(-40)" font-size="3.3" text-anchor="end" fill="#5a5a5a">ITK</text>
<circle cx="352.80" cy="513.80" r="2.75" fill="#000" stroke="none" stroke-width="0.5"/>
<circle cx="352.80" cy="520.60" r="1.85" fill="#fff" stroke="#111" stroke-width="0.75"/>
<circle cx="352.80" cy="527.30" r="1.85" fill="#fff" stroke="#111" stroke-width="0.75"/>
<circle cx="352.80" cy="534.10" r="2.75" fill="#000" stroke="none" stroke-width="0.5"/>
<line x1="352.80" y1="537.90" x2="352.80" y2="539.40" stroke="#222" stroke-width="0.7"/>
<text transform="translate(357.10,540.90) rotate(-40)" font-size="3.3" text-anchor="end" fill="#5a5a5a">TEC</text>
<circle cx="360.20" cy="513.80" r="2.75" fill="#000" stroke="none" stroke-width="0.5"/>
<circle cx="360.20" cy="520.60" r="1.85" fill="#fff" stroke="#111" stroke-width="0.75"/>
<circle cx="360.20" cy="527.30" r="2.10" fill="#000" stroke="none" stroke-width="0.5"/>
<circle cx="360.20" cy="534.10" r="2.75" fill="#000" stroke="none" stroke-width="0.5"/>
<line x1="360.20" y1="537.90" x2="360.20" y2="539.40" stroke="#222" stroke-width="0.7"/>
<text transform="translate(364.50,540.90) rotate(-40)" font-size="3.3" text-anchor="end" fill="#5a5a5a">TXK</text>
<rect x="367.70" y="503.30" width="7.80" height="5.40" fill="#d9d9d9" stroke="#333" stroke-width="0.5"/>
<rect x="367.70" y="508.70" width="7.80" height="29.20" fill="#fff" stroke="#333" stroke-width="0.5"/>
<line x1="368.00" y1="513.80" x2="375.20" y2="513.80" stroke="#eeeeee" stroke-width="0.4"/>
<line x1="368.00" y1="520.60" x2="375.20" y2="520.60" stroke="#eeeeee" stroke-width="0.4"/>
<line x1="368.00" y1="527.30" x2="375.20" y2="527.30" stroke="#eeeeee" stroke-width="0.4"/>
<line x1="368.00" y1="534.10" x2="375.20" y2="534.10" stroke="#eeeeee" stroke-width="0.4"/>
<text x="371.60" y="507.20" font-size="3.2" text-anchor="middle" fill="#1a1a1a" stroke="#1a1a1a" stroke-width="0.1">TRK</text>
<line x1="371.50" y1="508.70" x2="371.50" y2="537.90" stroke="#eeeeee" stroke-width="0.4"/>
<circle cx="371.50" cy="513.80" r="1.40" fill="#000" stroke="none" stroke-width="0.5"/>
<circle cx="371.50" cy="520.60" r="2.10" fill="#000" stroke="none" stroke-width="0.5"/>
<circle cx="371.50" cy="527.30" r="2.75" fill="#000" stroke="none" stroke-width="0.5"/>
<circle cx="371.50" cy="534.10" r="1.40" fill="#000" stroke="none" stroke-width="0.5"/>
<line x1="371.50" y1="537.90" x2="371.50" y2="539.40" stroke="#222" stroke-width="0.7"/>
<text transform="translate(375.80,540.90) rotate(-40)" font-size="3.3" text-anchor="end" fill="#5a5a5a">NTRK1</text>
<rect x="378.20" y="503.30" width="8.30" height="5.40" fill="#d9d9d9" stroke="#333" stroke-width="0.5"/>
<rect x="378.20" y="508.70" width="8.30" height="29.20" fill="#fff" stroke="#333" stroke-width="0.5"/>
<line x1="378.50" y1="513.80" x2="386.20" y2="513.80" stroke="#eeeeee" stroke-width="0.4"/>
<line x1="378.50" y1="520.60" x2="386.20" y2="520.60" stroke="#eeeeee" stroke-width="0.4"/>
<line x1="378.50" y1="527.30" x2="386.20" y2="527.30" stroke="#eeeeee" stroke-width="0.4"/>
<line x1="378.50" y1="534.10" x2="386.20" y2="534.10" stroke="#eeeeee" stroke-width="0.4"/>
<text x="382.35" y="507.20" font-size="2.0" text-anchor="middle" fill="#1a1a1a" stroke="#1a1a1a" stroke-width="0.1">VEGFR</text>
<line x1="382.40" y1="508.70" x2="382.40" y2="537.90" stroke="#eeeeee" stroke-width="0.4"/>
<circle cx="382.40" cy="513.80" r="1.40" fill="#000" stroke="none" stroke-width="0.5"/>
<circle cx="382.40" cy="520.60" r="1.85" fill="#fff" stroke="#111" stroke-width="0.75"/>
<circle cx="382.40" cy="527.30" r="2.10" fill="#000" stroke="none" stroke-width="0.5"/>
<circle cx="382.40" cy="534.10" r="0.75" fill="#000" stroke="none" stroke-width="0.5"/>
<line x1="382.40" y1="537.90" x2="382.40" y2="539.40" stroke="#222" stroke-width="0.7"/>
<text transform="translate(386.70,540.90) rotate(-40)" font-size="3.3" text-anchor="end" fill="#5a5a5a">FLT4</text>
<line x1="28.20" y1="513.80" x2="29.50" y2="513.80" stroke="#333" stroke-width="0.35"/>
<text x="27.60" y="515.00" font-size="3.4" text-anchor="end" fill="#4d4d4d" stroke="#4d4d4d" stroke-width="0.06">KRSA</text>
<line x1="28.20" y1="520.60" x2="29.50" y2="520.60" stroke="#333" stroke-width="0.35"/>
<text x="27.60" y="521.80" font-size="3.4" text-anchor="end" fill="#4d4d4d" stroke="#4d4d4d" stroke-width="0.06">PTM-SEA</text>
<line x1="28.20" y1="527.30" x2="29.50" y2="527.30" stroke="#333" stroke-width="0.35"/>
<text x="27.60" y="528.50" font-size="3.4" text-anchor="end" fill="#4d4d4d" stroke="#4d4d4d" stroke-width="0.06">KEA</text>
<line x1="28.20" y1="534.10" x2="29.50" y2="534.10" stroke="#333" stroke-width="0.35"/>
<text x="27.60" y="535.30" font-size="3.4" text-anchor="end" fill="#4d4d4d" stroke="#4d4d4d" stroke-width="0.06">UKA</text>
<circle cx="392.90" cy="504.60" r="1.70" fill="#fff" stroke="#111" stroke-width="0.7"/>
<circle cx="392.90" cy="510.60" r="1.90" fill="#000" stroke="none" stroke-width="0.5"/>
<text x="395.70" y="506.50" font-size="5.3" text-anchor="start" fill="#000" stroke="#000" stroke-width="0.1">Absent</text>
<text x="395.70" y="512.50" font-size="5.3" text-anchor="start" fill="#000" stroke="#000" stroke-width="0.1">Present</text>
<text x="393.20" y="522.40" font-size="5.5" text-anchor="start" fill="#000" stroke="#000" stroke-width="0.1">Quartile</text>
<line x1="393.20" y1="523.30" x2="412.60" y2="523.30" stroke="#000" stroke-width="0.45"/>
<circle cx="398.30" cy="528.80" r="2.75" fill="#000" stroke="none" stroke-width="0.5"/>
<text x="404.40" y="530.25" font-size="4.1" text-anchor="start" fill="#111" stroke="#111" stroke-width="0.02">1</text>
<circle cx="398.30" cy="534.80" r="2.10" fill="#000" stroke="none" stroke-width="0.5"/>
<text x="404.40" y="536.25" font-size="4.1" text-anchor="start" fill="#111" stroke="#111" stroke-width="0.02">2</text>
<circle cx="398.30" cy="540.30" r="1.40" fill="#000" stroke="none" stroke-width="0.5"/>
<text x="404.40" y="541.75" font-size="4.1" text-anchor="start" fill="#111" stroke="#111" stroke-width="0.02">3</text>
<circle cx="398.30" cy="544.80" r="0.75" fill="#000" stroke="none" stroke-width="0.5"/>
<text x="404.40" y="546.25" font-size="4.1" text-anchor="start" fill="#111" stroke="#111" stroke-width="0.02">4</text>
<text x="11.30" y="510.20" font-size="10.2" text-anchor="start" fill="#000" font-weight="bold">E</text>
</g>
</svg>
</body></html>
